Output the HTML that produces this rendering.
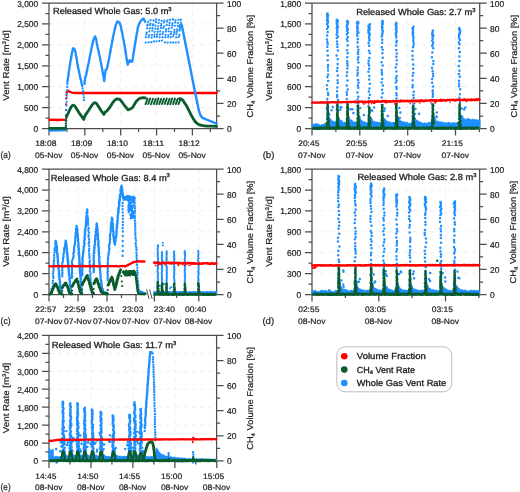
<!DOCTYPE html><html><head><meta charset="utf-8"><title>Vent rate figure</title><style>html,body{margin:0;padding:0;background:#fff}svg{display:block}</style></head><body><svg width="520" height="492" viewBox="0 0 520 492" font-family='"Liberation Sans", sans-serif' stroke-linejoin="round" text-rendering="geometricPrecision">
<rect width="520" height="492" fill="#fff"/>
<path d="M49 107.6H216.6M49 86.7H216.6M49 65.8H216.6M49 44.8H216.6M49 23.9H216.6M84.8 3V128.5M120.7 3V128.5M156.6 3V128.5M192.4 3V128.5" stroke="#e6e6e6" stroke-width="0.7" stroke-dasharray="4.1 4.3" fill="none"/>
<path d="M49 3H216.6V128.5H49ZM49 128.5h-7M49 118h-3.5M49 107.6h-7M49 97.1h-3.5M49 86.7h-7M49 76.2h-3.5M49 65.8h-7M49 55.3h-3.5M49 44.8h-7M49 34.4h-3.5M49 23.9h-7M49 13.5h-3.5M49 3h-7M216.6 128.5h7M216.6 116h3.5M216.6 103.4h7M216.6 90.8h3.5M216.6 78.3h7M216.6 65.8h3.5M216.6 53.2h7M216.6 40.7h3.5M216.6 28.1h7M216.6 15.5h3.5M216.6 3h7M49 128.5v7M84.8 128.5v7M120.7 128.5v7M156.6 128.5v7M192.4 128.5v7M66.9 128.5v3.5M102.8 128.5v3.5M138.6 128.5v3.5M174.5 128.5v3.5M210.3 128.5v3.5" stroke="#4d4d4d" stroke-width="1.25" fill="none"/>
<text x="38.2" y="131.9" font-size="8.5" text-anchor="end" textLength="4.7" lengthAdjust="spacingAndGlyphs" stroke="#1e1e1e" stroke-width="0.22" fill="#1e1e1e">0</text>
<text x="38.2" y="111" font-size="8.5" text-anchor="end" textLength="14.1" lengthAdjust="spacingAndGlyphs" stroke="#1e1e1e" stroke-width="0.22" fill="#1e1e1e">500</text>
<text x="38.2" y="90.1" font-size="8.5" text-anchor="end" textLength="21" lengthAdjust="spacingAndGlyphs" stroke="#1e1e1e" stroke-width="0.22" fill="#1e1e1e">1,000</text>
<text x="38.2" y="69.2" font-size="8.5" text-anchor="end" textLength="21" lengthAdjust="spacingAndGlyphs" stroke="#1e1e1e" stroke-width="0.22" fill="#1e1e1e">1,500</text>
<text x="38.2" y="48.3" font-size="8.5" text-anchor="end" textLength="21" lengthAdjust="spacingAndGlyphs" stroke="#1e1e1e" stroke-width="0.22" fill="#1e1e1e">2,000</text>
<text x="38.2" y="27.4" font-size="8.5" text-anchor="end" textLength="21" lengthAdjust="spacingAndGlyphs" stroke="#1e1e1e" stroke-width="0.22" fill="#1e1e1e">2,500</text>
<text x="38.2" y="6.5" font-size="8.5" text-anchor="end" textLength="21" lengthAdjust="spacingAndGlyphs" stroke="#1e1e1e" stroke-width="0.22" fill="#1e1e1e">3,000</text>
<text x="227" y="131.9" font-size="8.5" textLength="4.7" lengthAdjust="spacingAndGlyphs" stroke="#1e1e1e" stroke-width="0.22" fill="#1e1e1e">0</text>
<text x="227" y="106.9" font-size="8.5" textLength="9.4" lengthAdjust="spacingAndGlyphs" stroke="#1e1e1e" stroke-width="0.22" fill="#1e1e1e">20</text>
<text x="227" y="81.8" font-size="8.5" textLength="9.4" lengthAdjust="spacingAndGlyphs" stroke="#1e1e1e" stroke-width="0.22" fill="#1e1e1e">40</text>
<text x="227" y="56.7" font-size="8.5" textLength="9.4" lengthAdjust="spacingAndGlyphs" stroke="#1e1e1e" stroke-width="0.22" fill="#1e1e1e">60</text>
<text x="227" y="31.5" font-size="8.5" textLength="9.4" lengthAdjust="spacingAndGlyphs" stroke="#1e1e1e" stroke-width="0.22" fill="#1e1e1e">80</text>
<text x="227" y="6.5" font-size="8.5" textLength="14.1" lengthAdjust="spacingAndGlyphs" stroke="#1e1e1e" stroke-width="0.22" fill="#1e1e1e">100</text>
<text transform="translate(9 65.5) rotate(-90)" font-size="8.6" text-anchor="middle" textLength="70.5" lengthAdjust="spacingAndGlyphs" stroke="#1e1e1e" stroke-width="0.22" fill="#1e1e1e">Vent Rate [m<tspan dy="-3" font-size="5.4">3</tspan><tspan dy="3">/d]</tspan></text>
<text transform="translate(253.4 66.2) rotate(-90)" font-size="8.6" text-anchor="middle" textLength="102.7" lengthAdjust="spacingAndGlyphs" stroke="#1e1e1e" stroke-width="0.22" fill="#1e1e1e">CH<tspan dy="1.6" font-size="5.6">4</tspan><tspan dy="-1.6"> Volume Fraction [%]</tspan></text>
<text x="53" y="14.1" font-size="8.9" textLength="118.6" lengthAdjust="spacingAndGlyphs" stroke="#1e1e1e" stroke-width="0.3" fill="#1e1e1e">Released Whole Gas: 5.0 m<tspan dy="-3.2" font-size="5.6">3</tspan></text>
<text x="0.6" y="157.8" font-size="9.3" textLength="10.1" lengthAdjust="spacingAndGlyphs" stroke="#1e1e1e" stroke-width="0.22" fill="#1e1e1e">(a)</text>
<text x="35.2" y="146.2" font-size="8" textLength="21.2" lengthAdjust="spacingAndGlyphs" stroke="#1e1e1e" stroke-width="0.22" fill="#1e1e1e">18:08</text>
<text x="35" y="157.9" font-size="8" textLength="27.4" lengthAdjust="spacingAndGlyphs" stroke="#1e1e1e" stroke-width="0.22" fill="#1e1e1e">05-Nov</text>
<text x="71" y="146.2" font-size="8" textLength="21.2" lengthAdjust="spacingAndGlyphs" stroke="#1e1e1e" stroke-width="0.22" fill="#1e1e1e">18:09</text>
<text x="70.8" y="157.9" font-size="8" textLength="27.4" lengthAdjust="spacingAndGlyphs" stroke="#1e1e1e" stroke-width="0.22" fill="#1e1e1e">05-Nov</text>
<text x="106.9" y="146.2" font-size="8" textLength="21.2" lengthAdjust="spacingAndGlyphs" stroke="#1e1e1e" stroke-width="0.22" fill="#1e1e1e">18:10</text>
<text x="106.7" y="157.9" font-size="8" textLength="27.4" lengthAdjust="spacingAndGlyphs" stroke="#1e1e1e" stroke-width="0.22" fill="#1e1e1e">05-Nov</text>
<text x="142.8" y="146.2" font-size="8" textLength="21.2" lengthAdjust="spacingAndGlyphs" stroke="#1e1e1e" stroke-width="0.22" fill="#1e1e1e">18:11</text>
<text x="142.6" y="157.9" font-size="8" textLength="27.4" lengthAdjust="spacingAndGlyphs" stroke="#1e1e1e" stroke-width="0.22" fill="#1e1e1e">05-Nov</text>
<text x="178.6" y="146.2" font-size="8" textLength="21.2" lengthAdjust="spacingAndGlyphs" stroke="#1e1e1e" stroke-width="0.22" fill="#1e1e1e">18:12</text>
<text x="178.4" y="157.9" font-size="8" textLength="27.4" lengthAdjust="spacingAndGlyphs" stroke="#1e1e1e" stroke-width="0.22" fill="#1e1e1e">05-Nov</text>
<path d="M49.5 119.8 L49.9 119.7 L50.3 120 L50.7 119.6 L51.1 119.9 L51.5 119.8 L51.9 119.6 L52.3 119.9 L52.7 119.6 L53.1 119.9 L53.5 119.6 L53.9 119.6 L54.3 119.8 L54.7 120.1 L55.1 119.6 L55.5 119.7 L55.9 120 L56.3 120.2 L56.7 120 L57.1 119.8 L57.5 120.2 L57.9 119.6 L58.3 120.2 L58.7 119.8 L59.1 119.7 L59.5 119.6 L59.9 119.8 L60.3 120.1 L60.7 119.7 L61.1 120 L61.5 120 L61.9 119.8 L62.3 119.9 L62.7 119.6 L63.1 119.6 L63.5 119.7 L63.9 120 L64.3 119.8 L64.7 119.8 L65.1 120" stroke="#ff0000" stroke-width="2.2" stroke-linecap="round" stroke-linejoin="round" fill="none"/>
<path d="M65.9 116h0M66 110.2h0M66.1 104.4h0M66.2 98.5h0M66.4 95.1h0" stroke="#ff0000" stroke-width="2.3" stroke-linecap="round" fill="none"/>
<path d="M66.6 92.5 L66.9 91.9 L67 91.3 L67.3 90.7 L67.8 90.8 L68.3 90.9 L68.7 91.2 L69.1 91.4 L69.5 91.7 L70 92 L70.5 92.1 L71 92.3 L71.5 92.5 L72 92.7 L72.5 92.8 L73 92.8 L73.5 92.9 L74 92.9 L74.5 92.9 L75 92.9 L75.5 92.9 L76 93 L76.5 93 L77 93 L77.5 93 L78 93 L78.5 93 L79 93 L79.5 93 L80.1 93 L80.5 93 L81 93 L81.5 93 L82 93 L82.5 93 L83.1 93 L83.5 93 L84 93 L84.6 93 L85.1 93 L85.5 93 L86 93 L86.5 93 L87 93 L87.5 93 L88 93 L88.5 93 L89 93 L89.5 93 L90 93 L90.5 93 L91.1 93 L91.5 93 L92 93 L92.5 93 L93.1 93 L93.5 93 L94 93 L94.5 93 L95 93 L95.6 93 L96 93 L96.5 93 L97 93 L97.5 93 L98.1 93 L98.6 93 L99.1 93 L99.5 93 L100 93 L100.5 93 L101 93 L101.6 93 L102.1 93 L102.6 93 L103 93 L103.5 93 L104.1 93 L104.6 93 L105.1 93 L105.5 93 L106.1 93 L106.6 93 L107 93 L107.6 93 L108.1 93 L108.6 93 L109.1 93 L109.5 93 L110.1 93 L110.5 93 L111.1 93 L111.6 93 L112 93 L112.6 93 L113.1 93 L113.6 93 L114.1 93 L114.6 93 L115.1 93 L115.6 93 L116 93 L116.6 93 L117.1 93 L117.6 93 L118.1 93 L118.6 93 L119.1 93 L119.5 93 L120.1 93 L120.6 93 L121.1 93 L121.6 93 L122.1 93 L122.6 93 L123.1 93 L123.6 93 L124.1 93 L124.6 93 L125.1 93 L125.6 93 L126.1 93 L126.6 93 L127.2 93 L127.6 93 L128.1 93 L128.6 93 L129.1 93 L129.6 93 L130.1 93 L130.6 93 L131.1 93 L131.7 93 L132.1 93 L132.6 93 L133.2 93 L133.6 93 L134.1 93 L134.6 93 L135.1 93 L135.6 93 L136.1 93 L136.6 93 L137.1 93 L137.7 93 L138.1 93 L138.6 93 L139.1 93 L139.6 93 L140.2 93 L140.6 93 L141.1 93 L141.6 93 L142.2 93 L142.6 93 L143.2 93 L143.6 93 L144.1 93 L144.6 93 L145.2 93 L145.6 93 L146.2 93 L146.6 93 L147.1 93 L147.6 93 L148.2 93 L148.7 93 L149.1 93 L149.6 93 L150.2 93 L150.6 93 L151.2 93 L151.7 93 L152.2 93 L152.7 93 L153.2 93 L153.6 93 L154.2 93 L154.7 93 L155.1 93 L155.6 93 L156.1 93 L156.6 93 L157.2 93 L157.7 93 L158.2 93 L158.6 93 L159.2 93 L159.7 93 L160.2 93 L160.7 93 L161.1 93 L161.7 93 L162.2 93 L162.6 93 L163.1 93 L163.6 93 L164.2 93 L164.7 93 L165.2 93 L165.7 93 L166.2 93 L166.7 93 L167.2 93 L167.6 93 L168.2 93 L168.7 93 L169.2 93 L169.7 93 L170.2 93 L170.7 93 L171.2 93 L171.7 93 L172.2 93 L172.7 93 L173.2 93 L173.7 93 L174.2 93 L174.7 93 L175.2 93 L175.7 93 L176.2 93 L176.7 93 L177.2 93 L177.7 93 L178.2 93 L178.7 93 L179.2 93 L179.7 93 L180.2 93 L180.7 93 L181.2 93 L181.7 93 L182.2 93 L182.7 93 L183.2 93 L183.7 93 L184.3 93 L184.8 93 L185.2 93 L185.8 93 L186.2 93 L186.7 93 L187.2 93 L187.7 93 L188.3 93 L188.8 93 L189.3 93 L189.7 93 L190.2 93 L190.7 93 L191.2 93 L191.7 93 L192.2 93 L192.7 93 L193.3 93 L193.8 93 L194.3 93 L194.7 93 L195.3 93 L195.7 93 L196.2 93 L196.7 93 L197.2 93 L197.7 93 L198.3 93 L198.7 93 L199.3 93 L199.8 93 L200.3 93 L200.8 93 L201.3 93 L201.8 93 L202.2 93 L202.8 93 L203.3 93 L203.8 93 L204.3 93 L204.8 93 L205.3 93 L205.7 93 L206.2 93 L206.8 93 L207.3 93 L207.8 93 L208.3 93 L208.8 93 L209.3 93 L209.8 93 L210.3 93 L210.8 93 L211.3 93 L211.7 93 L212.3 93 L212.8 93 L213.3 93 L213.8 93 L214.3 93 L214.8 93 L215.3 93 L215.8 93 L216.3 93 L216.8 93" stroke="#ff0000" stroke-width="2.3" stroke-linecap="round" stroke-linejoin="round" fill="none"/>
<path d="M49.5 130.3h0M50 129.7h0M50.4 130.1h0M50.9 130.7h0M51.3 130.6h0M51.8 130.6h0M52.2 130.8h0M52.6 130h0M53.1 129.8h0M53.5 129.9h0M54 130.3h0M54.5 130.5h0M54.9 130.7h0M55.4 130.5h0M55.8 130.4h0M56.2 130.5h0M56.7 130.2h0M57.1 130.3h0M57.6 129.7h0M58 130.6h0M58.5 130h0M59 130.7h0M59.4 130.4h0M59.9 130h0M60.3 129.8h0M60.8 130h0M61.2 130.4h0M61.6 130.5h0M62.1 129.8h0M62.5 129.8h0M63 130.3h0M63.5 130.3h0M63.9 130.1h0M64.3 129.9h0M64.8 130.4h0M65.2 129.7h0" stroke="#1e8fff" stroke-width="2.3" stroke-linecap="round" fill="none"/>
<path d="M65.6 128h0M65.9 121h0M66.1 115h0M66.3 110h0M66.5 105.5h0M66.6 101.8h0M66.8 97.5h0M66.9 94h0M67 90.5h0M67.2 87h0M67.3 84h0" stroke="#1e8fff" stroke-width="2.3" stroke-linecap="round" fill="none"/>
<path d="M67.4 82h0M67.6 81.5h0M67.6 81h0M67.6 80.4h0M67.8 80h0M67.7 79.4h0M67.8 79h0M67.9 78.4h0M68 78.1h0M68 77.4h0M68.1 76.9h0M68.3 76.4h0M68.4 76h0M68.4 75.4h0M68.5 74.9h0M68.6 74.4h0M68.5 74h0M68.6 73.6h0M68.7 72.9h0M68.7 72.4h0M68.9 72h0M68.9 71.4h0M68.9 71h0M69 70.3h0M69.1 69.9h0M69.3 69.5h0M69.4 69h0M69.5 68.4h0M69.4 68h0M69.6 67.3h0M69.6 66.9h0M69.7 66.4h0M69.7 65.8h0M69.8 65.4h0M70 64.8h0M70.1 64.3h0M70.1 64h0M70.2 63.4h0M70.1 62.9h0M70.3 62.5h0M70.3 61.9h0M70.6 61.3h0M70.6 61h0M70.7 60.3h0M70.6 59.8h0M70.9 59.4h0M71 59.1h0M70.9 58.4h0M71.2 58h0M71.1 57.5h0M71.2 56.9h0M71.2 56.5h0M71.5 56h0M71.6 55.4h0M71.5 55h0M71.7 54.6h0M71.7 53.9h0M71.8 53.5h0M72 52.9h0M72.1 52.5h0M72.3 52h0M72.3 51.3h0M72.4 50.8h0M72.6 50.2h0M72.6 49.8h0M72.7 49.1h0M73 48.7h0M73.4 48.3h0M74.3 48.9h0M74.3 49.2h0M74.5 49.8h0M74.9 50.3h0M74.9 50.8h0M75.2 51.4h0M75.5 52h0M75.5 52.3h0M75.7 52.9h0M75.7 53.4h0M75.8 53.8h0M75.8 54.3h0M75.8 55h0M76 55.4h0M76.1 56h0M76.2 56.3h0M76.3 56.9h0M76.5 57.3h0M76.4 58h0M76.6 58.5h0M76.5 58.9h0M76.6 59.3h0M76.9 59.9h0M77 60.4h0M77 60.9h0M77 61.5h0M77.2 61.8h0M77.2 62.4h0M77.2 62.9h0M77.3 63.3h0M77.4 63.9h0M77.6 64.3h0M77.5 64.9h0M77.8 65.3h0M77.8 65.8h0M78 66.4h0M77.9 66.8h0M78.1 67.4h0M78.3 67.8h0M78.2 68.5h0M78.4 68.9h0M78.5 69.5h0M78.6 69.9h0M78.7 70.4h0M79 71h0M79 71.4h0M79.2 71.9h0M79.1 72.5h0M79.3 73h0M79.4 73.5h0M79.5 73.9h0M79.5 74.5h0M79.8 75.1h0M79.8 75.5h0M79.9 76h0M80 76.4h0M80.2 77.1h0M80.2 77.5h0M80.5 78.1h0M80.5 78.4h0M80.7 79.1h0M80.7 79.4h0M81 80h0M81.1 80.5h0M81.2 80.9h0M81.3 81.4h0M81.3 82.1h0M81.5 82.4h0M81.5 83h0M81.6 83.5h0M81.7 83.9h0M81.9 84.6h0M81.9 85h0M82.1 85.4h0M82.2 86h0" stroke="#1e8fff" stroke-width="2.4" stroke-linecap="round" fill="none"/>
<path d="M82.6 88.5h0M83.1 91.2h0M83.5 94.5h0M83.8 97.4h0M84 100.2h0" stroke="#1e8fff" stroke-width="2.3" stroke-linecap="round" fill="none"/>
<path d="M84.6 83.9h0M84.6 83.5h0M84.6 82.9h0M84.6 82.5h0M84.6 82h0M84.7 81.4h0M84.6 80.9h0M84.8 80.3h0M85 79.9h0M85 79.2h0M85.1 78.6h0M85.1 78.1h0M85.2 77.6h0M85.5 77h0M85.7 76.5h0M85.8 76.1h0M85.9 75.4h0M86.1 75h0M86.3 74.4h0M86.4 74.1h0M86.5 73.6h0M86.4 73.1h0M86.6 72.6h0M86.8 71.9h0M86.9 71.6h0M86.8 70.9h0M87.1 70.4h0M87.2 69.9h0M87.3 69.4h0M87.3 69.1h0M87.4 68.4h0M87.6 67.9h0M87.5 67.4h0M87.7 67h0M87.9 66.5h0M87.9 66h0M88 65.4h0M88.2 64.9h0M88.4 64.4h0M88.4 64h0M88.4 63.5h0M88.6 62.9h0M88.8 62.3h0M88.9 61.9h0M88.9 61.5h0M89 60.8h0M89.2 60.3h0M89.3 59.9h0M89.3 59.6h0M89.4 59h0M89.5 58.3h0M89.5 57.9h0M89.7 57.5h0M89.8 57.1h0M89.8 56.4h0M90 55.9h0M90 55.5h0M90.1 55h0M90.2 54.6h0M90.4 54h0M90.5 53.5h0M90.5 53.2h0M90.6 52.5h0M90.7 52.1h0M91 51.7h0M91 51h0M91 50.6h0M91.2 50.1h0M91.3 49.6h0M91.5 49.2h0M91.4 48.7h0M91.5 48.2h0M91.7 47.6h0M91.7 47.2h0M91.8 46.7h0M92.1 46.1h0M92 45.7h0M92.2 45.2h0M92.4 44.6h0M92.4 44.1h0M92.5 43.8h0M92.8 43.2h0M92.7 42.7h0M93 42.1h0M93.2 41.6h0M93.2 41h0M93.3 40.5h0M93.5 40.2h0M93.7 39.7h0M93.8 39.1h0M93.9 38.6h0M94.2 38.1h0M94.4 37.6h0M94.8 37h0M95.1 36.4h0M95.2 36.9h0M95.6 37.6h0M95.8 38h0M96.1 38.5h0M96 39.1h0M96.2 39.6h0M96.3 40.2h0M96.4 40.6h0M96.5 41.2h0M96.5 41.6h0M96.7 42.1h0M96.7 42.7h0M96.7 43.2h0M96.8 43.5h0M96.9 44.3h0M97.1 44.6h0M97.1 45.1h0M97.4 45.7h0M97.5 46.3h0M97.4 46.7h0M97.6 47.3h0M97.8 47.8h0M97.8 48.3h0M98.1 48.8h0M98 49.1h0M98.1 49.6h0M98.4 50.3h0M98.4 50.8h0M98.6 51.1h0M98.5 51.6h0M98.8 52.1h0M98.8 52.7h0M98.8 53.1h0M99 53.8h0M99.1 54.2h0M99.4 54.7h0M99.5 55.2h0M99.4 55.7h0M99.6 56.3h0M99.7 56.7h0M99.8 57.1h0M100 57.6h0M100.1 58.1h0M100.1 58.6h0M100.3 59.3h0M100.3 59.7h0M100.5 60.3h0M100.5 60.7h0M100.6 61.3h0M100.7 61.8h0M100.8 62.1h0M101 62.7h0M101 63.2h0M101 63.8h0M101.3 64.2h0M101.4 64.6h0M101.4 65.1h0M101.6 65.6h0M101.7 66.1h0M101.6 66.6h0M101.9 67.2h0M101.8 67.8h0M101.9 68.1h0M102.1 68.7h0M102.2 69.2h0M102.2 69.6h0M102.3 70.2h0M102.5 70.7h0M102.4 71.1h0M102.7 71.7h0M102.6 72.1h0M102.9 72.6h0M102.8 73.1h0M103 73.7h0M103 74h0M103.1 74.6h0M103.3 75h0M103.3 75.5h0M103.6 76.2h0M103.4 76.7h0M103.5 77.1h0M103.8 77.7h0M103.9 78.1h0M103.8 78.6h0M103.9 79.1h0M104 79.7h0M104.1 80.5h0M104.2 81h0M104.3 80.5h0M104.2 80h0M104.4 79.6h0M104.6 79h0M104.6 78.6h0M104.6 77.9h0M104.7 77.6h0M104.8 77h0M104.9 76.5h0M104.9 75.9h0M104.9 75.5h0M104.9 74.9h0M105.1 74.5h0M105.2 73.8h0M105.2 73.4h0M105.3 72.8h0M105.4 72.5h0M105.3 71.9h0M105.5 71.3h0M105.5 70.9h0M105.5 70.3h0M105.8 69.9h0M106.4 69.5h0M106.5 69h0M106.9 68.7h0M107 68.1h0M107.3 67.6h0M107.3 67.1h0M107.4 66.6h0M107.6 66.1h0M107.6 65.6h0M107.8 64.9h0M107.8 64.5h0M107.9 64h0M108.1 63.6h0M108.1 63h0M108.2 62.6h0M108.5 62.1h0M108.4 61.7h0M108.5 61h0M108.6 60.7h0M108.8 60.1h0M108.8 59.6h0M108.9 59.2h0M109 58.7h0M109.2 58.2h0M109.2 57.6h0M109.3 57.1h0M109.5 56.6h0M109.6 56.1h0M109.6 55.6h0M109.7 55.1h0M109.7 54.8h0M109.8 54.1h0M109.9 53.7h0M110.1 53.2h0M110.2 52.7h0M110.4 52.3h0M110.2 51.8h0M110.5 51.3h0M110.4 50.8h0M110.7 50.1h0M110.6 49.8h0M110.8 49.2h0M110.8 48.6h0M110.9 48.3h0M111 47.7h0M111.3 47.3h0M111.2 46.8h0M111.4 46.3h0M111.5 45.8h0M111.6 45.3h0M111.6 44.8h0M111.7 44.3h0M111.8 43.9h0M111.9 43.2h0M111.9 42.7h0M112.1 42.2h0M112.2 41.7h0M112.3 41.3h0M112.4 40.9h0M112.3 40.4h0M112.5 39.8h0M112.7 39.4h0M112.7 38.8h0M112.9 38.2h0M112.9 37.8h0M112.9 37.3h0M113.1 36.9h0M113.2 36.4h0M113.3 35.8h0M113.5 35.2h0M113.6 34.9h0M113.6 34.4h0M113.7 33.8h0M113.9 33.4h0M113.9 32.9h0M114.1 32.4h0M114.3 31.8h0M114.4 31.4h0M114.4 30.8h0M114.5 30.5h0M114.7 30h0M114.7 29.4h0M114.8 29h0M115 28.5h0M114.9 28h0M115.3 27.5h0M115.2 26.9h0M115.3 26.4h0M115.6 26h0M115.6 25.6h0M115.9 25h0M116.1 24.5h0M116.3 24h0M116.5 23.4h0M116.7 22.9h0M116.9 22.3h0M117 21.8h0M117.4 21.5h0M118 21.6h0M118.7 22h0M119 22.2h0M119.4 22.7h0M119.8 23.1h0M120 23.7h0M120 24.1h0M120.1 24.5h0M120.5 25.1h0M120.7 25.5h0M120.6 26h0M120.9 26.6h0M121.1 27h0M121.1 27.4h0M121.2 27.9h0M121.2 28.4h0M121.3 29h0M121.4 29.6h0M121.5 30.1h0M121.6 30.4h0M121.9 30.9h0M122 31.4h0M121.9 32.1h0M122.2 32.6h0M122.3 32.9h0M122.3 33.6h0M122.4 34.1h0M122.4 34.6h0M122.6 34.9h0M122.6 35.5h0M122.8 35.9h0M122.8 36.5h0M122.9 37h0M123 37.3h0M123.1 38h0M123.2 38.5h0M123.2 39h0M123.4 39.4h0M123.5 39.9h0M123.6 40.5h0M123.8 41h0M123.8 41.3h0M123.8 42h0M124 42.4h0M124 42.9h0M124.3 43.4h0M124.3 43.8h0M124.3 44.4h0M124.4 44.9h0M124.5 45.4h0M124.7 45.8h0M124.6 46.3h0M124.8 46.8h0M125 47.4h0M124.9 47.9h0M125.1 48.4h0M125.1 48.8h0M125.3 49.4h0M125.3 49.9h0M125.3 50.2h0M125.5 50.9h0M125.4 51.4h0M125.7 51.8h0M125.7 52.4h0M125.8 52.8h0M125.8 53.4h0M126 53.8h0M125.9 54.4h0M126.1 54.8h0M126.2 55.4h0M126.3 55.9h0M126.3 56.4h0M126.3 56.8h0M126.4 57.4h0M126.5 57.9h0M126.6 58.4h0M126.6 58.8h0M126.9 59.3h0M126.8 59.9h0M127 60.3h0M127.1 60.8h0M127.1 61.3h0M127.1 62h0M127.4 62.4h0M127.4 62.8h0M127.5 63.4h0M127.6 64h0M127.7 64.5h0M127.9 63.8h0M128.2 63.4h0M128.4 62.9h0M128.7 62.6h0M128.9 62.2h0M129.3 61.5h0M129.4 61.1h0M129.5 60.8h0M129.7 60.2h0M130.2 60.8h0M130.6 61.1h0M131 61.5h0M131.8 61.7h0M132.2 61.4h0M132.3 61h0M132.6 60.6h0M132.6 59.9h0M132.7 59.6h0M132.7 59.1h0M132.7 58.4h0M132.9 58.1h0M133 57.5h0M133 57.1h0M133 56.5h0M133.1 55.9h0M133.2 55.4h0M133.2 54.9h0M133.4 54.4h0M133.5 53.9h0M133.4 53.6h0M133.5 53.1h0M133.8 52.6h0M133.7 52h0M133.7 51.6h0M134 51h0M134 50.5h0M134.1 50h0M134.2 49.4h0M134.2 48.9h0M134.4 48.5h0M134.3 48.1h0M134.4 47.5h0M134.5 46.9h0M134.7 46.5h0M134.6 46h0M134.8 45.6h0M134.8 45.1h0M134.9 44.6h0M135.1 43.9h0M135.1 43.4h0M135.2 42.9h0M135.3 42.6h0M135.5 42.1h0M135.4 41.4h0M135.7 40.9h0M135.7 40.4h0M135.9 39.8h0M135.9 39.4h0M135.8 38.8h0M136.1 38.5h0M136 37.9h0M136.3 37.4h0M136.3 36.9h0M136.3 36.5h0M136.5 35.9h0M136.4 35.3h0M136.6 34.9h0M136.6 34.4h0M136.8 34h0M136.9 33.4h0M136.9 32.8h0M137.1 32.4h0M137.2 31.8h0M137.3 31.4h0M137.4 31h0M137.4 30.3h0M137.5 29.9h0M137.6 29.3h0M137.5 29h0M137.7 28.3h0M137.8 27.9h0M137.9 27.4h0M138.2 26.9h0M138.2 26.5h0M138.6 26h0M138.6 25.5h0M138.8 25h0M138.9 24.6h0M139.2 24h0M139.3 23.5h0M139.6 23h0M140 22.6h0M140.1 22.1h0M140.4 21.8h0M140.6 21.2h0M141 20.8h0M141.2 20.5h0M141.7 20.1h0M142 19.6h0M142.4 19.4h0M142.8 18.9h0M143.5 18.7h0M143.7 19.1h0M144.1 19.7h0M144.4 20.4h0M144.6 20.8h0M145 21.2h0M145.2 21.7h0" stroke="#1e8fff" stroke-width="2.4" stroke-linecap="round" fill="none"/>
<path d="M145.7 42.6h0M145.9 37.1h0M146.4 34.4h0M146.6 32.6h0M147.1 28.3h0M147.2 25.4h0M147.6 24.7h0M148.1 21.9h0M148.5 42.4h0M148.5 37.3h0M149.2 35.3h0M149.3 31.4h0M149.8 28.4h0M150.1 24.9h0M150.4 23.6h0M150.6 20.2h0M151.3 42.2h0M151.6 37.6h0M151.9 35.1h0M152.3 30.6h0M152.5 28.2h0M152.9 25.3h0M153.2 24.5h0M153.6 20.5h0M153.9 41.5h0M154.4 36.8h0M154.5 34.6h0M154.7 31.8h0M155.4 28.7h0M155.5 25.7h0M155.9 22h0M156.1 19.4h0M156.5 41.4h0M156.9 36.7h0M157.1 34.4h0M157.8 31.8h0M158 29h0M158.2 26.3h0M158.6 22.9h0M159.1 20.1h0M159.3 41h0M159.6 37.3h0M160 34.5h0M160.2 31.3h0M160.9 28.1h0M161.1 25.8h0M161.3 23.9h0M161.7 20.8h0M162 40.6h0M162.6 37.2h0M162.6 34.1h0M163.1 32.1h0M163.3 28.1h0M164 26.3h0M164 22.4h0M164.4 20.6h0M164.9 42.4h0M165.3 37.3h0M165.6 34.8h0M166 31.5h0M166.3 29.2h0M166.7 25h0M167.1 21.7h0M167.4 20.4h0M167.6 42.6h0M168 37.1h0M168.4 35.1h0M168.7 31.3h0M169 28.6h0M169.4 25.3h0M169.6 22.9h0M170 19.8h0M170.5 42.4h0M170.7 37.2h0M170.9 33.9h0M171.2 31.8h0M171.8 27.8h0M172.2 25.4h0M172.5 23.5h0M172.9 19.5h0M173.1 42.5h0M173.2 36.3h0M173.8 34.3h0M174.3 32.2h0M174.5 29.8h0M174.8 25.8h0M175.2 22.6h0M175.4 20.4h0M175.8 42.6h0M176.3 37.4h0M176.4 34h0M176.8 31.7h0M177.3 29.5h0M177.8 25.8h0M177.9 23.1h0M178.5 19.9h0M178.6 42.3h0M178.8 36.9h0M179.5 35h0M179.6 30.7h0M180.1 29.1h0M180.4 26.9h0M180.8 22.6h0M180.9 19.7h0" stroke="#1e8fff" stroke-width="2.3" stroke-linecap="round" fill="none"/>
<path d="M179.6 27 L180.4 25 L181.2 24.3 L181.9 25.8 L188.7 60 L194.6 90.1 L198.8 110.2 L200.3 115 L202.1 117.7 L206 119.4 L211 121.4 L216.6 123.6" stroke="#1e8fff" stroke-width="2.4" stroke-linecap="round" stroke-linejoin="round" fill="none"/>
<path d="M49.5 128.3 L65.8 128.3" stroke="#0a5c2c" stroke-width="2.8" stroke-linecap="round" stroke-linejoin="round" fill="none"/>
<path d="M65.9 126h0M66 123.5h0M66.2 120.5h0M66.4 118.2h0" stroke="#0a5c2c" stroke-width="2.3" stroke-linecap="round" fill="none"/>
<path d="M66.6 116.5 L68.5 112.5 L71 107.2 L72.4 105.5 L73.4 105.2 L74.6 105.8 L77 109.5 L80 114.2 L83.8 119.4 L84.6 116.6 L86 114.3 L89 109.8 L92 105 L93.8 103.1 L95 102.7 L96.3 103.2 L98 105.8 L101 110.5 L103.9 114.4 L104.8 112.6 L105.6 111.8 L107 110.8 L109.7 107.5 L113 102.2 L115.5 99.6 L117.3 98.8 L119.8 99.3 L122 102 L125 106.2 L128.1 109.9 L129.2 109.3 L130.6 108.9 L132.5 107.6 L136 101.8 L138 99.6 L140.2 98.1 L143.5 97.6 L145.3 97.9" stroke="#0a5c2c" stroke-width="2.8" stroke-linecap="round" stroke-linejoin="round" fill="none"/>
<path d="M145.5 104.2L147.5 98.6M148.2 104L150.2 98.4M151 104.3L153 98.7M153.8 104.1L155.8 98.9M156.5 104.3L158.5 98.3M159.2 104.1L161.2 98.8M162 104.1L164 98.7M164.8 103.9L166.8 98.5M167.5 104.4L169.5 98.7M170.2 104.3L172.2 98.4M173 104.2L175 98.6M175.8 104.1L177.8 98.7M178.5 104.2L180.5 98.9" stroke="#0a5c2c" stroke-width="1.9" stroke-linecap="round" fill="none"/>
<path d="M179.6 98.6 L181.2 98.8 L183 100.6 L186.2 105.2 L191.2 115.2 L195.4 121.9 L197.5 123.8 L199.6 124.9 L203 125.7 L206.3 126 L211 126.2 L216.6 126.4" stroke="#0a5c2c" stroke-width="2.8" stroke-linecap="round" stroke-linejoin="round" fill="none"/>
<path d="M312 107.6H479.7M312 86.7H479.7M312 65.8H479.7M312 44.8H479.7M312 23.9H479.7M359.8 3V128.5M407.7 3V128.5M455.5 3V128.5" stroke="#e6e6e6" stroke-width="0.7" stroke-dasharray="4.1 4.3" fill="none"/>
<path d="M312 3H479.7V128.5H312ZM312 128.5h-7M312 118h-3.5M312 107.6h-7M312 97.1h-3.5M312 86.7h-7M312 76.2h-3.5M312 65.8h-7M312 55.3h-3.5M312 44.8h-7M312 34.4h-3.5M312 23.9h-7M312 13.5h-3.5M312 3h-7M479.7 128.5h7M479.7 116h3.5M479.7 103.4h7M479.7 90.8h3.5M479.7 78.3h7M479.7 65.8h3.5M479.7 53.2h7M479.7 40.7h3.5M479.7 28.1h7M479.7 15.5h3.5M479.7 3h7M312 128.5v7M359.8 128.5v7M407.7 128.5v7M455.5 128.5v7M335.9 128.5v3.5M383.7 128.5v3.5M431.6 128.5v3.5M479.4 128.5v3.5" stroke="#4d4d4d" stroke-width="1.25" fill="none"/>
<text x="301.2" y="131.9" font-size="8.5" text-anchor="end" textLength="4.7" lengthAdjust="spacingAndGlyphs" stroke="#1e1e1e" stroke-width="0.22" fill="#1e1e1e">0</text>
<text x="301.2" y="111" font-size="8.5" text-anchor="end" textLength="14.1" lengthAdjust="spacingAndGlyphs" stroke="#1e1e1e" stroke-width="0.22" fill="#1e1e1e">300</text>
<text x="301.2" y="90.1" font-size="8.5" text-anchor="end" textLength="14.1" lengthAdjust="spacingAndGlyphs" stroke="#1e1e1e" stroke-width="0.22" fill="#1e1e1e">600</text>
<text x="301.2" y="69.2" font-size="8.5" text-anchor="end" textLength="14.1" lengthAdjust="spacingAndGlyphs" stroke="#1e1e1e" stroke-width="0.22" fill="#1e1e1e">900</text>
<text x="301.2" y="48.3" font-size="8.5" text-anchor="end" textLength="21" lengthAdjust="spacingAndGlyphs" stroke="#1e1e1e" stroke-width="0.22" fill="#1e1e1e">1,200</text>
<text x="301.2" y="27.4" font-size="8.5" text-anchor="end" textLength="21" lengthAdjust="spacingAndGlyphs" stroke="#1e1e1e" stroke-width="0.22" fill="#1e1e1e">1,500</text>
<text x="301.2" y="6.5" font-size="8.5" text-anchor="end" textLength="21" lengthAdjust="spacingAndGlyphs" stroke="#1e1e1e" stroke-width="0.22" fill="#1e1e1e">1,800</text>
<text x="490.1" y="131.9" font-size="8.5" textLength="4.7" lengthAdjust="spacingAndGlyphs" stroke="#1e1e1e" stroke-width="0.22" fill="#1e1e1e">0</text>
<text x="490.1" y="106.9" font-size="8.5" textLength="9.4" lengthAdjust="spacingAndGlyphs" stroke="#1e1e1e" stroke-width="0.22" fill="#1e1e1e">20</text>
<text x="490.1" y="81.8" font-size="8.5" textLength="9.4" lengthAdjust="spacingAndGlyphs" stroke="#1e1e1e" stroke-width="0.22" fill="#1e1e1e">40</text>
<text x="490.1" y="56.7" font-size="8.5" textLength="9.4" lengthAdjust="spacingAndGlyphs" stroke="#1e1e1e" stroke-width="0.22" fill="#1e1e1e">60</text>
<text x="490.1" y="31.5" font-size="8.5" textLength="9.4" lengthAdjust="spacingAndGlyphs" stroke="#1e1e1e" stroke-width="0.22" fill="#1e1e1e">80</text>
<text x="490.1" y="6.5" font-size="8.5" textLength="14.1" lengthAdjust="spacingAndGlyphs" stroke="#1e1e1e" stroke-width="0.22" fill="#1e1e1e">100</text>
<text transform="translate(272 65.5) rotate(-90)" font-size="8.6" text-anchor="middle" textLength="70.5" lengthAdjust="spacingAndGlyphs" stroke="#1e1e1e" stroke-width="0.22" fill="#1e1e1e">Vent Rate [m<tspan dy="-3" font-size="5.4">3</tspan><tspan dy="3">/d]</tspan></text>
<text transform="translate(516.5 66.2) rotate(-90)" font-size="8.6" text-anchor="middle" textLength="102.7" lengthAdjust="spacingAndGlyphs" stroke="#1e1e1e" stroke-width="0.22" fill="#1e1e1e">CH<tspan dy="1.6" font-size="5.6">4</tspan><tspan dy="-1.6"> Volume Fraction [%]</tspan></text>
<text x="356.2" y="14.8" font-size="8.9" textLength="119.4" lengthAdjust="spacingAndGlyphs" stroke="#1e1e1e" stroke-width="0.3" fill="#1e1e1e">Released Whole Gas: 2.7 m<tspan dy="-3.2" font-size="5.6">3</tspan></text>
<text x="262.7" y="157.8" font-size="9.3" textLength="11.7" lengthAdjust="spacingAndGlyphs" stroke="#1e1e1e" stroke-width="0.22" fill="#1e1e1e">(b)</text>
<text x="298.2" y="146.2" font-size="8" textLength="21.2" lengthAdjust="spacingAndGlyphs" stroke="#1e1e1e" stroke-width="0.22" fill="#1e1e1e">20:45</text>
<text x="298" y="157.9" font-size="8" textLength="27.4" lengthAdjust="spacingAndGlyphs" stroke="#1e1e1e" stroke-width="0.22" fill="#1e1e1e">07-Nov</text>
<text x="346" y="146.2" font-size="8" textLength="21.2" lengthAdjust="spacingAndGlyphs" stroke="#1e1e1e" stroke-width="0.22" fill="#1e1e1e">20:55</text>
<text x="345.8" y="157.9" font-size="8" textLength="27.4" lengthAdjust="spacingAndGlyphs" stroke="#1e1e1e" stroke-width="0.22" fill="#1e1e1e">07-Nov</text>
<text x="393.9" y="146.2" font-size="8" textLength="21.2" lengthAdjust="spacingAndGlyphs" stroke="#1e1e1e" stroke-width="0.22" fill="#1e1e1e">21:05</text>
<text x="393.7" y="157.9" font-size="8" textLength="27.4" lengthAdjust="spacingAndGlyphs" stroke="#1e1e1e" stroke-width="0.22" fill="#1e1e1e">07-Nov</text>
<text x="441.7" y="146.2" font-size="8" textLength="21.2" lengthAdjust="spacingAndGlyphs" stroke="#1e1e1e" stroke-width="0.22" fill="#1e1e1e">21:15</text>
<text x="441.5" y="157.9" font-size="8" textLength="27.4" lengthAdjust="spacingAndGlyphs" stroke="#1e1e1e" stroke-width="0.22" fill="#1e1e1e">07-Nov</text>
<path d="M312.3 128L312.3 125.1L312.8 125.2L313.2 125.4L313.6 125.2L314.1 124.1L314.5 125L315 124.9L315.4 124.7L315.9 124.2L316.3 123.7L316.8 124.2L317.2 124L317.7 125.3L318.1 125.5L318.6 124.6L319 125.4L319.5 125L319.9 125.6L320.4 125.8L320.8 125.7L321.3 125.8L321.7 124.6L322.2 124.9L322.6 125.1L323.1 124.7L323.5 124.7L324 125.1L324.4 123.6L324.9 124.1L325.3 123.5L325.8 124.4L326.2 124.2L326.7 124.9L327.1 124.2L327.6 122.6L328 122.8L328.5 117.5L328.9 116.6L329.4 117.8L329.8 119.9L330.3 119.7L330.7 119.4L331.2 120.9L331.6 120.3L332.1 122.2L332.5 122.1L333 121.6L333.4 122.9L333.9 122.8L334.3 121.9L334.8 122.7L335.2 122.3L335.7 123.4L336.1 123.6L336.6 123.3L337 123.7L337.5 122.3L337.9 116.8L338.4 117L338.8 119.2L339.3 118.8L339.7 119.9L340.2 120.4L340.6 121.7L341.1 121.9L341.5 120.6L342 122L342.4 122.5L342.9 122.8L343.3 122.8L343.8 123L344.2 123.5L344.7 122.4L345.1 123.1L345.6 123.6L346 122.6L346.5 123.8L346.9 123.5L347.4 122.5L347.8 123.9L348.3 116.9L348.7 116.7L349.2 117.7L349.6 120.2L350.1 120.3L350.5 119.9L351 121.1L351.4 120.2L351.9 122.2L352.3 120.9L352.8 122.1L353.2 122.8L353.7 122.5L354.1 123.3L354.6 122.3L355 123.3L355.5 122.1L355.9 122.8L356.4 123.3L356.8 123.6L357.3 122.9L357.7 123.7L358.2 122.5L358.6 117.9L359.1 117.6L359.5 118.4L360 119.8L360.4 119.1L360.9 120.6L361.3 120.4L361.8 121L362.2 121.9L362.7 122L363.1 122.9L363.6 122.9L364 121.7L364.5 122.9L364.9 122.4L365.4 123.5L365.8 122.8L366.3 123.2L366.7 123L367.2 123.5L367.6 123.9L368.1 123.5L368.5 123.7L369 123.9L369.4 122.9L369.9 117.3L370.3 117.9L370.8 117.2L371.2 118.4L371.7 118.8L372.1 119.4L372.6 121.7L373 121.7L373.5 122.5L373.9 121.4L374.4 121.7L374.8 122.5L375.3 122.6L375.7 122.2L376.2 122.3L376.6 123.3L377.1 122.2L377.5 123.2L378 122.8L378.4 123.7L378.9 123.8L379.3 122.4L379.8 122.8L380.2 122.8L380.7 124.1L381.1 124.1L381.6 123.9L382 123.9L382.5 123.7L382.9 116.9L383.4 119L383.8 118.9L384.3 118.7L384.7 120.6L385.2 119.5L385.6 120.6L386.1 120.7L386.5 122L387 121.9L387.4 121.6L387.9 122.5L388.3 123.4L388.8 121.9L389.2 122.1L389.7 123.2L390.1 123.7L390.6 122.3L391 122.8L391.5 123.9L391.9 123.6L392.4 123.9L392.8 122.7L393.3 123.8L393.7 122.5L394.2 122.8L394.6 124L395.1 123L395.5 123.5L396 122.9L396.4 122.8L396.9 116.9L397.3 118.5L397.8 116.8L398.2 119.1L398.7 118.4L399.1 119.7L399.6 120L400 120.3L400.5 121.1L400.9 121.8L401.4 122.9L401.8 121.7L402.3 122.5L402.7 122.5L403.2 121.8L403.6 123.5L404.1 122.3L404.5 123.8L405 122.6L405.4 122.5L405.9 123.5L406.3 123.1L406.8 122.3L407.2 123L407.7 123.2L408.1 123.7L408.6 124.1L409 123.6L409.5 123.5L409.9 123.9L410.4 123.7L410.8 124L411.3 123L411.7 123.1L412.2 123.8L412.6 123.8L413.1 123.4L413.5 123.5L414 115.4L414.4 118.3L414.9 119.3L415.3 118.3L415.8 120.9L416.2 120.3L416.7 121.3L417.1 120.6L417.6 121.5L418 121.3L418.5 122.8L418.9 121.9L419.4 122.3L419.8 122.7L420.3 122.2L420.7 122.2L421.2 123.6L421.6 123.4L422.1 123.3L422.5 123.6L423 123.9L423.4 123.6L423.9 123.8L424.3 122.9L424.8 123.4L425.2 124L425.7 123.6L426.1 123.4L426.6 123.6L427 123.9L427.5 124.1L427.9 124.2L428.4 122.5L428.8 122.9L429.3 124.1L429.7 123L430.2 122.5L430.6 123.3L431.1 124.1L431.5 123.4L432 123.5L432.4 123.9L432.9 123.3L433.3 118L433.8 116L434.2 117.8L434.7 118.6L435.1 118.5L435.6 119.8L436 121.3L436.5 121.7L436.9 122.2L437.4 122.7L437.8 121.4L438.3 121.5L438.7 122.8L439.2 123.1L439.6 122.4L440.1 122.1L440.5 122L441 123.6L441.4 122.5L441.9 122.5L442.3 122.7L442.8 123.5L443.2 123.8L443.7 122.6L444.1 123.6L444.6 123.5L445 123.2L445.5 123.5L445.9 122.7L446.4 123.8L446.8 124.2L447.3 123.2L447.7 123.1L448.2 122.8L448.6 123L449.1 122.7L449.5 122.6L450 123.4L450.4 123.4L450.9 124L451.3 123.7L451.8 123.2L452.2 124.1L452.7 123.1L453.1 124L453.6 123.5L454 122.6L454.5 124.1L454.9 124.2L455.4 123.5L455.8 123.9L456.3 123L456.7 124.3L457.2 122.8L457.6 122.8L458.1 122.9L458.5 123.5L459 123.8L459.4 123.1L459.9 123.4L460.3 114.2L460.8 115.5L461.2 115.9L461.7 115.8L462.1 116L462.6 116.3L463 119L463.5 119L463.9 118.8L464.4 118.8L464.8 119.6L465.3 120.2L465.7 120.6L466.2 120.1L466.6 119.9L467.1 118.7L467.5 118.9L468 119.1L468.4 118.9L468.9 119L469.3 119.9L469.8 119.5L470.2 121.4L470.7 119.9L471.1 120.1L471.6 120.9L472 120.2L472.5 119.3L472.9 120.5L473.4 120.1L473.8 120.9L474.3 120.8L474.7 119.5L475.2 121.6L475.6 121.2L476.1 120L476.5 120.6L477 121.5L477.4 120.1L477.9 120.8L478.3 120.3L478.8 120.7L479.2 120.4L479.7 120.3L479.7 128Z" fill="#1e8fff" stroke="#1e8fff" stroke-width="1.4" stroke-linejoin="round"/>
<path d="M327.5 13.4h0M327.2 13.9h0M327.7 15h0M328.1 15.5h0M327 16.1h0M327.3 17h0M327.7 17.8h0M327.7 18.4h0M327.6 18.9h0M327 19.7h0M327 20.5h0M328.1 21.3h0M327.9 22.4h0M327.1 23.9h0M327.9 25.9h0M328.1 27h0M327.1 28.8h0M327.7 31.9h0M327.1 35.4h0M327 39.4h0M327.4 42.1h0M327.7 44.1h0M327.3 46.7h0M327.5 50.8h0M327.8 55.6h0M327.7 60.2h0M328.1 65.1h0M327.9 67.5h0M328 70.5h0M328.1 74.6h0M327.4 76.9h0M328.2 81.1h0M327 85.3h0M327 89.2h0M328 92.8h0M328.2 95.1h0M327.3 99.1h0M327.5 101.7h0M327.7 106.2h0M326.9 108.5h0M328 110.8h0M327.7 113.3h0M327.9 116.1h0M327.1 119.3h0M331.6 110.2h0M332.8 107.1h0M329.3 114.4h0M336.8 19.7h0M337.8 20.5h0M336.6 21.5h0M337.7 22.1h0M337.1 23h0M336.8 23.8h0M337.2 24.8h0M337.5 25.9h0M337.1 26.4h0M337.9 27.1h0M336.7 28.2h0M337.1 29h0M337.4 30.3h0M337.1 31.7h0M337.4 32.7h0M336.6 34.4h0M338 36.6h0M336.8 38.1h0M337 41.4h0M337.3 44.2h0M337.4 46.9h0M337.9 50.5h0M336.6 55.6h0M337.7 59.3h0M337.7 63.9h0M337.5 67.9h0M337 70.9h0M337.8 75.4h0M337.6 80.2h0M337.7 83.1h0M337.3 87.4h0M337.1 91.3h0M337.2 95h0M337.1 97.1h0M338 100h0M337.1 103.5h0M336.9 106.2h0M336.8 109.2h0M337.8 111.1h0M337.2 114.5h0M337 118.2h0M336.7 120.7h0M340.3 109.8h0M341.4 107.3h0M340.4 107.4h0M347.5 20.9h0M347 21.4h0M348.1 22.3h0M347.8 23h0M347.9 23.7h0M347.4 24.2h0M347.1 25.3h0M346.7 25.9h0M347.1 26.5h0M347 27.4h0M347 28.2h0M347.9 29.3h0M347 30.7h0M348 32.4h0M346.8 34.3h0M347.9 36.9h0M346.9 39.1h0M347.5 41.1h0M347.6 45.5h0M347 50.3h0M347.7 53.3h0M347.3 57.2h0M347.2 61.3h0M347.3 63.4h0M347.6 65.5h0M347.4 68.5h0M347.1 72.3h0M346.7 75.7h0M347.5 80.5h0M346.8 85.5h0M347.7 89.4h0M346.8 92.3h0M346.9 94.8h0M346.8 99.1h0M347.3 103.6h0M347.5 107.2h0M347.6 110.9h0M347.2 114.7h0M347.1 119h0M352.4 109.2h0M350.4 109.2h0M353.4 113.1h0M357.5 21.7h0M358.4 22.5h0M357.1 23.1h0M358 23.8h0M357.6 24.8h0M357.4 26h0M357.2 27h0M357.3 27.4h0M357.8 27.9h0M357.4 28.8h0M357.6 30.2h0M357.3 31h0M358.4 32.6h0M357.1 33.8h0M357.4 36.1h0M357.8 39.3h0M357.6 42.5h0M357.7 46.8h0M358.4 49.7h0M358.1 52h0M358 54.1h0M358.3 57.3h0M357.9 59.4h0M358.4 62.6h0M358 67.5h0M357.5 70.2h0M357.7 72.9h0M357.4 75.6h0M358 79.9h0M358.5 82.8h0M357.9 85.4h0M358.3 87.8h0M357.5 92.4h0M358.3 96.7h0M357.6 99.6h0M358.3 103h0M358.1 105.4h0M357.7 109.3h0M358.3 113h0M358.3 115.6h0M358.2 118.6h0M360.2 108.1h0M363.9 114.9h0M359.5 117.2h0M369.8 24.3h0M369.7 24.7h0M369.4 25.3h0M368.6 25.8h0M368.5 26.7h0M369.7 27.4h0M369.6 28.4h0M368.4 29.5h0M369.5 30.1h0M368.5 31.1h0M368.7 32h0M368.5 33.1h0M369.8 33.8h0M369.6 35h0M369.1 36.1h0M369 37.4h0M369.4 38.9h0M369.4 40.5h0M368.6 43.1h0M369.1 45.8h0M368.9 50.7h0M369.8 53.3h0M369.4 58h0M368.6 60.7h0M368.5 63.5h0M369.1 65.6h0M369.2 68.8h0M368.4 71.8h0M369.3 75.9h0M369.2 79.6h0M369.8 83.7h0M369.4 88.4h0M368.8 91.5h0M369.8 94.8h0M368.9 97.9h0M368.6 101.1h0M368.4 106.2h0M369.7 110.1h0M369.3 112.8h0M368.7 115.9h0M368.6 118.4h0M374.2 107.6h0M370.9 110.2h0M372.2 110.7h0M382.3 20.9h0M382.9 21.6h0M382.5 22h0M382.2 23.1h0M382.9 23.9h0M382.4 24.5h0M382 25.5h0M382.1 26.5h0M382.4 27.3h0M382 28.3h0M382.3 29.4h0M382.4 30.3h0M382.8 31.4h0M382.5 32.9h0M382.2 34.8h0M381.7 36.4h0M382.2 39.8h0M382.2 42.8h0M381.8 47.3h0M382.7 49.8h0M382.4 53.2h0M382.8 57.7h0M381.6 62.3h0M382.7 65.5h0M381.7 70h0M381.9 72.4h0M382 74.6h0M382.2 79.1h0M381.6 82.4h0M382.9 85.6h0M382.1 89.7h0M382.6 93.2h0M381.7 97.5h0M382 101.5h0M381.8 105.1h0M382 108.2h0M381.5 111.3h0M382.3 113.9h0M381.7 116h0M381.9 120.2h0M384.9 108.5h0M384.2 110.9h0M387.7 116.1h0M396.2 22.8h0M396.5 23.8h0M395.7 24.5h0M396.1 25.3h0M396 26.2h0M396.5 27h0M396.1 28h0M396.4 28.7h0M395.9 29.8h0M396.6 31.2h0M396.5 32.3h0M395.7 33.5h0M396.1 35.5h0M396.3 37.5h0M396.7 40.7h0M396.4 42.4h0M396.2 45.5h0M396.2 50h0M396.8 53.4h0M396.3 56.8h0M396.8 60.3h0M396.6 64.3h0M395.7 67.5h0M396.4 71.6h0M396.7 75.9h0M395.9 78.2h0M396.7 80.4h0M395.7 82.6h0M396.4 86.9h0M396.6 89h0M396.3 93.2h0M396.6 95.3h0M396.4 98.5h0M396.7 103.6h0M395.8 108.3h0M396.3 111.3h0M397 113.2h0M396 116h0M396 118.9h0M400.4 112.4h0M399.8 117.9h0M399.3 108.1h0M413.5 26.8h0M412.8 27.9h0M412.5 28.4h0M412.9 29.3h0M413.1 30h0M412.9 30.9h0M412.7 31.9h0M413.2 33h0M412.8 33.6h0M413 34.6h0M412.9 35.8h0M413.5 36.9h0M413.4 38.2h0M413.2 40.6h0M413.7 42.7h0M413.6 45.3h0M413 47.2h0M412.5 51.1h0M412.5 55.7h0M412.7 59.5h0M413.2 64.4h0M413.1 68.8h0M413.3 72.9h0M412.7 75.7h0M412.6 80.3h0M412.7 85.1h0M412.5 87.3h0M413.7 91.7h0M413.3 95h0M413.7 97.7h0M412.6 101.8h0M413.4 103.9h0M413.6 105.9h0M412.7 108.8h0M412.8 112.6h0M412.6 116.2h0M412.9 121h0M415.4 108.9h0M419.1 113.8h0M414.8 113.9h0M432.9 30.5h0M432.8 31.1h0M432.7 31.6h0M432.6 32.6h0M432.2 33.5h0M432.2 34.5h0M433.4 35.6h0M432.7 36.8h0M432.5 37.5h0M432.7 38.9h0M432.1 40.7h0M433.2 42.4h0M432.8 44.6h0M432.2 46.1h0M433.3 48.3h0M432.3 52.4h0M432 57.2h0M433.4 61h0M433.3 64h0M432.1 68h0M432.6 71h0M433 73.7h0M433.1 76.2h0M432.1 79.1h0M432.1 82.8h0M433.1 86.4h0M432.6 90.2h0M432.7 92.2h0M432.9 94.5h0M432.8 96.8h0M432.5 99.9h0M432.2 103.9h0M433.3 106.3h0M433.2 109.3h0M432.7 114h0M432.1 116.4h0M432.2 121.1h0M436.7 117.1h0M436.4 116.5h0M436.7 112.4h0M459.3 28.1h0M459.4 28.7h0M459 29.3h0M460 29.9h0M460 30.7h0M460.1 31.1h0M459.9 31.9h0M459.8 32.8h0M459.9 33.4h0M459.2 33.9h0M459.4 34.4h0M459.2 35.3h0M458.9 36.8h0M459.1 38.3h0M459.9 40.1h0M458.9 42.4h0M459.6 44.3h0M458.9 48.2h0M459.8 52.1h0M459.3 56.6h0M459.4 61.1h0M458.8 65.9h0M459.4 70.8h0M458.9 74h0M459.8 76.7h0M459 80.7h0M459 83.8h0M459.1 86.3h0M460.2 89.3h0M459.9 94.3h0M459.5 97.8h0M460.1 102.2h0M459.7 106.4h0M459.7 109h0M459.9 113.6h0M459.8 115.8h0M459 118.8h0M464.1 109.6h0M461.7 108.6h0M465.3 107.6h0" stroke="#1e8fff" stroke-width="2.5" stroke-linecap="round" fill="none"/>
<path d="M312.3 128.3L312.9 128.4L313.5 128.4L314.1 128.2L314.7 128.2L315.3 128.4L315.9 128.3L316.5 128.4L317.1 128.1L317.7 128.4L318.3 128.2L318.9 128.4L319.5 128L320.1 128.4L320.7 128.3L321.3 128.1L321.9 128.4L322.5 128.1L323.1 128L323.7 128.2L324.3 128.1L324.9 128.2L325.5 128.4L326.1 128.3L326.7 128.3L327.3 128.1L327.9 128.3L328.5 128.3L329.1 128.3L329.7 128.4L330.3 128.4L330.9 128.2L331.5 128L332.1 128.3L332.7 128.4L333.3 128.1L333.9 128.2L334.5 128.4L335.1 128.3L335.7 128L336.3 128.2L336.9 128L337.5 128L338.1 128.4L338.7 128.2L339.3 128.3L339.9 128.2L340.5 128.1L341.1 128.1L341.7 128.1L342.3 128.4L342.9 128.3L343.5 128.1L344.1 128L344.7 128.1L345.3 128.3L345.9 128.2L346.5 128.3L347.1 128.4L347.7 128L348.3 128.3L348.9 128L349.5 128.4L350.1 128L350.7 128.1L351.3 128.4L351.9 128.1L352.5 128.1L353.1 128.4L353.7 128.3L354.3 128.4L354.9 128.1L355.5 128.2L356.1 128.4L356.7 128.2L357.3 128.4L357.9 128L358.5 128.4L359.1 128L359.7 128.2L360.3 128L360.9 128L361.5 128.4L362.1 128.2L362.7 128.4L363.3 128.1L363.9 128.1L364.5 128L365.1 128.2L365.7 128.4L366.3 128.2L366.9 128.1L367.5 128.4L368.1 128.4L368.7 128.3L369.3 128L369.9 128.3L370.5 128.2L371.1 128.4L371.7 128.1L372.3 128.3L372.9 128.3L373.5 128.1L374.1 128.2L374.7 128.3L375.3 128.4L375.9 128.2L376.5 128.1L377.1 128.4L377.7 128L378.3 128.4L378.9 128.3L379.5 128.2L380.1 128.2L380.7 128.3L381.3 128.4L381.9 128.3L382.5 128.3L383.1 128L383.7 128.1L384.3 128L384.9 128.4L385.5 128.4L386.1 128L386.7 128.2L387.3 128.2L387.9 128L388.5 128.1L389.1 128.3L389.7 128.3L390.3 128.1L390.9 128.3L391.5 128.1L392.1 128.2L392.7 128.2L393.3 128.4L393.9 128.3L394.5 128.4L395.1 128.3L395.7 128.1L396.3 128.4L396.9 128.3L397.5 128.3L398.1 128.1L398.7 128L399.3 128.2L399.9 128.4L400.5 128.3L401.1 128.1L401.7 128L402.3 128.2L402.9 128.4L403.5 128L404.1 128.3L404.7 128L405.3 128.1L405.9 128L406.5 128.1L407.1 128.1L407.7 128.4L408.3 128.4L408.9 128L409.5 128.1L410.1 128.4L410.7 128L411.3 128.1L411.9 128.2L412.5 128L413.1 128.1L413.7 128.1L414.3 128.1L414.9 128.4L415.5 128.1L416.1 128.1L416.7 128.4L417.3 128.2L417.9 128.4L418.5 128.3L419.1 128.3L419.7 128.1L420.3 128L420.9 128.3L421.5 128.2L422.1 128.2L422.7 128.3L423.3 128.3L423.9 128.1L424.5 128.1L425.1 128.4L425.7 128.2L426.3 128.1L426.9 128.3L427.5 128.1L428.1 128.3L428.7 128L429.3 128.4L429.9 128.2L430.5 128.1L431.1 128.4L431.7 128.1L432.3 128.1L432.9 128L433.5 128.2L434.1 128.3L434.7 128.3L435.3 128.2L435.9 128.4L436.5 128L437.1 128.1L437.7 128.3L438.3 128.4L438.9 128.3L439.5 128.3L440.1 128.3L440.7 128.1L441.3 128.4L441.9 128.3L442.5 128.1L443.1 128.1L443.7 128.4L444.3 128.1L444.9 128L445.5 128.4L446.1 128.2L446.7 128.2L447.3 128.3L447.9 128.4L448.5 128L449.1 128.1L449.7 128L450.3 128.2L450.9 128.2L451.5 128.4L452.1 128.3L452.7 128.2L453.3 128.2L453.9 128.2L454.5 128.1L455.1 128.4L455.7 128.3L456.3 128.4L456.9 128L457.5 128.3L458.1 128.3L458.7 128.2L459.3 128.4L459.9 128.4L460.5 128.3L461.1 128.4L461.7 128.3L462.3 128.4L462.9 128L463.5 128.3L464.1 128.3L464.7 128.3L465.3 128.1L465.9 128L466.5 128.3L467.1 128.4L467.7 128.1L468.3 128.1L468.9 128.1L469.5 128L470.1 128.3L470.7 128.4L471.3 128.4L471.9 128.1L472.5 128.3L473.1 128L473.7 128.4L474.3 128.1L474.9 128L475.5 128.3L476.1 128L476.7 128.1L477.3 128L477.9 128.2L478.5 128.2L479.1 128.4" stroke="#0a5c2c" stroke-width="3" fill="none" stroke-linejoin="round"/>
<path d="M327.3 103.8h0M328 104.1h0M327.4 104.4h0M327.4 104.7h0M327.8 105h0M327.6 105.3h0M327.6 105.7h0M327.8 106h0M327.5 106.3h0M328 106.6h0M327.5 106.9h0M328.1 107.2h0M328 107.5h0M327.8 107.8h0M327.3 108.1h0M328 108.4h0M327.3 108.8h0M327.8 109.1h0M327.7 109.4h0M327.3 109.7h0M327.9 110h0M328 110.3h0M327.8 110.6h0M327.7 110.9h0M327.8 111.2h0M327.9 111.5h0M327.5 111.9h0M328.2 112.2h0M328.2 112.5h0M328.2 112.8h0M328.2 113.1h0M327.6 113.4h0M328.3 113.7h0M327.3 114h0M327.7 114.3h0M327.3 114.6h0M327.7 115h0M328.1 115.3h0M328 115.6h0M327.8 115.9h0M327.6 116.2h0M327.4 116.5h0M327.7 116.8h0M327.5 117.1h0M327.4 117.4h0M328.3 117.7h0M327.8 118.1h0M327.8 118.4h0M327.3 118.7h0M328.3 119h0M327.3 119.3h0M327.4 119.6h0M327.9 119.9h0M328.3 120.2h0M328.6 120.5h0M328.4 120.8h0M328.6 121.2h0M328.9 121.5h0M328.2 121.8h0M328.5 122.1h0M326.9 122.4h0M327.2 122.7h0M326.8 123h0M328.9 123.3h0M328.3 123.6h0M328.3 123.9h0M327.3 124.3h0M327.5 124.6h0M327 124.9h0M328.4 125.2h0M329.1 125.5h0M327.4 125.8h0M326.6 126.1h0M326.9 126.4h0M327.4 126.7h0M329.4 127h0" stroke="#0a5c2c" stroke-width="2.1" stroke-linecap="round" fill="none"/>
<path d="M337.6 104.3h0M337.4 104.6h0M337.1 104.9h0M337 105.2h0M337.1 105.5h0M337.7 105.8h0M337.4 106.2h0M337.9 106.5h0M337.7 106.8h0M337.7 107.1h0M337.4 107.4h0M337.8 107.7h0M337.1 108h0M337 108.3h0M337.5 108.6h0M337.5 108.9h0M337.2 109.3h0M337.2 109.6h0M337 109.9h0M337.9 110.2h0M337.6 110.5h0M338 110.8h0M337.9 111.1h0M337.4 111.4h0M337.7 111.7h0M337.4 112h0M337.8 112.4h0M337.9 112.7h0M337.1 113h0M336.9 113.3h0M337.2 113.6h0M337.6 113.9h0M337.3 114.2h0M336.9 114.5h0M337.8 114.8h0M337.9 115.1h0M337.4 115.5h0M336.9 115.8h0M337.9 116.1h0M337.6 116.4h0M336.9 116.7h0M337.3 117h0M337.7 117.3h0M338.2 117.6h0M337.5 117.9h0M337.8 118.2h0M337.1 118.6h0M337.1 118.9h0M338.1 119.2h0M337.4 119.5h0M336.9 119.8h0M337.8 120.1h0M336.9 120.4h0M337 120.7h0M337.4 121h0M337.8 121.3h0M337.8 121.7h0M338.1 122h0M337.4 122.3h0M336.6 122.6h0M338 122.9h0M336.5 123.2h0M337.5 123.5h0M337.4 123.8h0M337.9 124.1h0M338.3 124.4h0M336.9 124.8h0M338.1 125.1h0M338 125.4h0M337.6 125.7h0M336.6 126h0M339 126.3h0M337.8 126.6h0M336.2 126.9h0" stroke="#0a5c2c" stroke-width="2.1" stroke-linecap="round" fill="none"/>
<path d="M347.3 104.3h0M348 104.6h0M347.3 104.9h0M347.4 105.2h0M347.7 105.5h0M347.8 105.8h0M347.6 106.2h0M347.8 106.5h0M347.1 106.8h0M347.1 107.1h0M347.9 107.4h0M347.8 107.7h0M347.1 108h0M347.1 108.3h0M347.3 108.6h0M348 108.9h0M347.3 109.3h0M347.7 109.6h0M347.9 109.9h0M347.7 110.2h0M347.9 110.5h0M347.3 110.8h0M347.2 111.1h0M347 111.4h0M347.8 111.7h0M347.1 112h0M348 112.4h0M347.9 112.7h0M347.2 113h0M348 113.3h0M347.2 113.6h0M347.6 113.9h0M347.1 114.2h0M348 114.5h0M348 114.8h0M348.2 115.1h0M347 115.5h0M348.2 115.8h0M347.6 116.1h0M348.1 116.4h0M347.6 116.7h0M347.9 117h0M347.7 117.3h0M348.2 117.6h0M347 117.9h0M346.9 118.2h0M347.7 118.6h0M347.3 118.9h0M347.4 119.2h0M346.8 119.5h0M348 119.8h0M346.8 120.1h0M348.2 120.4h0M348.4 120.7h0M347.5 121h0M346.9 121.3h0M347.9 121.7h0M347 122h0M347.5 122.3h0M346.8 122.6h0M348.6 122.9h0M347.9 123.2h0M347.3 123.5h0M346.7 123.8h0M348.2 124.1h0M348.8 124.4h0M348.5 124.8h0M346.6 125.1h0M347.3 125.4h0M347.2 125.7h0M348.3 126h0M346.6 126.3h0M347.9 126.6h0M349.5 126.9h0" stroke="#0a5c2c" stroke-width="2.1" stroke-linecap="round" fill="none"/>
<path d="M358.1 105.5h0M357.4 105.8h0M357.6 106.1h0M357.5 106.4h0M358.1 106.7h0M358 107h0M357.9 107.4h0M357.9 107.7h0M357.8 108h0M358 108.3h0M358 108.6h0M358.4 108.9h0M358.1 109.2h0M358.3 109.5h0M358.3 109.8h0M358.3 110.1h0M358.1 110.5h0M357.5 110.8h0M358.1 111.1h0M358.4 111.4h0M357.9 111.7h0M358.4 112h0M357.7 112.3h0M358.5 112.6h0M357.9 112.9h0M358.2 113.2h0M357.7 113.6h0M357.8 113.9h0M357.8 114.2h0M357.8 114.5h0M357.5 114.8h0M358 115.1h0M358.5 115.4h0M358.3 115.7h0M358.5 116h0M358.4 116.3h0M358.4 116.7h0M358.8 117h0M358.3 117.3h0M357.7 117.6h0M357.7 117.9h0M357.9 118.2h0M357.3 118.5h0M357.6 118.8h0M358.6 119.1h0M358.9 119.4h0M357.7 119.8h0M358.6 120.1h0M358.5 120.4h0M358.9 120.7h0M358.5 121h0M358.2 121.3h0M357.3 121.6h0M358.9 121.9h0M357.7 122.2h0M358.4 122.5h0M357.8 122.9h0M358.2 123.2h0M359 123.5h0M357.2 123.8h0M358.1 124.1h0M358.6 124.4h0M358.1 124.7h0M359.5 125h0M357.8 125.3h0M359.5 125.6h0M358.5 126h0M359.7 126.3h0M356.9 126.6h0M357.2 126.9h0" stroke="#0a5c2c" stroke-width="2.1" stroke-linecap="round" fill="none"/>
<path d="M369 107.2h0M369.6 107.5h0M368.8 107.8h0M369 108.1h0M369.4 108.4h0M369.7 108.7h0M369 109.1h0M369.2 109.4h0M369.4 109.7h0M369.4 110h0M369.4 110.3h0M369.5 110.6h0M369 110.9h0M369 111.2h0M368.8 111.5h0M369.5 111.8h0M369 112.2h0M369 112.5h0M369.7 112.8h0M369.4 113.1h0M369.3 113.4h0M369.5 113.7h0M369.3 114h0M369.5 114.3h0M369.1 114.6h0M368.8 114.9h0M368.8 115.3h0M368.7 115.6h0M369.1 115.9h0M368.9 116.2h0M368.8 116.5h0M369.3 116.8h0M369.8 117.1h0M369.6 117.4h0M369 117.7h0M369.8 118h0M368.9 118.4h0M368.7 118.7h0M369 119h0M369.2 119.3h0M369.6 119.6h0M369.3 119.9h0M369.6 120.2h0M368.6 120.5h0M370 120.8h0M369.1 121.1h0M369.9 121.5h0M368.4 121.8h0M369.9 122.1h0M368.8 122.4h0M370 122.7h0M370.2 123h0M369.7 123.3h0M368.9 123.6h0M368.3 123.9h0M368.6 124.2h0M370.3 124.6h0M368.5 124.9h0M369.7 125.2h0M369.7 125.5h0M369.8 125.8h0M368.5 126.1h0M368.4 126.4h0M368.1 126.7h0" stroke="#0a5c2c" stroke-width="2.1" stroke-linecap="round" fill="none"/>
<path d="M382.7 104.8h0M382.2 105.1h0M382.4 105.4h0M382.4 105.7h0M382.1 106h0M381.9 106.3h0M381.9 106.7h0M382.7 107h0M382 107.3h0M382.8 107.6h0M382.2 107.9h0M382.6 108.2h0M382 108.5h0M382.6 108.8h0M382.1 109.1h0M382.2 109.4h0M382.4 109.8h0M382 110.1h0M382.1 110.4h0M382.7 110.7h0M382.2 111h0M382.3 111.3h0M382.6 111.6h0M382.1 111.9h0M382.1 112.2h0M382.1 112.5h0M382.2 112.9h0M382.2 113.2h0M382.5 113.5h0M382.4 113.8h0M382.7 114.1h0M381.8 114.4h0M382.5 114.7h0M382.9 115h0M382.1 115.3h0M381.8 115.6h0M382.3 116h0M381.9 116.3h0M382.3 116.6h0M382.8 116.9h0M381.9 117.2h0M381.9 117.5h0M382.4 117.8h0M381.9 118.1h0M382 118.4h0M382.4 118.7h0M381.8 119.1h0M381.7 119.4h0M382.2 119.7h0M382.4 120h0M383.1 120.3h0M382.6 120.6h0M381.7 120.9h0M381.9 121.2h0M382.9 121.5h0M382.7 121.8h0M383.1 122.2h0M383.6 122.5h0M383.1 122.8h0M381.6 123.1h0M383.4 123.4h0M382.6 123.7h0M381.8 124h0M381.6 124.3h0M383.3 124.6h0M381.7 124.9h0M381.4 125.3h0M381.8 125.6h0M383.6 125.9h0M382.5 126.2h0M383.1 126.5h0M381.1 126.8h0" stroke="#0a5c2c" stroke-width="2.1" stroke-linecap="round" fill="none"/>
<path d="M396.4 103.8h0M396.2 104.1h0M396.2 104.4h0M396.6 104.7h0M396.3 105h0M396 105.3h0M396.8 105.7h0M396.4 106h0M396.2 106.3h0M395.9 106.6h0M396.5 106.9h0M396.5 107.2h0M396 107.5h0M396.4 107.8h0M396.6 108.1h0M396.5 108.4h0M396.2 108.8h0M396.5 109.1h0M396.5 109.4h0M396.6 109.7h0M396.1 110h0M396.8 110.3h0M396.8 110.6h0M396.8 110.9h0M396.8 111.2h0M396.3 111.5h0M396.8 111.9h0M396.1 112.2h0M396.2 112.5h0M396.6 112.8h0M396.9 113.1h0M396 113.4h0M396.2 113.7h0M395.9 114h0M396.4 114.3h0M396 114.6h0M396.1 115h0M396.9 115.3h0M396.6 115.6h0M397.2 115.9h0M396.4 116.2h0M396.8 116.5h0M395.9 116.8h0M397.3 117.1h0M396.1 117.4h0M396.5 117.7h0M396.5 118.1h0M397.4 118.4h0M396.5 118.7h0M397.5 119h0M396.7 119.3h0M396 119.6h0M397.1 119.9h0M396 120.2h0M397.4 120.5h0M396.5 120.8h0M396 121.2h0M397.7 121.5h0M396.2 121.8h0M396.4 122.1h0M396.2 122.4h0M397.1 122.7h0M395.5 123h0M396.3 123.3h0M395.8 123.6h0M397.6 123.9h0M395.4 124.3h0M397 124.6h0M395.9 124.9h0M396.5 125.2h0M396.7 125.5h0M397.4 125.8h0M395.6 126.1h0M395.8 126.4h0M395.5 126.7h0M398.3 127h0" stroke="#0a5c2c" stroke-width="2.1" stroke-linecap="round" fill="none"/>
<path d="M412.9 106h0M412.8 106.3h0M413.2 106.6h0M413.3 106.9h0M413.5 107.2h0M412.8 107.5h0M413 107.9h0M412.9 108.2h0M413.3 108.5h0M413.2 108.8h0M413.1 109.1h0M413.6 109.4h0M413.4 109.7h0M413.6 110h0M413.6 110.3h0M413 110.6h0M413.6 111h0M413.2 111.3h0M412.8 111.6h0M413.7 111.9h0M412.9 112.2h0M412.7 112.5h0M413.1 112.8h0M413.1 113.1h0M413.7 113.4h0M413.7 113.7h0M413.2 114.1h0M413.4 114.4h0M413.6 114.7h0M413.7 115h0M413.4 115.3h0M413.4 115.6h0M412.8 115.9h0M413 116.2h0M413.5 116.5h0M413.5 116.8h0M413.6 117.2h0M414 117.5h0M413.9 117.8h0M412.9 118.1h0M412.7 118.4h0M414.1 118.7h0M413.4 119h0M412.8 119.3h0M413.6 119.6h0M412.9 119.9h0M412.9 120.3h0M413.1 120.6h0M413.3 120.9h0M413.8 121.2h0M412.6 121.5h0M414 121.8h0M413.5 122.1h0M413.4 122.4h0M413.7 122.7h0M414.2 123h0M412.3 123.4h0M413.4 123.7h0M413.7 124h0M414 124.3h0M413.7 124.6h0M412.5 124.9h0M414.5 125.2h0M414.4 125.5h0M412.6 125.8h0M413.3 126.1h0M414.6 126.5h0M412.5 126.8h0" stroke="#0a5c2c" stroke-width="2.1" stroke-linecap="round" fill="none"/>
<path d="M432.7 104.3h0M433.3 104.6h0M433.1 104.9h0M432.5 105.2h0M433 105.5h0M432.7 105.8h0M432.9 106.2h0M433.1 106.5h0M432.5 106.8h0M432.6 107.1h0M432.6 107.4h0M432.6 107.7h0M432.4 108h0M432.5 108.3h0M432.8 108.6h0M432.8 108.9h0M432.5 109.3h0M433 109.6h0M433.2 109.9h0M433 110.2h0M432.7 110.5h0M433.1 110.8h0M432.8 111.1h0M432.5 111.4h0M432.8 111.7h0M432.3 112h0M433 112.4h0M432.5 112.7h0M432.7 113h0M433.5 113.3h0M433.1 113.6h0M433.4 113.9h0M433 114.2h0M433.1 114.5h0M433.1 114.8h0M433.6 115.1h0M432.5 115.5h0M433.3 115.8h0M432.6 116.1h0M432.6 116.4h0M433.3 116.7h0M433.1 117h0M433.3 117.3h0M433.6 117.6h0M433 117.9h0M432.5 118.2h0M432.2 118.6h0M433.1 118.9h0M433.2 119.2h0M432.6 119.5h0M432.2 119.8h0M432 120.1h0M432.4 120.4h0M433.4 120.7h0M432 121h0M432.4 121.3h0M432.5 121.7h0M433.5 122h0M433.9 122.3h0M431.9 122.6h0M432.1 122.9h0M434.2 123.2h0M433.9 123.5h0M432.1 123.8h0M432.6 124.1h0M433.1 124.4h0M432.5 124.8h0M432.8 125.1h0M432.9 125.4h0M432.3 125.7h0M431.8 126h0M431.7 126.3h0M432 126.6h0M431.7 126.9h0" stroke="#0a5c2c" stroke-width="2.1" stroke-linecap="round" fill="none"/>
<path d="M459.7 103.8h0M459.8 104.1h0M459.4 104.4h0M459.9 104.7h0M459.8 105h0M459.5 105.3h0M459.6 105.7h0M459.3 106h0M460 106.3h0M459.7 106.6h0M459.3 106.9h0M459.3 107.2h0M459.8 107.5h0M459.5 107.8h0M459.8 108.1h0M459.4 108.4h0M459.9 108.8h0M460 109.1h0M459.3 109.4h0M459.8 109.7h0M459.4 110h0M459.9 110.3h0M459.9 110.6h0M460 110.9h0M459.4 111.2h0M459.2 111.5h0M459.8 111.9h0M459.8 112.2h0M459.3 112.5h0M459.3 112.8h0M459.7 113.1h0M459.2 113.4h0M459.8 113.7h0M459.4 114h0M459.4 114.3h0M459.6 114.6h0M459.7 115h0M460.1 115.3h0M459.1 115.6h0M460.1 115.9h0M459.3 116.2h0M459.4 116.5h0M459.9 116.8h0M460.1 117.1h0M459.8 117.4h0M460.5 117.7h0M459.3 118.1h0M459.5 118.4h0M459.9 118.7h0M459.3 119h0M459.2 119.3h0M459.3 119.6h0M460.1 119.9h0M460.5 120.2h0M460.1 120.5h0M460.8 120.8h0M460.2 121.2h0M459.4 121.5h0M459.4 121.8h0M460.4 122.1h0M458.8 122.4h0M460.1 122.7h0M458.9 123h0M458.7 123.3h0M459.8 123.6h0M458.9 123.9h0M460.7 124.3h0M461 124.6h0M459.6 124.9h0M459 125.2h0M458.8 125.5h0M459.9 125.8h0M459.8 126.1h0M459.4 126.4h0M460.4 126.7h0M460 127h0" stroke="#0a5c2c" stroke-width="2.1" stroke-linecap="round" fill="none"/>
<path d="M312.2 102.8 L312.7 102.6 L313.2 102.5 L313.7 102.6 L314.2 102.7 L314.7 102.6 L315.2 102.7 L315.7 102.5 L316.2 102.6 L316.7 102.6 L317.2 102.7 L317.7 102.7 L318.2 102.5 L318.7 102.6 L319.2 102.7 L319.7 102.7 L320.2 102.6 L320.7 102.4 L321.2 102.5 L321.7 102.6 L322.2 102.4 L322.7 102.4 L323.2 102.6 L323.7 102.6 L324.2 102.4 L324.7 102.5 L325.2 102.5 L325.7 102.4 L326.2 102.3 L326.7 102.5 L327.2 102.5 L327.7 102.4 L328.2 102.3 L328.7 102.4 L329.2 102.3 L329.7 102.5 L330.2 102.2 L330.7 102.3 L331.2 102.4 L331.7 102.2 L332.2 102.2 L332.7 102.2 L333.2 102.2 L333.7 102.3 L334.2 102.4 L334.7 102.2 L335.2 102.2 L335.7 102.3 L336.2 102.2 L336.7 102.2 L337.2 102.1 L337.7 102.1 L338.2 102.4 L338.7 102.1 L339.2 102.1 L339.7 102.3 L340.2 102.3 L340.7 102.3 L341.2 102.2 L341.7 102.3 L342.2 102.2 L342.7 102.1 L343.2 102.1 L343.7 102.2 L344.2 102.2 L344.7 102 L345.2 102 L345.7 102.2 L346.2 101.9 L346.7 102.2 L347.2 102 L347.7 102 L348.2 102 L348.7 102 L349.2 102.2 L349.7 101.9 L350.2 102.1 L350.7 101.9 L351.2 101.9 L351.7 102 L352.2 101.9 L352.7 101.9 L353.2 101.9 L353.7 102 L354.2 102 L354.7 101.9 L355.2 101.4 L355.7 102.2 L356.2 102 L356.7 102.3 L357.2 102.4 L357.7 101.7 L358.2 102.2 L358.7 102.2 L359.2 101.6 L359.7 101.7 L360.2 101.7 L360.7 101.6 L361.2 101.7 L361.7 101.4 L362.2 101.5 L362.7 102.2 L363.2 101.7 L363.7 101.9 L364.2 102.2 L364.7 102 L365.2 101.4 L365.7 102.2 L366.2 102 L366.7 102.2 L367.2 101.9 L367.7 102 L368.2 102 L368.7 101.4 L369.2 101.8 L369.7 101.5 L370.2 102 L370.7 101.2 L371.2 101.6 L371.7 101.4 L372.2 101.9 L372.7 101.4 L373.2 101.9 L373.7 101.9 L374.2 102 L374.7 101.1 L375.2 102 L375.7 101.8 L376.2 101.7 L376.7 101.7 L377.2 101 L377.7 101.9 L378.2 101.5 L378.7 101.4 L379.2 101.3 L379.7 101.8 L380.2 101.7 L380.7 101.8 L381.2 101.1 L381.7 101.2 L382.2 101.1 L382.7 101 L383.2 101.2 L383.7 100.9 L384.2 101.7 L384.7 101.1 L385.2 100.9 L385.7 100.9 L386.2 101.6 L386.7 101 L387.2 101.3 L387.7 101.2 L388.2 101.6 L388.7 101.8 L389.2 101.1 L389.7 101.4 L390.2 101.7 L390.7 101.2 L391.2 101.7 L391.7 101.5 L392.2 101 L392.7 101.6 L393.2 101.3 L393.7 100.8 L394.2 101.3 L394.7 101.5 L395.2 101.2 L395.7 101.1 L396.2 101.1 L396.7 101.6 L397.2 101.3 L397.7 100.8 L398.2 101 L398.7 100.9 L399.2 101.6 L399.7 101.3 L400.2 100.7 L400.7 101.5 L401.2 100.5 L401.7 101.1 L402.2 101 L402.7 101.3 L403.2 100.9 L403.7 100.6 L404.2 101 L404.7 101.3 L405.2 101.3 L405.7 100.8 L406.2 100.7 L406.7 101.2 L407.2 101.3 L407.7 100.6 L408.2 101.3 L408.7 101.5 L409.2 100.8 L409.7 100.8 L410.2 101.1 L410.7 101.3 L411.2 100.5 L411.7 100.6 L412.2 100.7 L412.7 101.1 L413.2 100.5 L413.7 100.9 L414.2 100.8 L414.7 101 L415.2 100.4 L415.7 101.3 L416.2 101.3 L416.7 100.8 L417.2 101.1 L417.7 100.4 L418.2 101.2 L418.7 100.8 L419.2 101 L419.7 101.1 L420.2 100.5 L420.7 101.2 L421.2 100.4 L421.7 100.1 L422.2 100.7 L422.7 101.1 L423.2 101.1 L423.7 101.1 L424.2 100.6 L424.7 101.1 L425.2 100.7 L425.7 100.2 L426.2 100.7 L426.7 100.9 L427.2 100.5 L427.7 100.7 L428.2 100.3 L428.7 100.3 L429.2 100.4 L429.7 100.5 L430.2 100.5 L430.7 100.1 L431.2 100 L431.7 100.3 L432.2 100.7 L432.7 100.7 L433.2 100.2 L433.7 100.2 L434.2 100.5 L434.7 100.1 L435.2 100.5 L435.7 100.9 L436.2 100.1 L436.7 100.5 L437.2 100.6 L437.7 100.7 L438.2 100.6 L438.7 100.6 L439.2 100.1 L439.7 100.7 L440.2 100.8 L440.7 99.8 L441.2 100.8 L441.7 100.2 L442.2 99.8 L442.7 99.8 L443.2 100.6 L443.7 100.5 L444.2 99.9 L444.7 100.2 L445.2 100.4 L445.7 100.8 L446.2 100 L446.7 100.5 L447.2 99.9 L447.7 99.9 L448.2 99.8 L448.7 100.1 L449.2 100.3 L449.7 99.9 L450.2 99.8 L450.7 99.8 L451.2 99.7 L451.7 99.8 L452.2 99.9 L452.7 100.1 L453.2 99.7 L453.7 100.1 L454.2 100 L454.7 100.6 L455.2 100 L455.7 100.5 L456.2 100 L456.7 99.7 L457.2 100.1 L457.7 99.6 L458.2 99.6 L458.7 99.5 L459.2 100.2 L459.7 100.5 L460.2 99.9 L460.7 99.8 L461.2 99.9 L461.7 99.8 L462.2 100.1 L462.7 99.8 L463.2 99.5 L463.7 100.3 L464.2 100 L464.7 99.3 L465.2 100.3 L465.7 100.1 L466.2 99.7 L466.7 100 L467.2 100.3 L467.7 99.7 L468.2 99.7 L468.7 99.6 L469.2 99.9 L469.7 100 L470.2 100 L470.7 100.3 L471.2 99.4 L471.7 99.6 L472.2 100.1 L472.7 100 L473.2 99.8 L473.7 99.9 L474.2 99.5 L474.7 100.2 L475.2 99.7 L475.7 99.6 L476.2 99.3 L476.7 99.2 L477.2 100.1 L477.7 100 L478.2 99.1 L478.7 99.4 L479.2 99.6 L479.7 99.6" stroke="#ff0000" stroke-width="2.3" stroke-linecap="round" stroke-linejoin="round" fill="none"/>
<path d="M363.2 103.1h0M363.7 104.2h0M365.2 103h0M368.7 103.9h0M371.7 103.8h0M373.7 103.2h0M374.7 103.3h0M385.7 102.8h0M386.7 102.8h0M394.7 103.9h0M396.2 103.4h0M410.2 103.6h0M414.7 103.3h0M419.7 103h0M430.7 102.6h0M434.7 101.9h0M435.2 102.9h0M436.2 101.9h0M450.2 102.3h0M466.7 101.5h0M476.2 100.5h0" stroke="#ff0000" stroke-width="1.6" stroke-linecap="round" fill="none"/>
<path d="M312 273.6H479.6M312 252.7H479.6M312 231.8H479.6M312 210.9H479.6M312 190H479.6M378.8 169.1V294.5M445.5 169.1V294.5" stroke="#e6e6e6" stroke-width="0.7" stroke-dasharray="4.1 4.3" fill="none"/>
<path d="M312 169.1H479.6V294.5H312ZM312 294.5h-7M312 284.1h-3.5M312 273.6h-7M312 263.2h-3.5M312 252.7h-7M312 242.2h-3.5M312 231.8h-7M312 221.3h-3.5M312 210.9h-7M312 200.4h-3.5M312 190h-7M312 179.6h-3.5M312 169.1h-7M479.6 294.5h7M479.6 282h3.5M479.6 269.4h7M479.6 256.9h3.5M479.6 244.3h7M479.6 231.8h3.5M479.6 219.3h7M479.6 206.7h3.5M479.6 194.2h7M479.6 181.6h3.5M479.6 169.1h7M312 294.5v7M378.8 294.5v7M445.5 294.5v7M345.4 294.5v3.5M412.1 294.5v3.5M478.9 294.5v3.5" stroke="#4d4d4d" stroke-width="1.25" fill="none"/>
<text x="301.2" y="297.9" font-size="8.5" text-anchor="end" textLength="4.7" lengthAdjust="spacingAndGlyphs" stroke="#1e1e1e" stroke-width="0.22" fill="#1e1e1e">0</text>
<text x="301.2" y="277.1" font-size="8.5" text-anchor="end" textLength="14.1" lengthAdjust="spacingAndGlyphs" stroke="#1e1e1e" stroke-width="0.22" fill="#1e1e1e">300</text>
<text x="301.2" y="256.1" font-size="8.5" text-anchor="end" textLength="14.1" lengthAdjust="spacingAndGlyphs" stroke="#1e1e1e" stroke-width="0.22" fill="#1e1e1e">600</text>
<text x="301.2" y="235.2" font-size="8.5" text-anchor="end" textLength="14.1" lengthAdjust="spacingAndGlyphs" stroke="#1e1e1e" stroke-width="0.22" fill="#1e1e1e">900</text>
<text x="301.2" y="214.3" font-size="8.5" text-anchor="end" textLength="21" lengthAdjust="spacingAndGlyphs" stroke="#1e1e1e" stroke-width="0.22" fill="#1e1e1e">1,200</text>
<text x="301.2" y="193.4" font-size="8.5" text-anchor="end" textLength="21" lengthAdjust="spacingAndGlyphs" stroke="#1e1e1e" stroke-width="0.22" fill="#1e1e1e">1,500</text>
<text x="301.2" y="172.5" font-size="8.5" text-anchor="end" textLength="21" lengthAdjust="spacingAndGlyphs" stroke="#1e1e1e" stroke-width="0.22" fill="#1e1e1e">1,800</text>
<text x="490" y="297.9" font-size="8.5" textLength="4.7" lengthAdjust="spacingAndGlyphs" stroke="#1e1e1e" stroke-width="0.22" fill="#1e1e1e">0</text>
<text x="490" y="272.9" font-size="8.5" textLength="9.4" lengthAdjust="spacingAndGlyphs" stroke="#1e1e1e" stroke-width="0.22" fill="#1e1e1e">20</text>
<text x="490" y="247.8" font-size="8.5" textLength="9.4" lengthAdjust="spacingAndGlyphs" stroke="#1e1e1e" stroke-width="0.22" fill="#1e1e1e">40</text>
<text x="490" y="222.7" font-size="8.5" textLength="9.4" lengthAdjust="spacingAndGlyphs" stroke="#1e1e1e" stroke-width="0.22" fill="#1e1e1e">60</text>
<text x="490" y="197.6" font-size="8.5" textLength="9.4" lengthAdjust="spacingAndGlyphs" stroke="#1e1e1e" stroke-width="0.22" fill="#1e1e1e">80</text>
<text x="490" y="172.5" font-size="8.5" textLength="14.1" lengthAdjust="spacingAndGlyphs" stroke="#1e1e1e" stroke-width="0.22" fill="#1e1e1e">100</text>
<text transform="translate(272 231.6) rotate(-90)" font-size="8.6" text-anchor="middle" textLength="70.5" lengthAdjust="spacingAndGlyphs" stroke="#1e1e1e" stroke-width="0.22" fill="#1e1e1e">Vent Rate [m<tspan dy="-3" font-size="5.4">3</tspan><tspan dy="3">/d]</tspan></text>
<text transform="translate(516.4 232.2) rotate(-90)" font-size="8.6" text-anchor="middle" textLength="102.7" lengthAdjust="spacingAndGlyphs" stroke="#1e1e1e" stroke-width="0.22" fill="#1e1e1e">CH<tspan dy="1.6" font-size="5.6">4</tspan><tspan dy="-1.6"> Volume Fraction [%]</tspan></text>
<text x="357.4" y="180.4" font-size="8.9" textLength="119" lengthAdjust="spacingAndGlyphs" stroke="#1e1e1e" stroke-width="0.3" fill="#1e1e1e">Released Whole Gas: 2.8 m<tspan dy="-3.2" font-size="5.6">3</tspan></text>
<text x="262.4" y="323.8" font-size="9.3" textLength="11.7" lengthAdjust="spacingAndGlyphs" stroke="#1e1e1e" stroke-width="0.22" fill="#1e1e1e">(d)</text>
<text x="298.2" y="312.2" font-size="8" textLength="21.2" lengthAdjust="spacingAndGlyphs" stroke="#1e1e1e" stroke-width="0.22" fill="#1e1e1e">02:55</text>
<text x="298" y="323.9" font-size="8" textLength="27.4" lengthAdjust="spacingAndGlyphs" stroke="#1e1e1e" stroke-width="0.22" fill="#1e1e1e">08-Nov</text>
<text x="364.9" y="312.2" font-size="8" textLength="21.2" lengthAdjust="spacingAndGlyphs" stroke="#1e1e1e" stroke-width="0.22" fill="#1e1e1e">03:05</text>
<text x="364.8" y="323.9" font-size="8" textLength="27.4" lengthAdjust="spacingAndGlyphs" stroke="#1e1e1e" stroke-width="0.22" fill="#1e1e1e">08-Nov</text>
<text x="431.7" y="312.2" font-size="8" textLength="21.2" lengthAdjust="spacingAndGlyphs" stroke="#1e1e1e" stroke-width="0.22" fill="#1e1e1e">03:15</text>
<text x="431.5" y="323.9" font-size="8" textLength="27.4" lengthAdjust="spacingAndGlyphs" stroke="#1e1e1e" stroke-width="0.22" fill="#1e1e1e">08-Nov</text>
<path d="M312.3 294L312.3 291.3L312.8 291L313.2 291.1L313.6 290.8L314.1 291.7L314.5 291.5L315 291L315.4 290.4L315.9 291.5L316.3 291.4L316.8 292.4L317.2 292.1L317.7 291.7L318.1 292.1L318.6 291.8L319 292.6L319.5 292.2L319.9 292L320.4 290.9L320.8 291.7L321.3 290.4L321.7 291.2L322.2 290.4L322.6 291L323.1 291.5L323.5 290.9L324 291.9L324.4 291.7L324.9 292.6L325.3 291.8L325.8 291.6L326.2 292.5L326.7 291.6L327.1 291.9L327.6 291.8L328 291.3L328.5 290.7L328.9 290.3L329.4 290.2L329.8 290.4L330.3 291.1L330.7 291.3L331.2 292.2L331.6 291.7L332.1 292.1L332.5 292.4L333 291.7L333.4 292.3L333.9 292.3L334.3 292.1L334.8 291.8L335.2 291L335.7 290.6L336.1 291.4L336.6 290.9L337 290.9L337.5 291.1L337.9 291.6L338.4 290.9L338.8 291.7L339.3 284.7L339.7 284.8L340.2 286.3L340.6 285.8L341.1 287.7L341.5 287.1L342 288.8L342.4 289.5L342.9 289.1L343.3 289.6L343.8 289.9L344.2 289.4L344.7 290.5L345.1 289.9L345.6 289.8L346 290.5L346.5 290.5L346.9 290L347.4 290.5L347.8 291.2L348.3 291.4L348.7 291.4L349.2 291.1L349.6 291.4L350.1 290.7L350.5 291L351 291.2L351.4 290.9L351.9 290.3L352.3 291.3L352.8 291.4L353.2 291.2L353.7 291.2L354.1 290.4L354.6 290.7L355 291.1L355.5 291.5L355.9 285.1L356.4 285.9L356.8 284.9L357.3 286.3L357.7 288.1L358.2 287.7L358.6 289.3L359.1 288.8L359.5 289.5L360 290.2L360.4 289.3L360.9 289.6L361.3 290.1L361.8 290.8L362.2 290.1L362.7 290.6L363.1 290.3L363.6 291.2L364 290.1L364.5 291.5L364.9 291.2L365.4 291L365.8 291.3L366.3 291.5L366.7 290.6L367.2 290.2L367.6 291.2L368.1 291.3L368.5 290.7L369 291.3L369.4 291.1L369.9 290.7L370.3 291.1L370.8 291.5L371.2 291.6L371.7 283.1L372.1 283.1L372.6 284.4L373 287.4L373.5 287.1L373.9 287.8L374.4 288.9L374.8 288.4L375.3 289.1L375.7 288.8L376.2 290L376.6 289.1L377.1 289.5L377.5 290.2L378 290.9L378.4 290.4L378.9 291.1L379.3 290.3L379.8 290.4L380.2 290.6L380.7 290.1L381.1 291.5L381.6 290.5L382 290.4L382.5 291.4L382.9 291.2L383.4 291.5L383.8 290.8L384.3 290.6L384.7 284.4L385.2 284.5L385.6 286.4L386.1 286.3L386.5 288L387 287L387.4 288.6L387.9 289.8L388.3 290L388.8 289.1L389.2 289.1L389.7 289.7L390.1 290.7L390.6 289.7L391 290L391.5 291.1L391.9 290.7L392.4 290.4L392.8 291.4L393.3 291.4L393.7 291L394.2 290.3L394.6 290.1L395.1 291.1L395.5 290.3L396 290.5L396.4 290.4L396.9 290.8L397.3 281.9L397.8 284.2L398.2 284.4L398.7 286.3L399.1 287.9L399.6 287.8L400 288.3L400.5 289L400.9 289.3L401.4 289.4L401.8 289.5L402.3 290.3L402.7 290.4L403.2 290.2L403.6 290.3L404.1 290.6L404.5 290.3L405 291.1L405.4 290.6L405.9 291L406.3 290.4L406.8 290.5L407.2 290.4L407.7 290.8L408.1 291.2L408.6 290.3L409 290.9L409.5 291.1L409.9 291.2L410.4 283.6L410.8 283.9L411.3 284.7L411.7 286.4L412.2 286.6L412.6 288.4L413.1 288.4L413.5 289L414 289.4L414.4 289.6L414.9 289.2L415.3 289.5L415.8 290.5L416.2 290.6L416.7 289.9L417.1 290.2L417.6 290.2L418 290.4L418.5 290.4L418.9 291L419.4 291.4L419.8 291L420.3 291.5L420.7 290.2L421.2 290.8L421.6 290.7L422.1 290.3L422.5 290.5L423 291.3L423.4 291.2L423.9 291.5L424.3 290.5L424.8 290.6L425.2 291L425.7 291.2L426.1 284.4L426.6 284.9L427 285.3L427.5 285.7L427.9 286.6L428.4 287.2L428.8 288.5L429.3 289L429.7 289.5L430.2 288.6L430.6 290.2L431.1 290.5L431.5 290.4L432 289.6L432.4 289.8L432.9 290.7L433.3 290L433.8 290L434.2 290.8L434.7 291.2L435.1 290.4L435.6 291L436 291.4L436.5 290.3L436.9 291L437.4 291L437.8 290.8L438.3 291.3L438.7 291.6L439.2 291.1L439.6 291.1L440.1 291.7L440.5 291.2L441 290.6L441.4 284.2L441.9 284.4L442.3 285.5L442.8 287.4L443.2 288.4L443.7 287.6L444.1 288.2L444.6 289.2L445 289.7L445.5 288.8L445.9 289L446.4 290.4L446.8 289.9L447.3 290.1L447.7 290.6L448.2 291.2L448.6 290.8L449.1 290.4L449.5 290.5L450 290.7L450.4 291.3L450.9 291.2L451.3 291.1L451.8 291L452.2 291.1L452.7 290.3L453.1 291.5L453.6 290.2L454 291.3L454.5 290.4L454.9 291.3L455.4 283.8L455.8 285.5L456.3 287.3L456.7 286.2L457.2 286.9L457.6 288.6L458.1 288L458.5 289L459 288.4L459.4 290.3L459.9 290L460.3 290.4L460.8 289.9L461.2 289.8L461.7 289.9L462.1 290.4L462.6 290.7L463 290.2L463.5 291.3L463.9 291.1L464.4 290.4L464.8 290.9L465.3 290.1L465.7 291.5L466.2 290.9L466.6 291.3L467.1 291.6L467.5 291.5L468 291.5L468.4 291.1L468.9 291.1L469.3 291L469.8 291.3L470.2 290.7L470.7 291L471.1 290.3L471.6 291.5L472 291L472.5 291L472.9 291.2L473.4 290.5L473.8 291.4L474.3 290.5L474.7 291.2L475.2 291.2L475.6 290.8L476.1 290.9L476.5 291.3L477 291.6L477.4 290.4L477.9 291.2L478.3 291.5L478.8 290.8L479.2 291L479.2 294Z" fill="#1e8fff" stroke="#1e8fff" stroke-width="1.4" stroke-linejoin="round"/>
<path d="M338.5 176h0M339.2 176.7h0M338.6 177.4h0M338.5 178.5h0M338.2 179.2h0M338.9 180.1h0M338.6 180.9h0M339.1 181.5h0M339.2 182.3h0M339 183h0M338.3 183.5h0M339 184.8h0M338.7 186h0M338.3 187.3h0M338.9 188.4h0M338.4 190.4h0M338.2 192.6h0M338.2 195.2h0M338.4 198h0M338.2 201.3h0M338.9 204.7h0M338.4 207.1h0M338.8 211.1h0M339.1 215h0M338.3 218.7h0M339.2 222h0M339.1 225.8h0M338.6 228.8h0M339.2 233.8h0M338.1 237.8h0M338 241.6h0M339.4 246.5h0M338.4 250.7h0M338.2 255.3h0M338.7 259.8h0M339.2 261.8h0M339.2 265.1h0M338.7 269.2h0M338.3 273.9h0M338.5 278.6h0M338.5 280.6h0M338.1 282.8h0M338.2 286.7h0M341.3 280.6h0M343.5 271.8h0M343.3 270.6h0M355.1 184.1h0M354.9 185.1h0M355.6 186.2h0M354.8 187.2h0M355.8 187.7h0M355.4 188.5h0M354.7 189.6h0M355.1 190.5h0M355.1 191.6h0M355.8 192.3h0M355.5 193.2h0M354.8 194.9h0M355.1 196.7h0M354.8 198.1h0M355 201.1h0M355.2 203.7h0M355.6 205.4h0M355.7 209.5h0M354.8 212.5h0M355.5 215.6h0M355.1 219.6h0M354.7 223.1h0M355.2 228h0M355.6 231.5h0M355.5 234h0M355.6 237.1h0M354.9 239.3h0M355.2 243.2h0M355.3 246.3h0M355.1 248.9h0M355.6 250.9h0M355.7 253.6h0M355.3 257.3h0M354.7 261.2h0M354.9 265.5h0M355.6 270.2h0M355.6 274.2h0M355.4 277.5h0M354.8 282.5h0M355.1 284.7h0M354.7 288.2h0M359.8 279.1h0M357.3 281.9h0M358.8 281.8h0M371.1 183.6h0M371 184.4h0M371.6 185.2h0M371.7 185.7h0M370.5 186.3h0M371.2 187.3h0M370.7 188.1h0M370.8 189.1h0M370.7 190.1h0M371.3 190.9h0M371.1 191.8h0M371.3 192.5h0M370.6 193.9h0M371.4 195.5h0M371.6 196.6h0M370.5 199.1h0M370.5 200.9h0M370.5 203h0M370.8 206h0M371 208.8h0M371.5 211.9h0M370.6 216.1h0M370.4 218.7h0M370.6 221.7h0M371.5 225.8h0M370.7 230.9h0M371.5 232.9h0M371.7 236.1h0M370.8 239.3h0M371.7 241.5h0M371 245h0M371.5 248.3h0M371.1 252.8h0M371 255.3h0M371 260.1h0M371.2 264.1h0M371.2 267.4h0M371.2 270.1h0M370.5 274.8h0M371.6 277.9h0M370.4 282.9h0M371.3 286.8h0M374.3 282.7h0M373.8 274.5h0M375.2 281.6h0M384.1 188.6h0M384.1 189.5h0M383.8 190h0M384 190.6h0M383.4 191.3h0M383.6 192.2h0M383.6 193.3h0M384.3 194.1h0M384.2 194.6h0M384.5 195.1h0M384.2 195.6h0M383.5 196.5h0M383.9 197.5h0M383.4 198.7h0M383.6 200.3h0M383.7 202.8h0M383.5 204.9h0M383.7 208.7h0M384.4 212.4h0M384.3 215.5h0M383.4 218.3h0M383.8 220.4h0M383.5 225.1h0M384.3 228.4h0M383.4 231.2h0M383.8 234.7h0M384.5 239.6h0M384 242.3h0M383.2 245.5h0M384.5 248.8h0M384 251.7h0M383.3 255.9h0M383.4 260.7h0M384.2 263.6h0M383.7 265.6h0M383.9 267.9h0M383.4 269.9h0M383.3 272.5h0M383.5 274.7h0M383.4 278.3h0M383.8 282.8h0M383.5 285.5h0M385.7 274.1h0M385.8 271.3h0M386.9 276.1h0M397.2 194.6h0M396.1 195.1h0M396.8 196.1h0M396.4 197h0M396.3 197.8h0M396.4 198.6h0M396.4 199.4h0M396.9 200.1h0M397.1 200.6h0M396.3 201.4h0M396.7 202.1h0M397 203.2h0M396.6 204.4h0M396.4 206.6h0M397.2 209.4h0M397.3 213.1h0M397.1 215.6h0M396.3 219.4h0M396.9 224.5h0M396.8 229h0M397.2 231.2h0M396.4 233.6h0M396.3 237.5h0M397 240.9h0M396.9 243.1h0M396.7 245.4h0M397 249.3h0M396.3 251.4h0M396.5 256.3h0M396.5 259.6h0M397 263.7h0M396.6 267.7h0M396.7 271.4h0M397.3 273.9h0M397.1 278.9h0M396.7 284h0M399.1 274.1h0M400.8 271.4h0M401.2 272.2h0M409.5 197h0M409.8 198h0M409.6 198.7h0M410.3 199.7h0M410 200.7h0M409.3 201.3h0M409.4 202.1h0M409.2 202.8h0M410.1 203.4h0M410.3 204.2h0M410.3 205.1h0M409.5 206.2h0M409.1 207.5h0M409.6 209.2h0M410.3 210.4h0M409.1 212.4h0M409.4 216.3h0M409.1 218.9h0M410.1 221.2h0M409.8 224.9h0M409.5 227.6h0M409.6 232.6h0M410.3 237.7h0M410.3 240h0M410.1 242h0M410.1 246.5h0M410.2 250.1h0M409.9 252.5h0M409.7 255.3h0M410.1 257.8h0M410.2 261.5h0M409.9 265.4h0M410.2 270.3h0M409.6 274h0M409.6 278.8h0M409.6 281.1h0M410.4 285.2h0M413.7 271.4h0M414.1 278.3h0M413 273.9h0M425.1 197h0M425.6 197.5h0M425 198.5h0M425.9 199.5h0M424.9 200h0M425.2 200.8h0M426.1 201.9h0M425.8 202.7h0M424.9 203.6h0M424.9 205.1h0M425.3 205.9h0M425.4 206.7h0M426 208.2h0M425.9 209.9h0M425.5 212.7h0M425.1 214.8h0M425.3 217.9h0M425.4 221.9h0M425.5 224.8h0M425 229.9h0M424.7 232.9h0M424.8 235.1h0M425.9 238.4h0M426.1 242.5h0M425.5 247.1h0M424.7 250.8h0M425.1 253.9h0M424.8 257.8h0M425.2 261.5h0M425.3 264.9h0M425.7 267.2h0M425.5 271.6h0M425.5 273.9h0M426.1 278.6h0M424.8 282.9h0M425.6 287.6h0M430.2 272.9h0M430.1 281h0M429 279.2h0M440.4 202h0M440.9 203h0M440.8 203.7h0M440.8 204.8h0M440.8 205.9h0M440 207h0M440.8 207.8h0M441.4 208.9h0M440.7 210.2h0M440.7 211.8h0M441.3 213.8h0M440.4 215h0M440.1 218.2h0M440 222h0M441.1 226h0M440.5 228.7h0M441 231.3h0M440.8 234.9h0M440.8 237.9h0M441.1 242.8h0M440.3 247.7h0M440.5 251.3h0M441.1 254.3h0M440.8 256.8h0M441.3 261.1h0M440.4 263.1h0M441.3 266.6h0M441.2 269h0M440.8 272.2h0M440.1 277.1h0M440.2 280h0M440.4 282.4h0M440.8 286.5h0M445.1 277.4h0M442.8 273h0M445.2 281.5h0M455.1 201.5h0M454.1 202.5h0M455 203h0M453.9 204h0M454.9 205h0M455 205.9h0M454.3 207h0M455.1 208.2h0M454.8 209.1h0M455 210.6h0M454.2 212.2h0M454.6 213.7h0M455 215.2h0M454.1 218.6h0M454.7 222.3h0M454.9 224.6h0M454.2 229h0M454.2 231.2h0M454.5 235.6h0M454 240.1h0M454.3 242.3h0M454 247h0M454.9 249.2h0M454.7 251.4h0M454.1 253.6h0M455 257.6h0M454.4 260.8h0M454.3 262.8h0M454.9 265.5h0M454.9 269.7h0M454.8 273.3h0M454.3 275.6h0M454.2 278.5h0M454.1 282.7h0M454.2 285.7h0M458.3 277.8h0M457.4 271.6h0M459.4 278.2h0M325.5 291h0M329.2 290.4h0M343.3 284.6h0M343.6 287h0" stroke="#1e8fff" stroke-width="2.5" stroke-linecap="round" fill="none"/>
<path d="M312.3 294.3L312.9 294.4L313.5 294.1L314.1 294.1L314.7 294.1L315.3 294.3L315.9 294.4L316.5 294.1L317.1 294.2L317.7 294.5L318.3 294.2L318.9 294.2L319.5 294.4L320.1 294.4L320.7 294.2L321.3 294.1L321.9 294.3L322.5 294.4L323.1 294.5L323.7 294.3L324.3 294.2L324.9 294.3L325.5 294.1L326.1 294.2L326.7 294.2L327.3 294.5L327.9 294.5L328.5 294.5L329.1 294.2L329.7 294.5L330.3 294.1L330.9 294.5L331.5 294.3L332.1 294.4L332.7 294.2L333.3 294.5L333.9 294L334.5 294.4L335.1 294.4L335.7 294.2L336.3 294.4L336.9 294.1L337.5 294.4L338.1 294.2L338.7 294.2L339.3 294.1L339.9 294.4L340.5 294.4L341.1 294L341.7 294.5L342.3 294.1L342.9 294.2L343.5 294.2L344.1 294.3L344.7 294.4L345.3 294.5L345.9 294.3L346.5 294.2L347.1 294.1L347.7 294L348.3 294.3L348.9 294.3L349.5 294.2L350.1 294.5L350.7 294.2L351.3 294.2L351.9 294.2L352.5 294.1L353.1 294.5L353.7 294.3L354.3 294.3L354.9 294.2L355.5 294.1L356.1 294.2L356.7 294.2L357.3 294.2L357.9 294.5L358.5 294.3L359.1 294.1L359.7 294L360.3 294.1L360.9 294.2L361.5 294.4L362.1 294.4L362.7 294.1L363.3 294.4L363.9 294.2L364.5 294.3L365.1 294.3L365.7 294L366.3 294L366.9 294.3L367.5 294.3L368.1 294.2L368.7 294.5L369.3 294.4L369.9 294.2L370.5 294L371.1 294.3L371.7 294.3L372.3 294.1L372.9 294L373.5 294.2L374.1 294L374.7 294.4L375.3 294.3L375.9 294.1L376.5 294.2L377.1 294.1L377.7 294.1L378.3 294.1L378.9 294.4L379.5 294.2L380.1 294.4L380.7 294.2L381.3 294.4L381.9 294.3L382.5 294.3L383.1 294.2L383.7 294.3L384.3 294.1L384.9 294.5L385.5 294.3L386.1 294.3L386.7 294.3L387.3 294.1L387.9 294.2L388.5 294.1L389.1 294.4L389.7 294L390.3 294.2L390.9 294.4L391.5 294.4L392.1 294.4L392.7 294.2L393.3 294.1L393.9 294.4L394.5 294.1L395.1 294.4L395.7 294.2L396.3 294.4L396.9 294.3L397.5 294.4L398.1 294.5L398.7 294.2L399.3 294.5L399.9 294L400.5 294.4L401.1 294L401.7 294.3L402.3 294.2L402.9 294.4L403.5 294.2L404.1 294.1L404.7 294.4L405.3 294.3L405.9 294.4L406.5 294.2L407.1 294L407.7 294.4L408.3 294.1L408.9 294.2L409.5 294L410.1 294.1L410.7 294.3L411.3 294.4L411.9 294.3L412.5 294.2L413.1 294.4L413.7 294.3L414.3 294.1L414.9 294.3L415.5 294.3L416.1 294.4L416.7 294.1L417.3 294.2L417.9 294.2L418.5 294L419.1 294.2L419.7 294.4L420.3 294.3L420.9 294.1L421.5 294.4L422.1 294.1L422.7 294.4L423.3 294.1L423.9 294L424.5 294.1L425.1 294.3L425.7 294.1L426.3 294.4L426.9 294.5L427.5 294.1L428.1 294.4L428.7 294.3L429.3 294.3L429.9 294.1L430.5 294.5L431.1 294.5L431.7 294L432.3 294.2L432.9 294.2L433.5 294.1L434.1 294.2L434.7 294.4L435.3 294L435.9 294.4L436.5 294.2L437.1 294L437.7 294.4L438.3 294.1L438.9 294.1L439.5 294.1L440.1 294.2L440.7 294.1L441.3 294.1L441.9 294.1L442.5 294.3L443.1 294.2L443.7 294.2L444.3 294.3L444.9 294.4L445.5 294.4L446.1 294.2L446.7 294.5L447.3 294.4L447.9 294.3L448.5 294.2L449.1 294.2L449.7 294.1L450.3 294.4L450.9 294.3L451.5 294L452.1 294.5L452.7 294.4L453.3 294L453.9 294.4L454.5 294.1L455.1 294.3L455.7 294.4L456.3 294.2L456.9 294.2L457.5 294.3L458.1 294.1L458.7 294.3L459.3 294.2L459.9 294.5L460.5 294.1L461.1 294.4L461.7 294L462.3 294.1L462.9 294.1L463.5 294.1L464.1 294.3L464.7 294.1L465.3 294.4L465.9 294L466.5 294.3L467.1 294.4L467.7 294.1L468.3 294.1L468.9 294.4L469.5 294.2L470.1 294.5L470.7 294.2L471.3 294.2L471.9 294.5L472.5 294.2L473.1 294.5L473.7 294.4L474.3 294.1L474.9 294.3L475.5 294.5L476.1 294.1L476.7 294.4L477.3 294.4L477.9 294.4L478.5 294.3L479.1 294" stroke="#0a5c2c" stroke-width="3" fill="none" stroke-linejoin="round"/>
<path d="M339.2 267h0M338.4 267.3h0M339 267.6h0M339 267.9h0M338.7 268.2h0M339 268.5h0M338.7 268.9h0M339.1 269.2h0M338.4 269.5h0M339.3 269.8h0M338.7 270.1h0M339.1 270.4h0M338.8 270.7h0M339.2 271h0M338.7 271.3h0M338.9 271.6h0M338.4 272h0M338.8 272.3h0M338.5 272.6h0M339.2 272.9h0M339 273.2h0M338.8 273.5h0M339.3 273.8h0M339.4 274.1h0M339.2 274.4h0M338.4 274.7h0M339 275.1h0M339.2 275.4h0M338.9 275.7h0M338.3 276h0M339.3 276.3h0M338.8 276.6h0M339 276.9h0M339.3 277.2h0M338.6 277.5h0M338.3 277.8h0M339.3 278.2h0M338.6 278.5h0M338.4 278.8h0M338.4 279.1h0M339.4 279.4h0M339.3 279.7h0M338.5 280h0M338.4 280.3h0M339.4 280.6h0M339.2 280.9h0M339 281.3h0M338.4 281.6h0M338.8 281.9h0M339.7 282.2h0M338.2 282.5h0M338.8 282.8h0M338.3 283.1h0M339.9 283.4h0M338.3 283.7h0M339.8 284h0M339.4 284.4h0M339.5 284.7h0M338.2 285h0M339.4 285.3h0M338.9 285.6h0M339 285.9h0M338.3 286.2h0M339 286.5h0M339.5 286.8h0M338.2 287.1h0M339.6 287.5h0M338.8 287.8h0M338.4 288.1h0M338.4 288.4h0M338.8 288.7h0M339.4 289h0M339.1 289.3h0M340.1 289.6h0M339 289.9h0M339.1 290.2h0M340.1 290.6h0M338.2 290.9h0M337.7 291.2h0M338.5 291.5h0M338.4 291.8h0M337.8 292.1h0M338.7 292.4h0M337.5 292.7h0" stroke="#0a5c2c" stroke-width="2.1" stroke-linecap="round" fill="none"/>
<path d="M355.6 267.3h0M355.3 267.6h0M355.6 267.9h0M355.5 268.2h0M355.5 268.5h0M355.6 268.8h0M355.2 269.2h0M355.6 269.5h0M355.1 269.8h0M355.4 270.1h0M355.4 270.4h0M355.6 270.7h0M355.1 271h0M355.2 271.3h0M355.6 271.6h0M355.7 271.9h0M355.7 272.3h0M355 272.6h0M355.1 272.9h0M354.9 273.2h0M355.5 273.5h0M355.6 273.8h0M355.5 274.1h0M355.7 274.4h0M355.4 274.7h0M355.5 275h0M355.7 275.4h0M355.6 275.7h0M355.5 276h0M355.5 276.3h0M355.3 276.6h0M355.7 276.9h0M355.4 277.2h0M355 277.5h0M355.3 277.8h0M355.3 278.1h0M355.3 278.5h0M355.5 278.8h0M355.2 279.1h0M355.3 279.4h0M355.3 279.7h0M355.3 280h0M355.9 280.3h0M354.8 280.6h0M354.8 280.9h0M355.8 281.2h0M355.2 281.6h0M355.4 281.9h0M355.5 282.2h0M355.3 282.5h0M355 282.8h0M354.6 283.1h0M355.9 283.4h0M356.3 283.7h0M355.1 284h0M355.4 284.3h0M355.1 284.7h0M354.6 285h0M356.1 285.3h0M356.2 285.6h0M355 285.9h0M355 286.2h0M355.8 286.5h0M356.2 286.8h0M355.4 287.1h0M355.3 287.4h0M354.9 287.8h0M356.3 288.1h0M356.2 288.4h0M356.5 288.7h0M354.6 289h0M355.8 289.3h0M356.5 289.6h0M356.2 289.9h0M355.3 290.2h0M354.5 290.5h0M354.4 290.9h0M356.3 291.2h0M354.3 291.5h0M356.6 291.8h0M355.9 292.1h0M355.5 292.4h0M356.6 292.7h0M357.1 293h0" stroke="#0a5c2c" stroke-width="2.1" stroke-linecap="round" fill="none"/>
<path d="M371.3 267.5h0M370.8 267.8h0M371.3 268.1h0M371.1 268.4h0M371 268.7h0M371.6 269h0M371.4 269.4h0M370.8 269.7h0M371 270h0M371.1 270.3h0M371.3 270.6h0M371.1 270.9h0M371.2 271.2h0M371.6 271.5h0M371 271.8h0M371.5 272.1h0M371.1 272.5h0M371.7 272.8h0M371.6 273.1h0M371.1 273.4h0M371.3 273.7h0M370.9 274h0M371.2 274.3h0M371.4 274.6h0M371.4 274.9h0M371.1 275.2h0M370.8 275.6h0M370.9 275.9h0M371.3 276.2h0M370.9 276.5h0M371.1 276.8h0M371.5 277.1h0M371.7 277.4h0M371.3 277.7h0M371 278h0M371.4 278.3h0M371 278.7h0M371.7 279h0M370.9 279.3h0M371 279.6h0M371.2 279.9h0M371.9 280.2h0M370.9 280.5h0M370.9 280.8h0M370.8 281.1h0M370.9 281.4h0M371.1 281.8h0M371.2 282.1h0M371.6 282.4h0M371.2 282.7h0M371.3 283h0M371.2 283.3h0M371.7 283.6h0M372.1 283.9h0M371.2 284.2h0M372.2 284.5h0M370.9 284.9h0M372.4 285.2h0M371.3 285.5h0M371.8 285.8h0M371.1 286.1h0M370.9 286.4h0M370.6 286.7h0M372.3 287h0M371 287.3h0M371.9 287.6h0M371.2 288h0M371.5 288.3h0M370.7 288.6h0M370.6 288.9h0M371 289.2h0M372 289.5h0M371.4 289.8h0M370 290.1h0M371.8 290.4h0M371.3 290.7h0M370.3 291.1h0M370.7 291.4h0M370.6 291.7h0M372.5 292h0M371.5 292.3h0M370.9 292.6h0M370.6 292.9h0M370.8 293.2h0" stroke="#0a5c2c" stroke-width="2.1" stroke-linecap="round" fill="none"/>
<path d="M383.8 269.8h0M383.8 270.1h0M384.2 270.4h0M384.3 270.7h0M384.2 271h0M384.4 271.3h0M384.1 271.7h0M383.6 272h0M383.6 272.3h0M383.7 272.6h0M383.8 272.9h0M384.1 273.2h0M384.3 273.5h0M384.1 273.8h0M384 274.1h0M383.8 274.4h0M384.4 274.8h0M384.3 275.1h0M383.9 275.4h0M383.6 275.7h0M384.5 276h0M383.8 276.3h0M384.4 276.6h0M383.7 276.9h0M384.2 277.2h0M383.9 277.5h0M384.4 277.9h0M383.9 278.2h0M383.7 278.5h0M383.7 278.8h0M384.4 279.1h0M384.7 279.4h0M384.2 279.7h0M384.4 280h0M383.8 280.3h0M383.8 280.6h0M383.6 281h0M384.8 281.3h0M383.5 281.6h0M384.3 281.9h0M383.9 282.2h0M383.7 282.5h0M384 282.8h0M384.9 283.1h0M383.7 283.4h0M383.6 283.7h0M384.3 284.1h0M384.5 284.4h0M384.1 284.7h0M383.6 285h0M384.7 285.3h0M383.4 285.6h0M383.6 285.9h0M383.7 286.2h0M384.1 286.5h0M384.2 286.8h0M384.2 287.2h0M384.7 287.5h0M384.9 287.8h0M384.2 288.1h0M383.2 288.4h0M385.1 288.7h0M383.1 289h0M383.8 289.3h0M383.3 289.6h0M384.5 289.9h0M384.8 290.3h0M383.2 290.6h0M383.6 290.9h0M385.3 291.2h0M384.6 291.5h0M383 291.8h0M384.6 292.1h0M385.3 292.4h0M383.9 292.7h0M383.1 293h0" stroke="#0a5c2c" stroke-width="2.1" stroke-linecap="round" fill="none"/>
<path d="M396.9 270h0M396.6 270.3h0M396.5 270.6h0M396.5 270.9h0M396.7 271.2h0M396.4 271.5h0M396.7 271.9h0M396.9 272.2h0M396.9 272.5h0M396.7 272.8h0M397.1 273.1h0M396.4 273.4h0M396.7 273.7h0M397.3 274h0M397.1 274.3h0M397.3 274.6h0M397.1 275h0M396.9 275.3h0M397.1 275.6h0M397 275.9h0M396.5 276.2h0M396.6 276.5h0M396.5 276.8h0M397.3 277.1h0M396.7 277.4h0M396.8 277.7h0M396.9 278.1h0M396.4 278.4h0M397.1 278.7h0M397.3 279h0M397.2 279.3h0M397.4 279.6h0M396.7 279.9h0M396.5 280.2h0M397.2 280.5h0M397.2 280.8h0M396.7 281.2h0M396.7 281.5h0M396.5 281.8h0M397.4 282.1h0M396.8 282.4h0M397.4 282.7h0M396.7 283h0M396.7 283.3h0M396.9 283.6h0M397.4 283.9h0M397.4 284.3h0M396.7 284.6h0M397.2 284.9h0M396.8 285.2h0M397.5 285.5h0M397.5 285.8h0M397 286.1h0M396.7 286.4h0M396.5 286.7h0M397.9 287h0M397.5 287.4h0M396.6 287.7h0M396.1 288h0M396.3 288.3h0M397.9 288.6h0M395.9 288.9h0M397.6 289.2h0M397.1 289.5h0M397.1 289.8h0M397.2 290.1h0M396.7 290.5h0M397.2 290.8h0M395.9 291.1h0M398.4 291.4h0M395.9 291.7h0M395.9 292h0M397.4 292.3h0M397.6 292.6h0M397.8 292.9h0M397.8 293.2h0" stroke="#0a5c2c" stroke-width="2.1" stroke-linecap="round" fill="none"/>
<path d="M410.2 270.5h0M409.5 270.8h0M409.5 271.1h0M409.6 271.4h0M410.1 271.7h0M409.6 272h0M409.9 272.4h0M410.2 272.7h0M409.6 273h0M410 273.3h0M410.2 273.6h0M410.2 273.9h0M409.8 274.2h0M409.9 274.5h0M409.7 274.8h0M410.4 275.1h0M410.2 275.5h0M410.2 275.8h0M409.8 276.1h0M410.2 276.4h0M409.9 276.7h0M410.3 277h0M409.8 277.3h0M410.4 277.6h0M410.1 277.9h0M409.9 278.2h0M410 278.6h0M410.4 278.9h0M410 279.2h0M410.6 279.5h0M409.5 279.8h0M410.5 280.1h0M410.2 280.4h0M410 280.7h0M410.4 281h0M409.6 281.3h0M409.8 281.7h0M410.4 282h0M410.4 282.3h0M409.9 282.6h0M410.6 282.9h0M410.3 283.2h0M409.4 283.5h0M409.4 283.8h0M409.4 284.1h0M410.2 284.4h0M409.7 284.8h0M409.7 285.1h0M409.9 285.4h0M409.3 285.7h0M410.7 286h0M410.8 286.3h0M410.1 286.6h0M410 286.9h0M409.7 287.2h0M410.4 287.5h0M409.7 287.9h0M411.3 288.2h0M410.9 288.5h0M410.7 288.8h0M410.7 289.1h0M409 289.4h0M409.2 289.7h0M409.7 290h0M409.2 290.3h0M409.9 290.6h0M411.2 291h0M411.2 291.3h0M411.2 291.6h0M409.3 291.9h0M409.3 292.2h0M408.6 292.5h0M409.4 292.8h0M408.6 293.1h0" stroke="#0a5c2c" stroke-width="2.1" stroke-linecap="round" fill="none"/>
<path d="M425.5 270.8h0M425.3 271.1h0M425.6 271.4h0M425.6 271.7h0M425.6 272h0M425.3 272.3h0M425.7 272.7h0M425.7 273h0M425.7 273.3h0M425.5 273.6h0M425.5 273.9h0M425.3 274.2h0M425.1 274.5h0M425.5 274.8h0M425.6 275.1h0M425.2 275.4h0M425.8 275.8h0M426 276.1h0M425.8 276.4h0M425.9 276.7h0M425.5 277h0M425.2 277.3h0M425.3 277.6h0M425.9 277.9h0M426 278.2h0M425.1 278.5h0M425.1 278.9h0M425.4 279.2h0M425.4 279.5h0M425.7 279.8h0M425.2 280.1h0M426.1 280.4h0M425.4 280.7h0M426.2 281h0M425.4 281.3h0M425.4 281.6h0M425.2 282h0M426.3 282.3h0M425.7 282.6h0M426.2 282.9h0M425 283.2h0M425.7 283.5h0M425.9 283.8h0M426.5 284.1h0M426.2 284.4h0M425 284.7h0M425.4 285.1h0M426.6 285.4h0M425.7 285.7h0M426.6 286h0M425.2 286.3h0M424.7 286.6h0M426.4 286.9h0M425.2 287.2h0M425.7 287.5h0M425.4 287.8h0M425.8 288.2h0M426.8 288.5h0M426.5 288.8h0M426.7 289.1h0M425.1 289.4h0M426.6 289.7h0M424.5 290h0M425.5 290.3h0M426.7 290.6h0M425 290.9h0M425.3 291.3h0M426 291.6h0M425 291.9h0M426.5 292.2h0M426.1 292.5h0M424.4 292.8h0" stroke="#0a5c2c" stroke-width="2.1" stroke-linecap="round" fill="none"/>
<path d="M441.1 271.2h0M440.4 271.5h0M441 271.8h0M440.7 272.1h0M440.5 272.4h0M440.4 272.7h0M441.2 273.1h0M441.1 273.4h0M440.8 273.7h0M441.1 274h0M441.2 274.3h0M441.3 274.6h0M440.9 274.9h0M440.6 275.2h0M440.8 275.5h0M441.4 275.8h0M441 276.2h0M441 276.5h0M441.1 276.8h0M440.8 277.1h0M440.9 277.4h0M441.3 277.7h0M440.6 278h0M441.3 278.3h0M440.4 278.6h0M440.9 278.9h0M440.9 279.3h0M440.5 279.6h0M441.3 279.9h0M440.8 280.2h0M440.5 280.5h0M440.8 280.8h0M441 281.1h0M440.8 281.4h0M440.3 281.7h0M440.4 282h0M441.1 282.4h0M440.4 282.7h0M440.6 283h0M441.4 283.3h0M441.4 283.6h0M441.6 283.9h0M440.4 284.2h0M440.1 284.5h0M441.3 284.8h0M441.2 285.1h0M440.7 285.5h0M440.1 285.8h0M440.8 286.1h0M440.5 286.4h0M441.1 286.7h0M442 287h0M440.4 287.3h0M440.1 287.6h0M441.3 287.9h0M440.1 288.2h0M440.4 288.6h0M440.9 288.9h0M441.9 289.2h0M440.6 289.5h0M440.5 289.8h0M441 290.1h0M440.1 290.4h0M440.8 290.7h0M441.4 291h0M440.5 291.3h0M441.7 291.7h0M440.1 292h0M439.9 292.3h0M441.5 292.6h0M440.8 292.9h0M442.6 293.2h0" stroke="#0a5c2c" stroke-width="2.1" stroke-linecap="round" fill="none"/>
<path d="M454.3 271h0M454.8 271.3h0M454.7 271.6h0M454.5 271.9h0M454.3 272.2h0M454.7 272.5h0M454.8 272.9h0M454.6 273.2h0M454.6 273.5h0M454.8 273.8h0M454.7 274.1h0M454.6 274.4h0M454.4 274.7h0M454.6 275h0M454.7 275.3h0M455.1 275.6h0M455.1 276h0M454.7 276.3h0M454.5 276.6h0M454.4 276.9h0M454.8 277.2h0M454.9 277.5h0M454.4 277.8h0M454.9 278.1h0M455.1 278.4h0M454.6 278.7h0M455.1 279.1h0M454.6 279.4h0M454.8 279.7h0M455.2 280h0M454.4 280.3h0M454.5 280.6h0M455.2 280.9h0M454.1 281.2h0M454.5 281.5h0M454.7 281.8h0M455 282.2h0M454.9 282.5h0M455.2 282.8h0M455 283.1h0M454 283.4h0M454.1 283.7h0M454.1 284h0M454.7 284.3h0M454 284.6h0M454.8 284.9h0M454.9 285.3h0M454.2 285.6h0M455.3 285.9h0M454.6 286.2h0M455.5 286.5h0M454.5 286.8h0M454.9 287.1h0M454.9 287.4h0M454.3 287.7h0M455.5 288h0M453.8 288.4h0M454.2 288.7h0M454.4 289h0M455.8 289.3h0M454.7 289.6h0M453.6 289.9h0M454.3 290.2h0M455.2 290.5h0M455.5 290.8h0M453.7 291.1h0M455.4 291.5h0M454.5 291.8h0M454.8 292.1h0M454.6 292.4h0M454.6 292.7h0M456.6 293h0" stroke="#0a5c2c" stroke-width="2.1" stroke-linecap="round" fill="none"/>
<path d="M437.2 260.8h0" stroke="#0a5c2c" stroke-width="2.4" stroke-linecap="round" fill="none"/>
<path d="M312.2 265.6 L312.7 265.6 L313.2 265.5 L313.7 265.5 L314.2 265.3 L314.7 265.2 L315.2 265.5 L315.7 265.5 L316.2 265.4 L316.7 265.3 L317.2 265.3 L317.7 265.6 L318.2 265.4 L318.7 265.2 L319.2 265.3 L319.7 265.3 L320.2 265.2 L320.7 265.6 L321.2 265.6 L321.7 265.5 L322.2 265.2 L322.7 265.4 L323.2 265.2 L323.7 265.5 L324.2 265.5 L324.7 265.5 L325.2 265.5 L325.7 265.2 L326.2 265.2 L326.7 265.2 L327.2 265.5 L327.7 265.5 L328.2 265.4 L328.7 265.3 L329.2 265.5 L329.7 265.2 L330.2 265.3 L330.7 265.2 L331.2 265.6 L331.7 265.3 L332.2 265.5 L332.7 265.5 L333.2 265.4 L333.7 265.6 L334.2 265.5 L334.7 265.5 L335.2 265.6 L335.7 265.2 L336.2 265.5 L336.7 265.3 L337.2 265.3 L337.7 265.3 L338.2 265.6 L338.7 265.2 L339.2 265.3 L339.7 265.2 L340.2 265.6 L340.7 265.4 L341.2 265.4 L341.7 265.4 L342.2 265.5 L342.7 265.3 L343.2 265.3 L343.7 265.5 L344.2 265.4 L344.7 265.5 L345.2 265.3 L345.7 265.5 L346.2 265.5 L346.7 265.4 L347.2 265.3 L347.7 265.4 L348.2 265.2 L348.7 265.2 L349.2 265.3 L349.7 265.2 L350.2 265.2 L350.7 265.4 L351.2 265.4 L351.7 265.4 L352.2 265.2 L352.7 265.4 L353.2 265.5 L353.7 265.4 L354.2 265.2 L354.7 265.4 L355.2 265.3 L355.7 265.3 L356.2 265.2 L356.7 265.5 L357.2 265.4 L357.7 265.5 L358.2 265.2 L358.7 265.2 L359.2 265.3 L359.7 265.2 L360.2 265.3 L360.7 265.4 L361.2 265.3 L361.7 265.5 L362.2 265.4 L362.7 265.4 L363.2 265.4 L363.7 265.5 L364.2 265.3 L364.7 265.1 L365.2 265.5 L365.7 265.5 L366.2 265.2 L366.7 265.2 L367.2 265.2 L367.7 265.4 L368.2 265.2 L368.7 265.1 L369.2 265.3 L369.7 265.1 L370.2 265.2 L370.7 265.3 L371.2 265.2 L371.7 265.1 L372.2 265.2 L372.7 265.2 L373.2 265.3 L373.7 265.3 L374.2 265.3 L374.7 265.3 L375.2 265.1 L375.7 265.5 L376.2 265.4 L376.7 265.3 L377.2 265.1 L377.7 265.2 L378.2 265.5 L378.7 265.3 L379.2 265.2 L379.7 265.4 L380.2 265.5 L380.7 265.2 L381.2 265.3 L381.7 265.3 L382.2 265.2 L382.7 265.2 L383.2 265.4 L383.7 265.4 L384.2 265.4 L384.7 265.4 L385.2 265.3 L385.7 265.1 L386.2 265.1 L386.7 265.4 L387.2 265.5 L387.7 265.5 L388.2 265.1 L388.7 265.4 L389.2 265.2 L389.7 265.2 L390.2 265.2 L390.7 265.5 L391.2 265.4 L391.7 265.4 L392.2 265.3 L392.7 265.5 L393.2 265.2 L393.7 265.3 L394.2 265.4 L394.7 265.2 L395.2 265.3 L395.7 265.1 L396.2 265.4 L396.7 265.2 L397.2 265.2 L397.7 265.2 L398.2 265.4 L398.7 265.4 L399.2 265.3 L399.7 265.4 L400.2 265.4 L400.7 265.2 L401.2 265.3 L401.7 265.2 L402.2 265.2 L402.7 265.2 L403.2 265.1 L403.7 265.2 L404.2 265.4 L404.7 265.4 L405.2 265.1 L405.7 265.2 L406.2 265.3 L406.7 265.3 L407.2 265.1 L407.7 265.1 L408.2 265.3 L408.7 265.3 L409.2 265.1 L409.7 265.4 L410.2 265.2 L410.7 265.3 L411.2 265.3 L411.7 265.2 L412.2 265.5 L412.7 265.2 L413.2 265.2 L413.7 265.3 L414.2 265.4 L414.7 265.5 L415.2 265.4 L415.7 265.3 L416.2 265.4 L416.7 265.3 L417.2 265.5 L417.7 265.5 L418.2 265.4 L418.7 265.2 L419.2 265.3 L419.7 265.2 L420.2 265.2 L420.7 265.4 L421.2 265.2 L421.7 265.4 L422.2 265.3 L422.7 265.2 L423.2 265.3 L423.7 265.4 L424.2 265.5 L424.7 265.5 L425.2 265.4 L425.7 265.2 L426.2 265.3 L426.7 265.3 L427.2 265.4 L427.7 265.2 L428.2 265.2 L428.7 265.1 L429.2 265.2 L429.7 265.3 L430.2 265.2 L430.7 265.1 L431.2 265.3 L431.7 265.1 L432.2 265.1 L432.7 265.2 L433.2 265.2 L433.7 265.3 L434.2 265.3 L434.7 265.2 L435.2 265.1 L435.7 265.1 L436.2 265.3 L436.7 265.4 L437.2 265.2 L437.7 265.2 L438.2 265.2 L438.7 265.3 L439.2 265.2 L439.7 265.4 L440.2 265 L440.7 265.1 L441.2 265.1 L441.7 265.2 L442.2 265.2 L442.7 265.2 L443.2 265.4 L443.7 265.2 L444.2 265.3 L444.7 265.4 L445.2 265.3 L445.7 265.3 L446.2 265.4 L446.7 265.2 L447.2 265.1 L447.7 265.4 L448.2 265.3 L448.7 265.3 L449.2 265.1 L449.7 265.3 L450.2 265.2 L450.7 265.3 L451.2 265.1 L451.7 265.4 L452.2 265.2 L452.7 265.1 L453.2 265.4 L453.7 265.1 L454.2 265.1 L454.7 265.2 L455.2 265.4 L455.7 265.1 L456.2 265.1 L456.7 265.3 L457.2 265.1 L457.7 265.2 L458.2 265.3 L458.7 265.3 L459.2 265.3 L459.7 265.1 L460.2 265.4 L460.7 265.2 L461.2 265.3 L461.7 265.2 L462.2 265.4 L462.7 265.2 L463.2 265.1 L463.7 265.1 L464.2 265.2 L464.7 265 L465.2 265.1 L465.7 265.4 L466.2 265.2 L466.7 265.4 L467.2 265.1 L467.7 265.2 L468.2 265.2 L468.7 265.1 L469.2 265.1 L469.7 265.4 L470.2 265.3 L470.7 265.2 L471.2 265.3 L471.7 265.4 L472.2 265.4 L472.7 265.2 L473.2 265 L473.7 265.4 L474.2 265.1 L474.7 265.1 L475.2 265.1 L475.7 265.2 L476.2 265.2 L476.7 265.2 L477.2 265.2 L477.7 265.1 L478.2 265.3 L478.7 265.2 L479.2 265.1" stroke="#ff0000" stroke-width="2.5" stroke-linecap="round" stroke-linejoin="round" fill="none"/>
<path d="M313 268h0M313.4 268.1h0M313.8 268.1h0M314.2 268.2h0M314.6 267.1h0M315 267.5h0M315.4 267.5h0M315.8 267.3h0" stroke="#ff0000" stroke-width="1.8" stroke-linecap="round" fill="none"/>
<path d="M49 273.6H216.6M49 252.7H216.6M49 231.8H216.6M49 210.9H216.6M49 190H216.6M78 169.1V294.5M107 169.1V294.5M136 169.1V294.5M154.4 169.1V294.5M198.8 169.1V294.5" stroke="#e6e6e6" stroke-width="0.7" stroke-dasharray="4.1 4.3" fill="none"/>
<path d="M49 294.5H145.5M153.6 294.5H216.6M49 294.5V169.1H216.6V294.5M49 294.5h-7M49 284.1h-3.5M49 273.6h-7M49 263.2h-3.5M49 252.7h-7M49 242.2h-3.5M49 231.8h-7M49 221.3h-3.5M49 210.9h-7M49 200.4h-3.5M49 190h-7M49 179.6h-3.5M49 169.1h-7M216.6 294.5h7M216.6 282h3.5M216.6 269.4h7M216.6 256.9h3.5M216.6 244.3h7M216.6 231.8h3.5M216.6 219.3h7M216.6 206.7h3.5M216.6 194.2h7M216.6 181.6h3.5M216.6 169.1h7M49 294.5v7M78 294.5v7M107 294.5v7M136 294.5v7M154.4 294.5v7M198.8 294.5v7M63.5 294.5v3.5M92.5 294.5v3.5M121.5 294.5v3.5M176.6 294.5v3.5" stroke="#4d4d4d" stroke-width="1.25" fill="none"/>
<path d="M146.5 289.4l2.6 9.5M149.5 289.4l2.7 9.5" stroke="#4d4d4d" stroke-width="1" fill="none"/>
<text x="38.2" y="297.9" font-size="8.5" text-anchor="end" textLength="4.7" lengthAdjust="spacingAndGlyphs" stroke="#1e1e1e" stroke-width="0.22" fill="#1e1e1e">0</text>
<text x="38.2" y="277.1" font-size="8.5" text-anchor="end" textLength="14.1" lengthAdjust="spacingAndGlyphs" stroke="#1e1e1e" stroke-width="0.22" fill="#1e1e1e">800</text>
<text x="38.2" y="256.1" font-size="8.5" text-anchor="end" textLength="21" lengthAdjust="spacingAndGlyphs" stroke="#1e1e1e" stroke-width="0.22" fill="#1e1e1e">1,600</text>
<text x="38.2" y="235.2" font-size="8.5" text-anchor="end" textLength="21" lengthAdjust="spacingAndGlyphs" stroke="#1e1e1e" stroke-width="0.22" fill="#1e1e1e">2,400</text>
<text x="38.2" y="214.3" font-size="8.5" text-anchor="end" textLength="21" lengthAdjust="spacingAndGlyphs" stroke="#1e1e1e" stroke-width="0.22" fill="#1e1e1e">3,200</text>
<text x="38.2" y="193.4" font-size="8.5" text-anchor="end" textLength="21" lengthAdjust="spacingAndGlyphs" stroke="#1e1e1e" stroke-width="0.22" fill="#1e1e1e">4,000</text>
<text x="38.2" y="172.5" font-size="8.5" text-anchor="end" textLength="21" lengthAdjust="spacingAndGlyphs" stroke="#1e1e1e" stroke-width="0.22" fill="#1e1e1e">4,800</text>
<text x="227" y="297.9" font-size="8.5" textLength="4.7" lengthAdjust="spacingAndGlyphs" stroke="#1e1e1e" stroke-width="0.22" fill="#1e1e1e">0</text>
<text x="227" y="272.9" font-size="8.5" textLength="9.4" lengthAdjust="spacingAndGlyphs" stroke="#1e1e1e" stroke-width="0.22" fill="#1e1e1e">20</text>
<text x="227" y="247.8" font-size="8.5" textLength="9.4" lengthAdjust="spacingAndGlyphs" stroke="#1e1e1e" stroke-width="0.22" fill="#1e1e1e">40</text>
<text x="227" y="222.7" font-size="8.5" textLength="9.4" lengthAdjust="spacingAndGlyphs" stroke="#1e1e1e" stroke-width="0.22" fill="#1e1e1e">60</text>
<text x="227" y="197.6" font-size="8.5" textLength="9.4" lengthAdjust="spacingAndGlyphs" stroke="#1e1e1e" stroke-width="0.22" fill="#1e1e1e">80</text>
<text x="227" y="172.5" font-size="8.5" textLength="14.1" lengthAdjust="spacingAndGlyphs" stroke="#1e1e1e" stroke-width="0.22" fill="#1e1e1e">100</text>
<text transform="translate(9 231.6) rotate(-90)" font-size="8.6" text-anchor="middle" textLength="70.5" lengthAdjust="spacingAndGlyphs" stroke="#1e1e1e" stroke-width="0.22" fill="#1e1e1e">Vent Rate [m<tspan dy="-3" font-size="5.4">3</tspan><tspan dy="3">/d]</tspan></text>
<text transform="translate(253.4 232.2) rotate(-90)" font-size="8.6" text-anchor="middle" textLength="102.7" lengthAdjust="spacingAndGlyphs" stroke="#1e1e1e" stroke-width="0.22" fill="#1e1e1e">CH<tspan dy="1.6" font-size="5.6">4</tspan><tspan dy="-1.6"> Volume Fraction [%]</tspan></text>
<text x="50.7" y="180.6" font-size="8.9" textLength="119.2" lengthAdjust="spacingAndGlyphs" stroke="#1e1e1e" stroke-width="0.3" fill="#1e1e1e">Released Whole Gas: 8.4 m<tspan dy="-3.2" font-size="5.6">3</tspan></text>
<text x="0.6" y="323.8" font-size="9.3" textLength="10.1" lengthAdjust="spacingAndGlyphs" stroke="#1e1e1e" stroke-width="0.22" fill="#1e1e1e">(c)</text>
<text x="35.2" y="312.2" font-size="8" textLength="21.2" lengthAdjust="spacingAndGlyphs" stroke="#1e1e1e" stroke-width="0.22" fill="#1e1e1e">22:57</text>
<text x="35" y="323.9" font-size="8" textLength="27.4" lengthAdjust="spacingAndGlyphs" stroke="#1e1e1e" stroke-width="0.22" fill="#1e1e1e">07-Nov</text>
<text x="64.2" y="312.2" font-size="8" textLength="21.2" lengthAdjust="spacingAndGlyphs" stroke="#1e1e1e" stroke-width="0.22" fill="#1e1e1e">22:59</text>
<text x="64" y="323.9" font-size="8" textLength="27.4" lengthAdjust="spacingAndGlyphs" stroke="#1e1e1e" stroke-width="0.22" fill="#1e1e1e">07-Nov</text>
<text x="93.2" y="312.2" font-size="8" textLength="21.2" lengthAdjust="spacingAndGlyphs" stroke="#1e1e1e" stroke-width="0.22" fill="#1e1e1e">23:01</text>
<text x="93" y="323.9" font-size="8" textLength="27.4" lengthAdjust="spacingAndGlyphs" stroke="#1e1e1e" stroke-width="0.22" fill="#1e1e1e">07-Nov</text>
<text x="122.2" y="312.2" font-size="8" textLength="21.2" lengthAdjust="spacingAndGlyphs" stroke="#1e1e1e" stroke-width="0.22" fill="#1e1e1e">23:03</text>
<text x="122" y="323.9" font-size="8" textLength="27.4" lengthAdjust="spacingAndGlyphs" stroke="#1e1e1e" stroke-width="0.22" fill="#1e1e1e">07-Nov</text>
<text x="185" y="312.2" font-size="8" textLength="21.2" lengthAdjust="spacingAndGlyphs" stroke="#1e1e1e" stroke-width="0.22" fill="#1e1e1e">00:40</text>
<text x="184.8" y="323.9" font-size="8" textLength="27.4" lengthAdjust="spacingAndGlyphs" stroke="#1e1e1e" stroke-width="0.22" fill="#1e1e1e">08-Nov</text>
<text x="153.7" y="312.2" font-size="8" textLength="21.2" lengthAdjust="spacingAndGlyphs" stroke="#1e1e1e" stroke-width="0.22" fill="#1e1e1e">23:40</text>
<text x="153.5" y="323.9" font-size="8" textLength="27.4" lengthAdjust="spacingAndGlyphs" stroke="#1e1e1e" stroke-width="0.22" fill="#1e1e1e">07-Nov</text>
<path d="M51.1 292.2h0M51.5 289h0M52.8 286.2h0M52.7 283.1h0M52.9 280.7h0M53.4 277.8h0M53.2 276h0M53.1 273.5h0M53.3 271.3h0M53.6 269.1h0M53.6 266.8h0M53.7 264h0M53.8 261.7h0M54.1 259.9h0M54.2 257.5h0M54.1 255h0M54.6 252.4h0M54.7 250.3h0M54.7 248.2h0M55.2 245.4h0M55.2 243.1h0M55.7 241h0M55.6 241.1h0M56.1 241.9h0M56.2 242.1h0M56.3 243.2h0M56.2 244h0M56.4 244.1h0M56.3 244.8h0M56.6 245.7h0M56.8 245.9h0M56.4 247.1h0M56.6 247.3h0M57 247.8h0M57 248.9h0M56.9 249.3h0M56.6 250h0M57.1 250.7h0M57.1 250.9h0M56.9 251.8h0M56.9 252.1h0M57.1 253.1h0M57.3 253.5h0M57.6 254.2h0M57.2 254.8h0M57.7 255.3h0M57.5 256h0M57.8 256.7h0M57.4 257.3h0M57.5 257.8h0M57.8 258.1h0M57.8 258.9h0M57.9 259.8h0M57.8 260.3h0M57.8 260.7h0M58 261.5h0M57.9 262.2h0M58.1 262.6h0M58 263.5h0M58.4 264.2h0M58.1 264.3h0M58.4 264.8h0M58.5 265.8h0M58.3 266.3h0M58.5 266.8h0M58.4 267.7h0M58.7 268.2h0M58.4 268.6h0M58.5 269.1h0M58.8 270h0M59 270.6h0M59.1 271.2h0M58.9 271.7h0M58.9 272.7h0M59 272.7h0M59 273.5h0M59.2 274.3h0M59.1 275.1h0M59.4 275.2h0M59 276.2h0M59.4 276.8h0M59.4 277h0M59.4 278.1h0M59.6 278.2h0M59.3 279.4h0M59.6 279.5h0M59.8 280.6h0M59.9 281h0M60 281.3h0M59.8 282.4h0M59.8 282.6h0M60.2 283.5h0M59.7 283.7h0M60.1 284.9h0M60.3 285.5h0M60 285.9h0M60.2 286.4h0M60.3 287.1h0M60.3 287.8h0M60.7 288.6h0M60.9 288.7h0M61.1 289.6h0M61.2 290.1h0M60.8 290.9h0M60.9 291.7h0M61.2 292h0M62.3 276.2h0M62.3 274.1h0M62.4 272.6h0M62.3 270.6h0M62.3 269.1h0M62.2 267h0M62.4 265.6h0M62.1 263.6h0M62.7 261.9h0M63 259.9h0M63 258h0M63.6 256.5h0M63.4 254.8h0M63.9 253h0M64.2 251.3h0M64.1 249.8h0M64.3 247.9h0M65 246.3h0M65.1 244.6h0M65.4 242.7h0M65.7 241h0M65.7 240.7h0M65.7 241.3h0M66.2 242.5h0M66.1 242.7h0M66.3 243.4h0M66.4 244.2h0M66.4 244.9h0M66.3 245.6h0M66.5 246.2h0M66.8 246.5h0M66.6 247.1h0M66.4 248.1h0M66.8 248.5h0M66.8 249.3h0M66.6 249.6h0M67 250.3h0M67 250.8h0M66.9 251.6h0M67 252.4h0M67.4 253.1h0M67.1 253.4h0M67 253.9h0M67.1 254.6h0M67.6 255.4h0M67.3 255.7h0M67.7 256.2h0M67.7 257.3h0M67.3 258h0M67.7 258.2h0M67.7 259h0M67.8 259.8h0M68.1 260h0M67.6 260.9h0M68 261.5h0M67.7 261.7h0M68.3 262.5h0M68.1 263.5h0M68 263.9h0M68 264.4h0M68.4 264.8h0M68.5 265.9h0M68.6 266.4h0M68.7 266.9h0M68.5 267.6h0M68.7 268.1h0M68.7 268.4h0M68.5 269.1h0M68.9 270h0M68.6 270.7h0M68.5 270.7h0M68.7 271.3h0M69.2 272.1h0M68.9 273h0M69 273.5h0M69 274h0M69.4 274.5h0M69.2 275.2h0M69 275.6h0M69.3 276.6h0M69.3 276.7h0M69.6 277.4h0M69.7 277.9h0M69.6 278.6h0M69.4 279.4h0M69.8 280h0M69.6 280.5h0M69.8 281.1h0M70.1 281.6h0M69.7 282.4h0M69.9 283.1h0M69.8 283.7h0M70.1 284.5h0M70.1 284.8h0M70.2 285.4h0M70.3 286.1h0M70.4 286.7h0M70.4 287.2h0M70.7 287.9h0M70.8 288.4h0M70.6 288.8h0M70.7 289.4h0M70.8 290.3h0M70.9 291h0M71 291.2h0M71.2 292h0M71.8 277.8h0M72.1 276.6h0M71.9 275.3h0M72.1 273.6h0M72.1 272.3h0M72 270.5h0M72 269.5h0M72 267.9h0M71.8 266.5h0M72.3 264.8h0M72 263.5h0M72 261.8h0M72.3 260.1h0M73 258.3h0M73.5 256.7h0M73.6 255.2h0M73.3 253.3h0M74 252.2h0M74 250.6h0M74.1 249h0M74.1 247.5h0M74.4 245.8h0M74.9 244.6h0M75 243h0M75 241.6h0M75.3 240.1h0M75.3 238.9h0M75.3 237.1h0M75.5 236h0M75.9 234.3h0M75.7 233h0M76.2 231.5h0M76.2 229.9h0M76 228.9h0M76.4 227.1h0M76.6 225.9h0M76.6 226.2h0M76.6 226.5h0M76.7 227.1h0M76.6 228h0M77 228.2h0M76.9 228.8h0M77.4 229.8h0M77.2 230.2h0M77.4 230.6h0M77.1 231.5h0M77.3 232h0M77.2 232.3h0M77.4 233.3h0M77.7 234.1h0M77.8 234.4h0M77.4 235.3h0M77.7 235.8h0M77.5 236.4h0M77.8 236.7h0M77.8 237.2h0M77.9 237.9h0M78.1 238.5h0M78.1 239.3h0M78.1 240.1h0M77.9 240.6h0M78 241.3h0M78.3 241.8h0M78.2 242.1h0M78.5 243.2h0M78.5 243.4h0M78.5 244.2h0M78.5 244.9h0M78.3 245.3h0M78.6 246h0M78.5 246.8h0M78.2 246.8h0M78.5 247.5h0M78.8 248.1h0M78.8 248.8h0M78.4 249.7h0M78.8 250.1h0M78.8 250.8h0M79 251.4h0M78.8 252h0M78.8 252.7h0M78.6 253.3h0M79.2 253.9h0M79 254.3h0M78.8 254.8h0M79.1 255.8h0M79.3 256h0M79.3 257h0M79.1 257.6h0M79 257.9h0M79.2 258.8h0M79.2 259.1h0M79.5 259.8h0M79.3 260.3h0M79.4 261.2h0M79.4 261.8h0M79.5 262h0M79.8 262.7h0M79.6 263.7h0M79.4 263.8h0M79.5 264.5h0M79.9 265.3h0M79.4 265.8h0M79.8 266.3h0M79.7 267.3h0M79.8 267.6h0M79.9 268.1h0M79.9 269h0M79.7 269.6h0M79.9 270.3h0M80.1 271h0M80.1 271.2h0M79.9 272.1h0M80.3 272.3h0M80.1 273h0M80.2 274h0M80.3 274.5h0M80.5 274.8h0M80.4 275.5h0M80.4 276.2h0M80.5 276.6h0M80.7 277.2h0M80.4 278.2h0M80.8 278.5h0M80.9 278.9h0M80.9 279.6h0M80.4 280.6h0M80.6 281.2h0M80.5 281.4h0M80.8 282h0M80.9 282.8h0M81.2 283.5h0M81.3 284.3h0M80.9 284.9h0M81.4 285.3h0M81.3 285.7h0M81.2 286.4h0M81.2 287.2h0M81.3 287.9h0M81.5 288.5h0M81.3 289.2h0M81.6 289.6h0M81.5 290.3h0M81.6 290.9h0M81.8 291.2h0M81.8 292h0M82.3 275.2h0M82.1 274.3h0M82.4 273.5h0M82.3 272.6h0M82.4 271.9h0M82.2 271h0M82.3 270.2h0M82.3 269.2h0M82.3 268.8h0M82.4 267.9h0M82.6 266.8h0M82.5 265.8h0M82.7 265.4h0M82.2 264.5h0M82.5 263.8h0M82.3 263.1h0M82.5 261.8h0M82.7 261.5h0M82.4 260.6h0M82.7 259.8h0M82.2 259h0M82.3 258.2h0M82.7 257.2h0M82.9 256.6h0M83.1 255.9h0M82.9 254.9h0M83.1 253.9h0M83.1 253.2h0M83 252.3h0M83.5 251.8h0M83.5 250.9h0M83.5 250h0M83.7 248.9h0M83.7 248.7h0M83.6 247.6h0M83.6 246.7h0M84.2 245.7h0M84.2 245.4h0M84.4 244.3h0M84.5 243.5h0M84.2 243.1h0M84.4 242.1h0M84.2 240.9h0M84.3 240.2h0M84.7 239.4h0M84.9 238.9h0M84.5 238.1h0M84.6 237.2h0M84.5 236.6h0M85 235.6h0M85 234.7h0M84.8 233.9h0M85.2 233.2h0M84.9 232.2h0M85.2 231.3h0M85 230.8h0M85.1 230.2h0M85.2 229.3h0M85.6 228.3h0M85.6 227.9h0M85.7 226.7h0M86 225.9h0M86 225.1h0M85.8 224.3h0M86 223.8h0M86 222.6h0M86.3 222.1h0M86.1 221.4h0M85.9 220.4h0M86.4 219.7h0M86.4 218.5h0M86.4 217.8h0M86.5 217.1h0M86.5 216.3h0M86.7 215.7h0M86.6 214.5h0M86.6 213.6h0M87.1 213.3h0M86.7 212.2h0M87.3 211.6h0M87.4 210.9h0M87.2 209.8h0M87.1 209.5h0M87.4 212.9h0M87.6 215.9h0M88 218.4h0M87.9 220.4h0M88.1 222.8h0M88.1 225.1h0M88.7 227.9h0M88.3 230.2h0M88.9 232.4h0M88.6 234.9h0M88.5 236.7h0M89.1 239.2h0M89.2 241.8h0M88.7 243.8h0M89.2 246.1h0M89.2 248.8h0M89 251h0M89.1 253.6h0M89.4 255.8h0M89.5 257.7h0M89.8 260.4h0M89.6 262.5h0M89.8 264.8h0M89.9 266.7h0M90 268.8h0M89.8 271.2h0M90.5 273.5h0M90.2 275.6h0M90.5 277.8h0M90.6 280h0M91.1 282.7h0M91.3 285.2h0M91.8 287.3h0M91.9 289.9h0M93 292.5h0M93.6 272h0M93.6 271.3h0M93.9 269.9h0M93.8 269.3h0M93.5 268.1h0M94 266.9h0M94 266.2h0M93.6 264.8h0M93.9 263.9h0M93.7 263h0M93.9 262.2h0M94 261.2h0M93.6 259.9h0M93.5 258.8h0M93.7 257.8h0M93.8 256.8h0M93.9 255.9h0M93.6 255.1h0M93.8 253.7h0M94.2 253.2h0M94.3 251.9h0M94.1 251.1h0M94.1 250.3h0M94.5 249h0M94.2 247.9h0M94.6 247.3h0M94.5 246.1h0M94.5 245.3h0M95 244.2h0M95.1 242.8h0M94.9 241.7h0M95.2 240.7h0M95.1 239.8h0M95.6 239.1h0M95.3 238.2h0M95.3 236.7h0M95.6 236.1h0M95.5 235h0M95.8 234h0M95.8 232.6h0M95.7 232h0M96.1 231h0M96 229.7h0M96.1 229h0M96.5 227.6h0M96.6 226.5h0M96.5 225.6h0M96.8 224.8h0M96.7 223.7h0M96.8 223.5h0M96.5 224.7h0M97 225.2h0M97.2 226.6h0M97.1 227.3h0M97.4 228.5h0M97.5 229.1h0M97.7 230h0M97.3 230.8h0M97.5 231.5h0M97.6 232.3h0M97.6 233.4h0M98 234h0M98 234.6h0M97.8 235.8h0M98.1 236.4h0M97.7 237.5h0M98 238.2h0M97.9 238.6h0M98.1 239.6h0M98.4 240.6h0M98.3 241.3h0M98.4 241.9h0M98.6 243h0M98.4 243.5h0M98.1 244.6h0M98.6 245.4h0M98.3 246.1h0M98.7 247h0M98.8 247.5h0M98.8 248.3h0M98.7 249.4h0M98.5 250.1h0M98.9 251.2h0M98.6 251.8h0M99 252.4h0M99.1 253.7h0M98.9 254h0M98.8 254.8h0M99 255.9h0M99.4 256.7h0M99.4 257.4h0M99.3 257.9h0M99.2 258.8h0M99.1 260h0M99.2 260.5h0M99.5 261.5h0M99.2 262h0M99.7 263h0M99.4 263.9h0M99.6 265h0M99.5 265.3h0M99.6 266.3h0M100.1 267.3h0M99.7 267.9h0M99.9 269h0M100.2 269.6h0M100 270.3h0M100.2 271.1h0M100.3 271.7h0M100.2 273.1h0M100.3 273.6h0M100.5 274.6h0M100.6 275.1h0M100.6 275.8h0M100.7 276.5h0M100.5 277.4h0M100.7 278.5h0M100.6 279.4h0M100.8 280.3h0M101.4 280.9h0M101.4 281.9h0M101.3 282.6h0M101.1 283.4h0M101.6 284.2h0M101.4 284.5h0M101.7 285.7h0M101.9 286.2h0M101.9 287.5h0M101.9 288.2h0M102.7 289h0M102.7 289.7h0M103.1 290.4h0M103.2 291.4h0M104.2 292.1h0M105.2 292.5h0M106.2 292.9h0M107 293h0M107.8 280.1h0M107.6 278.3h0M107.7 276.9h0M107.8 275.2h0M107.7 273.9h0M107.6 272.5h0M107.9 271.3h0M107.6 269.8h0M107.9 268h0M107.7 266.3h0M107.9 265h0M107.8 263.8h0M107.8 262.1h0M107.9 260.3h0M108.1 258.7h0M108.1 257.8h0M108.4 255.8h0M108.6 254.2h0M108.8 252.8h0M108.7 251.6h0M109.3 249.7h0M109.3 248.5h0M109.2 247h0M109.1 245.4h0M109.5 243.9h0M109.9 242.4h0M110 241.2h0M110.1 239.5h0M110 238.2h0M109.9 236.3h0M110 234.9h0M110.4 233.6h0M110.8 231.8h0M110.7 230h0M111 228.7h0M110.8 227.4h0M110.9 225.4h0M111.3 224.4h0M111.2 222.4h0M111.8 220.9h0M112 219.2h0M111.9 217.9h0M111.7 217.8h0M112.2 218.3h0M112.1 219.4h0M112.4 219.9h0M111.9 220.3h0M112.1 220.7h0M112.2 221.7h0M112.4 221.9h0M112.3 222.5h0M112.8 223.5h0M112.6 224.3h0M112.9 224.4h0M112.5 225h0M112.8 225.9h0M112.8 226.6h0M112.8 226.9h0M113 227.9h0M112.6 228.2h0M112.7 228.9h0M113 229.6h0M113.2 230.3h0M113.1 230.7h0M113.4 231.4h0M113.1 231.6h0M113.5 232.1h0M113.5 233.3h0M113.4 233.9h0M113.4 234.3h0M113.5 234.6h0M113.2 235.5h0M113.5 235.8h0M113.6 236.5h0M113.5 237.5h0M113.8 238h0M114.1 238.4h0M113.9 239h0M114 239.9h0M114.4 240.2h0M114.4 240.7h0M114 241.6h0M114.6 242h0M114.8 242.9h0M114.5 243.5h0M114.9 243.8h0M115 244.6h0M114.8 243.9h0M115 243.4h0M114.9 242.5h0M115.2 242.3h0M115.3 241.5h0M115.5 240.6h0M115.2 240h0M115.5 239.7h0M115.4 239.1h0M115.4 238.2h0M116 238.1h0M115.6 237.3h0M115.9 236.6h0M116.2 236.1h0M116.3 235.5h0M116.4 234.6h0M116.4 234.1h0M116.5 233.8h0M116.6 233.2h0M116.3 232.4h0M116.6 231.5h0M116.5 231.2h0M116.6 230.5h0M116.6 230.1h0M116.6 229.5h0M116.9 228.7h0M116.8 228.2h0M117 227.5h0M116.7 226.9h0M117 226.2h0M117.3 225.8h0M117.2 225.1h0M116.8 224.5h0M117.2 223.8h0M117.5 223.5h0M117.2 222.5h0M117.2 222.1h0M117.5 221.4h0M117.4 220.9h0M117.5 220.5h0M117.6 220h0M117.7 219h0M117.8 218.6h0M117.9 218.3h0M117.7 217.6h0M117.7 216.9h0M117.6 216.4h0M117.9 215.6h0M118 214.9h0M117.9 214.5h0M118.2 213.5h0M118.1 213.4h0M118.1 212.4h0M118.4 211.9h0M118.7 211.6h0M118.2 210.5h0M118.3 210.1h0M118.5 209.6h0M118.9 208.6h0M118.4 208h0M118.7 207.4h0M118.8 207h0M119 206.7h0M119.3 205.8h0M119.1 205h0M119.2 204.8h0M119.4 203.8h0M119 203.6h0M119.4 202.9h0M119.1 202.2h0M119.1 201.7h0M119.7 200.8h0M119.3 200.4h0M119.9 199.7h0M119.6 199h0M119.9 198.7h0M119.7 197.7h0M120.2 197.2h0M119.9 196.5h0M120.1 196.3h0M120.1 195.6h0M120.1 194.7h0M120.4 194.5h0M120.5 193.7h0M120.6 193.2h0M120.8 192.4h0M120.6 191.5h0M120.7 191.1h0M120.5 190.8h0M120.8 190.2h0M120.7 189.3h0M121.2 188.8h0M121.3 188.1h0M121 187.7h0M121.5 186.9h0M121.4 186.5h0M121.5 185.7h0M121.5 185.7h0M121.6 186.5h0M121.8 186.8h0M122 187.5h0M122 188.1h0M122.2 189h0M122.3 189.3h0M122.1 190h0M122.3 190.4h0M122.4 191.6h0M122.1 192.2h0M122.5 192.9h0M122.7 193.4h0M122.8 193.9h0M122.5 194.8h0M123 195.3h0M122.7 195.8h0M122.9 196.5h0M122.7 203h0M122.6 206h0M122.7 209.2h0M122.7 212.4h0M122.9 215.6h0M122.8 218.8h0M122.9 222h0M122.9 225h0M122.6 228.2h0M122.8 231.5h0M122.7 236h0M122.7 241h0M122.7 246h0M122.8 251h0M122.6 255.8h0M123 197.4h0M123.2 198.1h0M123.3 197.6h0M123.5 198.4h0M123.7 197.4h0M123.8 199.7h0M124 196.7h0M124.2 197.2h0M124.4 197.8h0M124.5 198.5h0M124.7 197.4h0M124.9 199.3h0M125.1 197.8h0M125.2 198.2h0M125.4 198h0M125.6 198.2h0M125.8 197.5h0M125.9 199.3h0M126.1 196.9h0M126.3 198.2h0M126.5 196.9h0M126.6 198.1h0M126.8 196.9h0M127 199.3h0M127.2 196.3h0M127.3 199.7h0M127.5 197.6h0M127.7 198.6h0M127.9 197.4h0M128 197.9h0M128.2 197.6h0M128.4 200.7h0M128.6 196.9h0M128.7 199.7h0M128.9 196.6h0M129.1 199.1h0M129.3 197.7h0M129.4 200.1h0M129.6 197h0M129.8 200.1h0M130 196.5h0M130.1 198.5h0M130.3 197.3h0M130.5 199.9h0M130.7 197h0M130.8 199.9h0M131 197.3h0M131.2 199.2h0M131.4 198h0M131.5 199.4h0M131.7 198h0M131.9 200.4h0M132.1 197.4h0M132.2 198.6h0M132.4 198.2h0M132.6 199.9h0M132.8 197.7h0M132.9 200.2h0M133.1 197.7h0M133.3 200.8h0M133.5 196.7h0M133.6 200.9h0M133.8 197.8h0M134 199.5h0M134.2 198.3h0M134.3 200.7h0M134.5 197.8h0M134.7 198.5h0M132 207h0M131.7 215.2h0M129.1 210.5h0M130.2 203.9h0M128.5 196.1h0M129.9 209.3h0M133.9 202.4h0M130 206.3h0M132.1 205.9h0M132.3 201.9h0M128.6 205.3h0M132.6 201.6h0M128.6 207h0M128.7 212.1h0M132.4 202.1h0M130.8 200.1h0M128.8 200.9h0M133.6 216.7h0M132.8 211.4h0M131.8 209h0M132.2 208.7h0M130.7 215.3h0M130.1 206.9h0M132.4 217.8h0M130.4 207.4h0M130.7 203.1h0M130.4 214.4h0M129.4 203.3h0M130 210.3h0M132.9 201.3h0M131.2 202.7h0M132.2 212.2h0M129.6 203.5h0M130.1 205.4h0M133.7 216h0M133 206.7h0M131 202.9h0M131.1 217.5h0M128.8 201.7h0M129.5 210.5h0M130.1 208.5h0M128.6 207.5h0M131.4 214.6h0M132.6 213.5h0M129.9 203.9h0M131.9 200h0M133.9 213.1h0M131.3 206h0M128.8 204.8h0M132.9 201.3h0M128.9 207.4h0M131.1 214.4h0M130.8 218.2h0M133.5 205.3h0M131.5 210.4h0M131 214.9h0M132.5 215h0M129.8 208.8h0M131.6 210.4h0M128.4 209.8h0M134.7 202.8h0M135 205.6h0M135 208.3h0M134.9 210.9h0M134.7 213.1h0M134.8 215.9h0M134.9 218.1h0M134.9 220.7h0M135.2 223.4h0M135.2 225.7h0M135.3 228.3h0M135.2 230.6h0M135.3 233.2h0M135.4 235.6h0M135.5 238.2h0M136.1 240.4h0M135.7 243.2h0M135.8 245.4h0M136.3 247.7h0M136.5 250h0M136.5 252.8h0M136.7 255.2h0M136.6 257.5h0M137 260h0M136.8 262.3h0M136.9 264.9h0M137.4 267.6h0M137.2 270.5h0M137.6 272.7h0M137.4 275.2h0M137.6 278.1h0M137.8 280.7h0M137.9 282.7h0M138.4 285.2h0M138.3 288h0M138.7 289.9h0M138.9 290.6h0M139.5 291.2h0M140 291.8h0M140.9 291.8h0M141.4 292.4h0M142.1 292.3h0M142.7 292.9h0M143 292.6h0M143.5 293h0M144.2 293.4h0M145 293.3h0" stroke="#1e8fff" stroke-width="2.4" stroke-linecap="round" fill="none"/>
<path d="M153.9 294L153.9 292.1L154.3 291.6L154.8 291.8L155.2 292.1L155.7 292.2L156.1 292.1L156.6 291.9L157 291.7L157.5 291.7L157.9 292.1L158.4 292.4L158.8 291.9L159.3 291.9L159.7 291.9L160.2 291.8L160.6 291.8L161.1 291.9L161.5 291.8L162 292.3L162.4 291.7L162.9 291.9L163.3 292.3L163.8 292.2L164.2 291.9L164.7 292.1L165.1 291.7L165.6 292.2L166 292L166.5 292L166.9 291.7L167.4 292.1L167.8 291.7L168.3 291.8L168.7 291.9L169.2 291.7L169.6 291.7L170.1 291.8L170.5 292L171 292.3L171.4 292.2L171.9 291.9L172.3 292.3L172.8 291.9L173.2 292.1L173.7 292.1L174.1 291.8L174.6 291.7L175 291.8L175.5 292L175.9 292L176.4 291.6L176.8 291.7L177.3 291.9L177.7 292.3L178.2 291.7L178.6 292.3L179.1 292.3L179.5 291.9L180 292.2L180.4 291.8L180.9 291.9L181.3 292.3L181.8 291.7L182.2 291.6L182.7 291.9L183.1 291.6L183.6 291.8L184 292L184.5 291.8L184.9 291.7L185.4 291.9L185.8 292.3L186.3 292.1L186.7 291.8L187.2 292.1L187.6 292.3L188.1 292L188.5 292.3L189 292L189.4 292.3L189.9 291.8L190.3 292.2L190.8 291.7L191.2 292.3L191.7 291.9L192.1 291.9L192.6 292.2L193 291.9L193.5 292L193.9 291.9L194.4 292.2L194.8 292L195.3 291.7L195.7 291.9L196.2 292.2L196.6 292.1L197.1 291.7L197.5 292.3L198 292L198.4 292L198.9 292.1L199.3 292.4L199.8 292.3L200.2 291.7L200.7 292L201.1 292.2L201.6 292L202 292.3L202.5 292.3L202.9 291.8L203.4 291.8L203.8 292.2L204.3 292.1L204.7 292.3L205.2 292.1L205.6 292L206.1 291.8L206.5 292L207 291.7L207.4 291.6L207.9 291.9L208.3 292.3L208.8 292.3L209.2 291.9L209.7 292.3L210.1 291.7L210.6 292.3L211 292.3L211.5 291.6L211.9 292.1L212.4 292L212.8 291.9L213.3 292.3L213.7 292.1L214.2 292.1L214.6 291.8L215.1 291.8L215.5 291.9L216 292.2L216.4 292L216.4 294Z" fill="#1e8fff" stroke="#1e8fff" stroke-width="1.4" stroke-linejoin="round"/>
<path d="M158.1 245.2h0M157.7 245.9h0M158.1 247h0M157.9 247.6h0M157.8 248.5h0M157.5 249.7h0M157.7 250.7h0M158 251.8h0M157.6 252.7h0M157.9 253.9h0M158 254.9h0M157.6 256.1h0M158 257.2h0M158.1 258h0M158.1 258.8h0M158.1 259.8h0M158 261h0M157.8 261.9h0M158 262.9h0M158.1 263.8h0M157.8 264.5h0M157.6 265.2h0M157.5 266h0M157.9 267h0M158 267.9h0M157.9 268.9h0M157.7 269.6h0M157.6 270.2h0M157.5 271.4h0M157.7 272.4h0M158.1 273.5h0M158.1 274.6h0M157.7 275.9h0M158 277.2h0M157.7 278h0M158 279h0M158.1 279.6h0M157.9 280.7h0M157.7 281.6h0M158 282.5h0M157.9 283.4h0M157.5 284.6h0M158.1 285.2h0M158 286h0M157.6 286.8h0M157.8 287.4h0M157.5 288.5h0M157.7 289.1h0M162.2 252h0M161.9 252.8h0M162.1 253.7h0M161.9 254.5h0M161.8 255.4h0M162.2 256.3h0M161.7 257.3h0M162 258.1h0M161.9 258.9h0M161.9 259.9h0M162.3 260.6h0M162.3 261.2h0M162 261.9h0M161.9 262.9h0M162.3 263.9h0M161.7 264.8h0M162.3 265.5h0M162.2 266.5h0M161.9 267.4h0M162 268.5h0M161.8 269.7h0M162.1 270.6h0M162 271.8h0M161.7 272.9h0M161.9 274h0M161.9 275.1h0M161.8 275.8h0M162.1 276.9h0M161.9 278.1h0M162.2 278.8h0M162.2 279.6h0M162 280.5h0M161.8 281.1h0M162 282.3h0M162.2 283.5h0M162.3 284.5h0M161.9 285.1h0M161.7 286h0M161.8 287.2h0M161.8 288.2h0M162 289.1h0M161.8 289.9h0M166.7 251.4h0M166.9 252.1h0M166.4 252.7h0M166.5 253.5h0M166.9 254.5h0M166.7 255.1h0M166.4 256.2h0M166.6 257h0M166.8 258.2h0M166.3 259.2h0M166.8 260h0M166.5 260.9h0M166.3 262h0M166.7 263h0M166.5 263.7h0M166.4 264.9h0M166.5 265.9h0M166.5 266.9h0M166.9 267.7h0M166.9 268.8h0M166.6 269.6h0M166.9 270.5h0M166.7 271.3h0M166.6 272.1h0M166.9 272.9h0M166.9 273.7h0M166.5 274.7h0M166.9 275.7h0M166.8 276.8h0M166.7 277.8h0M166.8 278.5h0M166.7 279.5h0M166.8 280.3h0M166.5 281.3h0M166.8 282.6h0M166.8 283.7h0M166.5 284.8h0M166.9 286h0M166.6 287.1h0M166.3 288.1h0M166.8 289.3h0M174.2 251.4h0M173.9 252.6h0M174 253.4h0M174.1 254.5h0M174.5 255.5h0M173.9 256.4h0M174.4 257h0M174.2 257.9h0M173.9 258.5h0M174.5 259.1h0M174.1 259.8h0M174.3 260.7h0M174.3 261.5h0M174.5 262.5h0M174.1 263.2h0M174.1 263.8h0M173.9 264.6h0M174 265.8h0M174.4 266.9h0M173.9 268h0M174.4 269h0M174.3 270.1h0M174.4 271h0M174.1 272h0M174.2 272.9h0M174.3 273.6h0M174.3 274.8h0M174.1 275.4h0M173.9 276.6h0M174.3 277.5h0M174.1 278.5h0M174.3 279.1h0M174.3 279.8h0M174.4 280.8h0M174.5 281.5h0M174.5 282.6h0M174.4 283.3h0M174.3 284.2h0M174.1 285.3h0M174.2 286.5h0M174.4 287.5h0M174.5 288.2h0M174.5 289h0M173.9 289.7h0M184.7 251h0M184.7 251.9h0M185.1 253h0M184.6 254.1h0M185 254.7h0M185.1 255.4h0M185.2 256.4h0M185 257.5h0M184.9 258.7h0M184.6 259.5h0M185 260.6h0M184.9 261.7h0M185.2 262.6h0M184.6 263.4h0M185.1 264.7h0M185.2 265.9h0M184.7 266.8h0M184.9 267.8h0M185.1 268.7h0M185.2 269.4h0M184.7 270.2h0M184.7 271.4h0M184.7 272.5h0M184.9 273.4h0M185.1 274.1h0M185.2 275.4h0M184.6 276.1h0M185.1 277h0M185.2 278h0M185 279.3h0M184.8 280.1h0M184.8 280.7h0M184.8 281.8h0M184.9 282.6h0M185 283.8h0M184.9 284.5h0M185.1 285.2h0M184.9 286.1h0M184.8 287.3h0M185.2 288.2h0M184.9 289.1h0M198.3 250.8h0M198.3 251.8h0M198.4 253h0M198.5 254.1h0M198.3 255.2h0M198.3 255.9h0M198.1 256.8h0M198.4 257.9h0M198.5 258.8h0M198.1 259.5h0M198.1 260.6h0M198.4 261.8h0M198.7 263.1h0M198.3 263.9h0M198.6 264.8h0M198.6 265.8h0M198.6 267.1h0M198.6 268h0M198.5 269h0M198.7 269.9h0M198.4 271.2h0M198.1 272.1h0M198.7 273.1h0M198.6 273.9h0M198.5 274.7h0M198.5 275.5h0M198.1 276.6h0M198.4 277.8h0M198.3 278.6h0M198.6 279.6h0M198.1 280.3h0M198.5 281.1h0M198.6 281.9h0M198.3 283.1h0M198.2 284.1h0M198.5 285.1h0M198.5 285.9h0M198.7 286.6h0M198.7 287.5h0M198.2 288.6h0M198.5 289.7h0M162.8 242.7h0M162.9 245.5h0M171.3 287h0M170 288.3h0M159.8 286h0M164.2 284h0" stroke="#1e8fff" stroke-width="2.1" stroke-linecap="round" fill="none"/>
<path d="M49.7 294.2 L50.4 293.6 L51.3 293.7 L51.2 293.3 L51.7 292.4 L51.5 291.8 L51.9 291.3 L52 291.1 L52 290.6 L52.5 290.1 L52.6 289.5 L52.8 288.7 L53.4 288.4 L53.3 288.2 L53.6 287.4 L53.6 286.8 L54.3 286.6 L54.5 286.1 L54.3 285 L54.6 285 L55.1 284.4 L55.5 283.9 L55.8 283.7 L55.7 284.3 L56 284.8 L56.6 285.1 L56.7 285.4 L56.8 286.2 L57.2 286.6 L57.4 286.9 L57.5 287.6 L57.8 287.7 L58.2 288.2 L58 288.7 L58.3 289.6 L58.2 290.1 L58.8 290.5 L58.7 290.8 L58.7 291.1 L59.3 291.6 L59.5 292.4 L59.7 292.5 L59.6 293.4 L60 293.2 L60.3 293.5 L61.1 293.5 L61.4 293.9 L62 294" stroke="#0a5c2c" stroke-width="2.8" stroke-linecap="round" stroke-linejoin="round" fill="none"/>
<path d="M62.2 287.7 L62.9 287 L62.8 286.5 L63.2 285.8 L63.8 285.5 L63.9 284.8 L64.5 284.8 L64.6 284.2 L64.9 283.7 L65.4 283.2 L65.8 282.9 L65.7 283.1 L66.1 283.6 L66.4 284.3 L66.7 284.9 L66.9 285.3 L66.8 285.8 L67.5 286.1 L67.7 286.5 L67.6 286.8 L67.8 287.6 L68.2 288.2 L68.2 288.8 L68.2 288.7 L68.4 289.5 L68.8 289.8 L68.5 290.6 L68.8 291.2 L69.2 291.3 L69.3 292.2 L69.3 292.8 L69.3 292.8 L70.2 293.4 L70.8 293.8 L71.1 293.5 L71.8 294" stroke="#0a5c2c" stroke-width="2.8" stroke-linecap="round" stroke-linejoin="round" fill="none"/>
<path d="M72.1 286.4 L72.3 285.9 L72.9 285.4 L73 285 L73.1 284.7 L73.3 283.9 L73.5 283.6 L74.1 282.9 L74.1 282.6 L74.5 282.2 L75 281.4 L74.9 281.5 L75.7 280.6 L75.6 280.4 L76.2 279.9 L76.6 279.4 L76.8 278.9 L76.8 280 L77.1 280.4 L77 280.9 L77.5 281 L77.6 281.9 L77.4 282 L78 282.6 L78.2 283 L78.1 283.3 L78.2 284.2 L78.3 284.7 L78.7 285 L78.6 285.2 L78.6 286.1 L79.2 286.7 L78.9 287.2 L79.2 287.3 L79.6 288.1 L79.6 288.3 L79.4 288.7 L79.6 289.2 L79.9 289.7 L79.8 290.6 L80 290.5 L79.9 291.4 L80.1 291.8 L80.2 292.3 L80.9 292.7 L81.1 293.3 L81.9 293.6 L82 293.8" stroke="#0a5c2c" stroke-width="2.8" stroke-linecap="round" stroke-linejoin="round" fill="none"/>
<path d="M82.5 284.8 L82.4 284.1 L82.6 283.8 L82.7 283 L83.1 282.7 L83.6 282.2 L83.3 281.7 L84 281.1 L84.1 281 L84.5 280.3 L84.6 280.3 L85.1 279.6 L84.9 279.2 L85.4 278.7 L85.7 278.1 L86 277.6 L86 277 L86.4 276.6 L86.5 276.2 L86.9 275.8 L87.5 275.4 L87.4 275.8 L87.6 276.6 L87.7 276.9 L87.8 277.2 L87.8 277.7 L88.1 278.2 L88.3 279 L88.3 279.6 L88.6 280.1 L88.8 280.7 L89.1 280.8 L89.2 281.4 L89.4 281.9 L89.3 282.2 L89.8 282.7 L89.5 283.7 L89.6 283.9 L89.9 284.5 L90.3 285.2 L90.1 285.2 L90.2 285.6 L90.4 286.5 L90.9 286.7 L90.7 287.6 L91 287.8 L90.8 288.1 L91.1 288.9 L91.1 289.4 L91.7 289.5 L91.5 290.3 L91.8 291 L92 291.3 L92 291.9 L92.2 292.6 L92.7 292.8 L93.2 293.2 L93.6 293.6" stroke="#0a5c2c" stroke-width="2.8" stroke-linecap="round" stroke-linejoin="round" fill="none"/>
<path d="M93.8 283.8 L94.1 283.5 L94.1 282.8 L94.8 282.5 L94.8 281.8 L94.8 281.4 L95.2 281 L95.4 280.5 L95.8 279.8 L96.2 279.7 L96.2 279 L96.4 278.7 L97 279.1 L97.1 279.7 L96.9 279.9 L97.4 280.9 L97.6 281.1 L97.5 281.4 L97.9 282.2 L97.9 282.3 L98 283.2 L98.5 283.5 L98.7 283.9 L98.4 284.3 L99.1 285.1 L98.8 285.3 L99.2 285.9 L99.1 286.7 L99.6 286.8 L99.5 287.5 L100.2 288 L100.3 288.6 L100.4 288.6 L100.4 289.4 L100.6 289.7 L100.6 290.6 L101.1 290.7 L101.2 291.5 L101.2 291.9 L101.7 292.3 L102.4 292.6 L102.6 292.6 L103 292.7 L103.8 293.3 L104.3 293.5 L104.6 293.5 L105.4 293.4 L106 293.7 L106.1 293.5 L106.9 293.5 L107.4 293.8" stroke="#0a5c2c" stroke-width="2.8" stroke-linecap="round" stroke-linejoin="round" fill="none"/>
<path d="M107.9 285.2 L108 285.2 L108.7 284.6 L108.7 284.1 L109 283.4 L109.1 282.7 L109.2 282.4 L109.5 282.1 L109.6 281.3 L110.2 281.2 L110.5 280.7 L110.3 280 L110.9 279.7 L110.8 279 L111.2 278.2 L111.3 278.1 L111.8 277.5 L111.9 277 L111.9 277.3 L112.3 278.2 L112.2 278.7 L112.6 279.1 L112.7 279.8 L112.3 280.3 L112.7 280.7 L113 280.8 L113 281.3 L113.2 281.9 L113.1 282.4 L113.5 283.1 L113.3 283.7 L113.3 284.2 L113.7 284.7 L113.8 285.3 L114 285.5 L114 286.1 L114 286.4 L114.4 287.3 L114.6 287.7 L114.5 288 L114.7 288.7 L115 289.2 L114.7 289.5 L114.7 289.3 L115 288.5 L114.9 288.1 L115.6 287.4 L115.6 287.2 L115.7 286.6 L115.6 286.1 L115.9 285.8 L116 284.9 L116.4 284.6 L116.2 284.1 L116.2 283.3 L116.7 283 L116.8 282.3 L116.7 281.8 L117.1 281.6 L116.9 280.9 L117 280.3 L117.4 279.9 L117.1 279.4 L117.5 279.3 L117.6 278.4 L118 278.1 L117.9 277.4 L117.8 276.8 L118.2 276.6 L118.1 276 L118.3 275.6 L118.6 275.2 L119 274.5 L119 273.9 L119 273.7 L119.6 272.9 L119.8 272.9 L119.7 272.2 L120 271.6 L120 271.4 L120.2 270.7 L120.5 270 L120.6 269.8" stroke="#0a5c2c" stroke-width="2.8" stroke-linecap="round" stroke-linejoin="round" fill="none"/>
<path d="M62.2 291h0M72 290.5h0M82.1 289.5h0M93.7 289h0M107.8 290h0M121.3 276h0M121.8 281.5h0M122.2 286h0" stroke="#0a5c2c" stroke-width="2.2" stroke-linecap="round" fill="none"/>
<path d="M123 272.3 L123.3 271.7 L123.6 271.3 L123.9 272.5 L124.2 273.2 L124.5 272.5 L124.8 272.4 L125.1 273 L125.4 272.2 L125.7 274.1 L126 271.4 L126.3 270.7 L126.6 272.7 L126.9 273.1 L127.2 272 L127.5 272.1 L127.8 271.9 L128.1 271.6 L128.4 273.5 L128.7 273.7 L129 271.7 L129.3 272.7 L129.6 272.3 L129.9 271.2 L130.2 273.3 L130.5 272.6 L130.8 274.2 L131.1 273.9 L131.4 273.9 L131.7 271.6 L132 271.1 L132.3 273.5 L132.6 271.1 L132.9 273.1 L133.2 271.3 L133.5 273.2 L133.8 270.9 L134.1 271 L134.4 273.7 L134.7 272.5 L135 272.3" stroke="#0a5c2c" stroke-width="2.3" stroke-linecap="round" stroke-linejoin="round" fill="none"/>
<path d="M134.7 274.5h0M126.1 274.2h0M127.9 273.1h0M127.1 272h0M127 272.2h0M125.7 274.9h0M127.9 273.5h0M132.8 274.1h0M125.3 275.3h0M134.2 274.8h0M127.3 274.7h0M130.9 271.1h0M127.8 274.1h0M129.8 275.3h0M132.6 274.8h0M134.8 272.5h0M133.9 271h0M132.7 271.4h0M129.2 273h0M124.3 273.9h0M132.6 272h0M126.3 274.5h0M129.6 271.1h0M127 275.2h0M126.7 272.3h0M128.7 275h0M132.8 272.7h0M131.2 271.1h0M124.2 272.7h0M130.8 271.6h0" stroke="#0a5c2c" stroke-width="2.4" stroke-linecap="round" fill="none"/>
<path d="M135.3 273 L136 277 L137.7 291 L138.6 293.8 L145.4 294" stroke="#0a5c2c" stroke-width="2.4" stroke-linecap="round" stroke-linejoin="round" fill="none"/>
<path d="M153.9 294.1L154.5 294.5L155.1 294.2L155.7 294.1L156.3 294.1L156.9 294.1L157.5 294.2L158.1 294.4L158.7 294.4L159.3 294.2L159.9 294.4L160.5 294.3L161.1 294.4L161.7 294.2L162.3 294.4L162.9 294.1L163.5 294.6L164.1 294.2L164.7 294.4L165.3 294.2L165.9 294.3L166.5 294.2L167.1 294.4L167.7 294.5L168.3 294.5L168.9 294.6L169.5 294.3L170.1 294.4L170.7 294.3L171.3 294.2L171.9 294.4L172.5 294.6L173.1 294.1L173.7 294.5L174.3 294.3L174.9 294.4L175.5 294.2L176.1 294.5L176.7 294.3L177.3 294.3L177.9 294.3L178.5 294.1L179.1 294.1L179.7 294.6L180.3 294.1L180.9 294.3L181.5 294.4L182.1 294.1L182.7 294.6L183.3 294.2L183.9 294.6L184.5 294.3L185.1 294.4L185.7 294.4L186.3 294.1L186.9 294.4L187.5 294.5L188.1 294.5L188.7 294.5L189.3 294.4L189.9 294.2L190.5 294.3L191.1 294.4L191.7 294.1L192.3 294.5L192.9 294.2L193.5 294.4L194.1 294.2L194.7 294.2L195.3 294.6L195.9 294.4L196.5 294.5L197.1 294.4L197.7 294.4L198.3 294.5L198.9 294.1L199.5 294.3L200.1 294.2L200.7 294.4L201.3 294.3L201.9 294.6L202.5 294.2L203.1 294.2L203.7 294.6L204.3 294.5L204.9 294.3L205.5 294.3L206.1 294.5L206.7 294.2L207.3 294.5L207.9 294.2L208.5 294.5L209.1 294.1L209.7 294.6L210.3 294.5L210.9 294.1L211.5 294.2L212.1 294.6L212.7 294.5L213.3 294.2L213.9 294.5L214.5 294.4L215.1 294.2L215.7 294.4L216.3 294.3" stroke="#0a5c2c" stroke-width="2.8" fill="none" stroke-linejoin="round"/>
<path d="M157.5 282h0M158.2 282.3h0M158 282.6h0M157.6 282.9h0M157.8 283.2h0M158 283.5h0M157.7 283.9h0M157.6 284.2h0M157.9 284.5h0M158.3 284.8h0M157.5 285.1h0M157.6 285.4h0M157.8 285.7h0M158.4 286h0M158.3 286.3h0M157.4 286.6h0M158 287h0M157.5 287.3h0M157.6 287.6h0M157.5 287.9h0M157.9 288.2h0M158.6 288.5h0M158.4 288.8h0M157.8 289.1h0M158.4 289.4h0M158.3 289.7h0M157.4 290.1h0M158.7 290.4h0M157.6 290.7h0M158.9 291h0M157.4 291.3h0M158.8 291.6h0M158 291.9h0M158.1 292.2h0M157.4 292.5h0M158.1 292.8h0" stroke="#0a5c2c" stroke-width="2.1" stroke-linecap="round" fill="none"/>
<path d="M162.2 283h0M162.1 283.3h0M162.4 283.6h0M162.1 283.9h0M162.3 284.2h0M161.7 284.5h0M162.2 284.9h0M162.2 285.2h0M162.4 285.5h0M161.9 285.8h0M162 286.1h0M162.4 286.4h0M161.8 286.7h0M162 287h0M162.4 287.3h0M162.3 287.6h0M162.1 288h0M161.5 288.3h0M162.4 288.6h0M162.1 288.9h0M161.8 289.2h0M162 289.5h0M161.7 289.8h0M162.7 290.1h0M162.5 290.4h0M163 290.7h0M162.4 291.1h0M161.6 291.4h0M162 291.7h0M163.2 292h0M161.3 292.3h0M161.9 292.6h0M161.5 292.9h0M161.5 293.2h0" stroke="#0a5c2c" stroke-width="2.1" stroke-linecap="round" fill="none"/>
<path d="M166.4 283.5h0M166.7 283.8h0M166.3 284.1h0M167 284.4h0M166.6 284.7h0M166.3 285h0M166.3 285.4h0M166.7 285.7h0M166.5 286h0M166.7 286.3h0M166.3 286.6h0M166.5 286.9h0M166.7 287.2h0M166.2 287.5h0M166.7 287.8h0M167.1 288.1h0M166.8 288.5h0M166.3 288.8h0M166.8 289.1h0M166.2 289.4h0M166.3 289.7h0M166.1 290h0M166.7 290.3h0M166.3 290.6h0M166.4 290.9h0M166.2 291.2h0M167.3 291.6h0M166.2 291.9h0M167 292.2h0M167.5 292.5h0M166.7 292.8h0M167.1 293.1h0" stroke="#0a5c2c" stroke-width="2.1" stroke-linecap="round" fill="none"/>
<path d="M174.1 283.5h0M174.5 283.8h0M174.4 284.1h0M173.8 284.4h0M174.4 284.7h0M173.9 285h0M174.2 285.4h0M173.9 285.7h0M174.2 286h0M174.4 286.3h0M174.5 286.6h0M174.1 286.9h0M173.9 287.2h0M174.3 287.5h0M174.7 287.8h0M174.4 288.1h0M174.4 288.5h0M174.7 288.8h0M174.4 289.1h0M175 289.4h0M174.8 289.7h0M174.7 290h0M174.7 290.3h0M173.8 290.6h0M174 290.9h0M174.8 291.2h0M174.5 291.6h0M175.2 291.9h0M174.8 292.2h0M174.1 292.5h0M173.7 292.8h0M174.9 293.1h0" stroke="#0a5c2c" stroke-width="2.1" stroke-linecap="round" fill="none"/>
<path d="M184.6 283.5h0M184.9 283.8h0M184.7 284.1h0M184.8 284.4h0M185 284.7h0M185.1 285h0M185 285.4h0M184.5 285.7h0M185.3 286h0M185.2 286.3h0M185.3 286.6h0M185.1 286.9h0M185.1 287.2h0M185.5 287.5h0M185.2 287.8h0M185.2 288.1h0M184.5 288.5h0M184.4 288.8h0M185.2 289.1h0M185.6 289.4h0M184.9 289.7h0M184.7 290h0M184.9 290.3h0M185.7 290.6h0M185.4 290.9h0M184.5 291.2h0M184.6 291.6h0M184.6 291.9h0M185.5 292.2h0M184.6 292.5h0M185.8 292.8h0M185 293.1h0" stroke="#0a5c2c" stroke-width="2.1" stroke-linecap="round" fill="none"/>
<path d="M198.2 283h0M198.3 283.3h0M198.1 283.6h0M198.8 283.9h0M198 284.2h0M198.4 284.5h0M198.3 284.9h0M198 285.2h0M198.2 285.5h0M199 285.8h0M198.8 286.1h0M198.4 286.4h0M198.8 286.7h0M199 287h0M198.8 287.3h0M198.8 287.6h0M198.5 288h0M198.6 288.3h0M198.7 288.6h0M198.7 288.9h0M199 289.2h0M198.1 289.5h0M199 289.8h0M199 290.1h0M198.4 290.4h0M199.2 290.7h0M198.2 291.1h0M198.4 291.4h0M198.7 291.7h0M199.6 292h0M198.1 292.3h0M199.4 292.6h0M198.8 292.9h0M199.7 293.2h0" stroke="#0a5c2c" stroke-width="2.1" stroke-linecap="round" fill="none"/>
<path d="M49.5 266.1 L50 266.3 L50.5 266.4 L51 266.4 L51.5 266.3 L52 266.3 L52.5 266.3 L53 266.2 L53.5 266.1 L54 266.2 L54.5 266.4 L55 266.4 L55.5 266 L56 266.1 L56.5 266.1 L57 266.3 L57.5 266.1 L58 266.3 L58.5 266.1 L59 266.1 L59.5 266.4 L60 266.1 L60.5 266.2 L61 266.1 L61.5 266.3 L62 266 L62.5 266.3 L63 266.1 L63.5 266.4 L64 266.1 L64.5 266.3 L65 266 L65.5 266.4 L66 266.3 L66.5 266.4 L67 266.3 L67.5 266 L68 266.3 L68.5 266.2 L69 266.1 L69.5 266.4 L70 266.3 L70.5 266.1 L71 266 L71.5 266.3 L72 266 L72.5 266.1 L73 266 L73.5 266.1 L74 266.3 L74.5 266.1 L75 266.4 L75.5 266.1 L76 266.3 L76.5 266.3 L77 266.3 L77.5 266.2 L78 266.1 L78.5 266.3 L79 266.4 L79.5 266.2 L80 266.1 L80.5 266 L81 266.1 L81.5 266.4 L82 266.1 L82.5 266.1 L83 266.2 L83.5 266 L84 266.3 L84.5 266.3 L85 266.1 L85.5 266 L86 266.4 L86.5 266.3 L87 266.3 L87.5 266.1 L88 266.4 L88.5 266.3 L89 266 L89.5 266.4 L90 266.3 L90.5 266.1 L91 266.4 L91.5 266.2 L92 266.3 L92.5 266 L93 266.1 L93.5 266.3 L94 266 L94.5 266.1 L95 266 L95.5 266.2 L96 266.1 L96.5 266.3 L97 266.2 L97.5 266.3 L98 266.4 L98.5 266.4 L99 266.1 L99.5 266.1 L100 266.3 L100.5 266.1 L101 266.4 L101.5 266.1 L102 266.3 L102.5 266.1 L103 266.3 L103.5 266.1 L104 266.2 L104.5 266.3 L105 266.3 L105.5 266.1 L106 266.1 L106.5 266.1 L107 266.3 L107.5 266.3 L108 266.3 L108.5 266.3 L109 266.1 L109.5 266.2 L110 266 L110.5 266.1 L111 266.2 L111.5 266.1 L112 266.3 L112.5 266.1 L113 266.2 L113.5 266.3 L114 266.1 L114.5 266.3 L115 266.2 L115.5 266 L116 266 L116.5 266.3 L117 266.3 L117.5 266.3 L118 266.3 L118.5 266.3 L119 266.3 L119.5 266.3 L120 266.2 L120.5 266.2 L121 266.1 L121.5 266.1 L122 266 L122.5 266 L123 266.2 L123.5 266.1 L124 266.2 L124.5 266.3 L125 266.1 L125.5 266.4" stroke="#ff0000" stroke-width="2.3" stroke-linecap="round" stroke-linejoin="round" fill="none"/>
<path d="M125.7 266.1 L126.1 265.9 L126.5 265.7 L127 265.4 L127.4 265.3 L128.1 265.1 L128.4 264.6 L129.1 264.4 L129.5 264.2 L130 263.9 L130.4 263.6 L131.1 263.5 L131.4 263.1 L132 262.9 L132.5 262.7 L132.9 262.4 L133.5 262.3 L133.9 262 L134.6 261.9 L135 261.9 L135.7 261.8 L136.1 261.6 L136.6 261.6 L137.2 261.4 L137.7 261.4 L138.2 261.2 L138.7 261.3 L139.1 261.5 L139.8 261.4 L140.3 261.4 L140.7 261.5 L141.3 261.4 L141.9 261.5 L142.5 261.4 L142.8 261.5 L143.4 261.4 L143.9 261.4 L144.4 261.5" stroke="#ff0000" stroke-width="2.3" stroke-linecap="round" stroke-linejoin="round" fill="none"/>
<path d="M154 262.5 L154.5 263.1 L155 262.6 L155.5 263 L156 262.6 L156.5 262.4 L157 263.1 L157.5 263.1 L158 263.1 L158.5 263 L159 262.5 L159.5 262.9 L160 263.2 L160.5 263.2 L161 263 L161.5 263 L162 262.5 L162.5 262.4 L163 263.3 L163.5 262.4 L164 262.7 L164.5 262.8 L165 263.2 L165.5 263.2 L166 263.4 L166.5 263.4 L167 262.7 L167.5 262.7 L168 262.6 L168.5 262.8 L169 262.6 L169.5 263.5 L170 263.1 L170.5 263 L171 262.5 L171.5 263.5 L172 262.8 L172.5 263.3 L173 262.7 L173.5 262.8 L174 262.7 L174.5 263.1 L175 262.8 L175.5 263.2 L176 263.3 L176.5 262.8 L177 262.7 L177.5 263.1 L178 263 L178.5 263.1 L179 263 L179.5 262.8 L180 262.7 L180.5 263.4 L181 263.3 L181.5 263.4 L182 263.3 L182.5 263.2 L183 262.8 L183.5 263.6 L184 263.2 L184.5 263.1 L185 262.9 L185.5 263.1 L186 263.7 L186.5 263.1 L187 263.6 L187.5 262.8 L188 263.3 L188.5 263 L189 263 L189.5 263 L190 263.1 L190.5 263.4 L191 263.2 L191.5 263.7 L192 262.9 L192.5 263.7 L193 263.2 L193.5 263.6 L194 263.2 L194.5 263.1 L195 263.8 L195.5 263.5 L196 263.6 L196.5 263.4 L197 263.6 L197.5 263.9 L198 263.6 L198.5 263.9 L199 263.2 L199.5 263.2 L200 263.8 L200.5 263.8 L201 263.8 L201.5 263.3 L202 263.3 L202.5 263.9 L203 263.1 L203.5 263.1 L204 263.1 L204.5 263.2 L205 263.4 L205.5 263.3 L206 263.4 L206.5 263 L207 263.3 L207.5 263.5 L208 263 L208.5 263.5 L209 263.9 L209.5 263.7 L210 264 L210.5 263.9 L211 263.5 L211.5 263 L212 263.1 L212.5 263.6 L213 263.9 L213.5 263.4 L214 263.2 L214.5 263.9 L215 263.6 L215.5 263.6 L216 263.2 L216.5 263.7" stroke="#ff0000" stroke-width="2.3" stroke-linecap="round" stroke-linejoin="round" fill="none"/>
<path d="M155.5 265.8h0M158.5 265.1h0M159.5 264.2h0M161 264.5h0M165 264.7h0M178 264.4h0M178.5 265.6h0M179 265.1h0M182.5 264.7h0M184.5 265.6h0M189 265.5h0M190.5 265h0M199.5 264.4h0" stroke="#ff0000" stroke-width="1.6" stroke-linecap="round" fill="none"/>
<path d="M49 443H216.6M49 425H216.6M49 407.1H216.6M49 389.2H216.6M49 371.3H216.6M49 353.3H216.6M91 335.4V460.9M132.9 335.4V460.9M174.9 335.4V460.9" stroke="#e6e6e6" stroke-width="0.7" stroke-dasharray="4.1 4.3" fill="none"/>
<path d="M49 335.4H216.6V460.9H49ZM49 460.9h-7M49 451.9h-3.5M49 443h-7M49 434h-3.5M49 425h-7M49 416.1h-3.5M49 407.1h-7M49 398.1h-3.5M49 389.2h-7M49 380.2h-3.5M49 371.3h-7M49 362.3h-3.5M49 353.3h-7M49 344.4h-3.5M49 335.4h-7M216.6 460.9h7M216.6 448.3h3.5M216.6 435.8h7M216.6 423.2h3.5M216.6 410.7h7M216.6 398.1h3.5M216.6 385.6h7M216.6 373h3.5M216.6 360.5h7M216.6 347.9h3.5M216.6 335.4h7M49 460.9v7M91 460.9v7M132.9 460.9v7M174.9 460.9v7M216.8 460.9v7M70 460.9v3.5M111.9 460.9v3.5M153.9 460.9v3.5M195.8 460.9v3.5" stroke="#4d4d4d" stroke-width="1.25" fill="none"/>
<text x="38.2" y="464.3" font-size="8.5" text-anchor="end" textLength="4.7" lengthAdjust="spacingAndGlyphs" stroke="#1e1e1e" stroke-width="0.22" fill="#1e1e1e">0</text>
<text x="38.2" y="446.4" font-size="8.5" text-anchor="end" textLength="14.1" lengthAdjust="spacingAndGlyphs" stroke="#1e1e1e" stroke-width="0.22" fill="#1e1e1e">600</text>
<text x="38.2" y="428.5" font-size="8.5" text-anchor="end" textLength="21" lengthAdjust="spacingAndGlyphs" stroke="#1e1e1e" stroke-width="0.22" fill="#1e1e1e">1,200</text>
<text x="38.2" y="410.6" font-size="8.5" text-anchor="end" textLength="21" lengthAdjust="spacingAndGlyphs" stroke="#1e1e1e" stroke-width="0.22" fill="#1e1e1e">1,800</text>
<text x="38.2" y="392.6" font-size="8.5" text-anchor="end" textLength="21" lengthAdjust="spacingAndGlyphs" stroke="#1e1e1e" stroke-width="0.22" fill="#1e1e1e">2,400</text>
<text x="38.2" y="374.7" font-size="8.5" text-anchor="end" textLength="21" lengthAdjust="spacingAndGlyphs" stroke="#1e1e1e" stroke-width="0.22" fill="#1e1e1e">3,000</text>
<text x="38.2" y="356.8" font-size="8.5" text-anchor="end" textLength="21" lengthAdjust="spacingAndGlyphs" stroke="#1e1e1e" stroke-width="0.22" fill="#1e1e1e">3,600</text>
<text x="38.2" y="338.8" font-size="8.5" text-anchor="end" textLength="21" lengthAdjust="spacingAndGlyphs" stroke="#1e1e1e" stroke-width="0.22" fill="#1e1e1e">4,200</text>
<text x="227" y="464.3" font-size="8.5" textLength="4.7" lengthAdjust="spacingAndGlyphs" stroke="#1e1e1e" stroke-width="0.22" fill="#1e1e1e">0</text>
<text x="227" y="439.2" font-size="8.5" textLength="9.4" lengthAdjust="spacingAndGlyphs" stroke="#1e1e1e" stroke-width="0.22" fill="#1e1e1e">20</text>
<text x="227" y="414.1" font-size="8.5" textLength="9.4" lengthAdjust="spacingAndGlyphs" stroke="#1e1e1e" stroke-width="0.22" fill="#1e1e1e">40</text>
<text x="227" y="389" font-size="8.5" textLength="9.4" lengthAdjust="spacingAndGlyphs" stroke="#1e1e1e" stroke-width="0.22" fill="#1e1e1e">60</text>
<text x="227" y="363.9" font-size="8.5" textLength="9.4" lengthAdjust="spacingAndGlyphs" stroke="#1e1e1e" stroke-width="0.22" fill="#1e1e1e">80</text>
<text x="227" y="338.8" font-size="8.5" textLength="14.1" lengthAdjust="spacingAndGlyphs" stroke="#1e1e1e" stroke-width="0.22" fill="#1e1e1e">100</text>
<text transform="translate(9 397.9) rotate(-90)" font-size="8.6" text-anchor="middle" textLength="70.5" lengthAdjust="spacingAndGlyphs" stroke="#1e1e1e" stroke-width="0.22" fill="#1e1e1e">Vent Rate [m<tspan dy="-3" font-size="5.4">3</tspan><tspan dy="3">/d]</tspan></text>
<text transform="translate(253.4 398.5) rotate(-90)" font-size="8.6" text-anchor="middle" textLength="102.7" lengthAdjust="spacingAndGlyphs" stroke="#1e1e1e" stroke-width="0.22" fill="#1e1e1e">CH<tspan dy="1.6" font-size="5.6">4</tspan><tspan dy="-1.6"> Volume Fraction [%]</tspan></text>
<text x="51.8" y="347.9" font-size="8.9" textLength="124.6" lengthAdjust="spacingAndGlyphs" stroke="#1e1e1e" stroke-width="0.3" fill="#1e1e1e">Released Whole Gas: 11.7 m<tspan dy="-3.2" font-size="5.6">3</tspan></text>
<text x="0.6" y="490.2" font-size="9.3" textLength="10.1" lengthAdjust="spacingAndGlyphs" stroke="#1e1e1e" stroke-width="0.22" fill="#1e1e1e">(e)</text>
<text x="35.2" y="478.6" font-size="8" textLength="21.2" lengthAdjust="spacingAndGlyphs" stroke="#1e1e1e" stroke-width="0.22" fill="#1e1e1e">14:45</text>
<text x="35" y="490.3" font-size="8" textLength="27.4" lengthAdjust="spacingAndGlyphs" stroke="#1e1e1e" stroke-width="0.22" fill="#1e1e1e">08-Nov</text>
<text x="77.2" y="478.6" font-size="8" textLength="21.2" lengthAdjust="spacingAndGlyphs" stroke="#1e1e1e" stroke-width="0.22" fill="#1e1e1e">14:50</text>
<text x="77" y="490.3" font-size="8" textLength="27.4" lengthAdjust="spacingAndGlyphs" stroke="#1e1e1e" stroke-width="0.22" fill="#1e1e1e">08-Nov</text>
<text x="119.1" y="478.6" font-size="8" textLength="21.2" lengthAdjust="spacingAndGlyphs" stroke="#1e1e1e" stroke-width="0.22" fill="#1e1e1e">14:55</text>
<text x="118.9" y="490.3" font-size="8" textLength="27.4" lengthAdjust="spacingAndGlyphs" stroke="#1e1e1e" stroke-width="0.22" fill="#1e1e1e">08-Nov</text>
<text x="161.1" y="478.6" font-size="8" textLength="21.2" lengthAdjust="spacingAndGlyphs" stroke="#1e1e1e" stroke-width="0.22" fill="#1e1e1e">15:00</text>
<text x="160.9" y="490.3" font-size="8" textLength="27.4" lengthAdjust="spacingAndGlyphs" stroke="#1e1e1e" stroke-width="0.22" fill="#1e1e1e">08-Nov</text>
<text x="203" y="478.6" font-size="8" textLength="21.2" lengthAdjust="spacingAndGlyphs" stroke="#1e1e1e" stroke-width="0.22" fill="#1e1e1e">15:05</text>
<text x="202.8" y="490.3" font-size="8" textLength="27.4" lengthAdjust="spacingAndGlyphs" stroke="#1e1e1e" stroke-width="0.22" fill="#1e1e1e">08-Nov</text>
<path d="M49.3 460.6L49.3 449L49.8 449.6L50.2 451.8L50.7 451.8L51.1 452.9L51.6 453L52 454.9L52.5 455.2L52.9 456.2L53.4 456.6L53.8 456.7L54.3 457.7L54.7 457.5L55.2 457.5L55.6 456.9L56.1 456.6L56.5 457.2L57 457.6L57.4 456.9L57.9 456.8L58.3 457.1L58.8 457.3L59.2 457.2L59.7 457.4L60.1 456.6L60.6 457.2L61 456.7L61.5 456.9L61.9 457.4L62.4 457.3L62.8 456.8L63.3 456.5L63.7 452L64.2 454.4L64.6 454.8L65.1 455.6L65.5 455.8L66 455.9L66.4 455.6L66.9 455.5L67.3 456.2L67.8 457L68.2 456.7L68.7 457.2L69.1 457L69.6 456.7L70 456.8L70.5 457.3L70.9 452.6L71.4 452.3L71.8 453.6L72.3 454.3L72.7 455.3L73.2 455.7L73.6 455.3L74.1 456.7L74.5 456L75 455.7L75.4 456.3L75.9 457.2L76.3 457.3L76.8 456.3L77.2 457.2L77.7 456.9L78.1 452L78.6 452.9L79 454.4L79.5 454.3L79.9 454.4L80.4 455.5L80.8 456L81.3 455.8L81.7 455.7L82.2 456.1L82.6 455.9L83.1 456.2L83.5 456.1L84 457.1L84.4 456.6L84.9 457.2L85.3 453.4L85.8 453.8L86.2 453.3L86.7 455.1L87.1 455.5L87.6 454.9L88 455.1L88.5 455.7L88.9 456.5L89.4 456L89.8 457.1L90.3 457.3L90.7 457.3L91.2 457L91.6 457.2L92.1 456.4L92.5 457L93 451.9L93.4 453.6L93.9 454.5L94.3 455.1L94.8 456L95.2 455.7L95.7 455.2L96.1 455.4L96.6 455.7L97 457L97.5 456.6L97.9 456.2L98.4 457.2L98.8 457.4L99.3 457.2L99.7 457.4L100.2 456.6L100.6 456.6L101.1 456.3L101.5 453.4L102 452.9L102.4 453.5L102.9 455.2L103.3 455.8L103.8 454.7L104.2 455.4L104.7 456.7L105.1 456.7L105.6 456.2L106 457L106.5 456.7L106.9 457.2L107.4 457.3L107.8 456.8L108.3 456.8L108.7 456.4L109.2 457.6L109.6 457.1L110.1 457.5L110.5 456.9L111 457.4L111.4 457.2L111.9 456.4L112.3 456.8L112.8 456.8L113.2 456.8L113.7 453L114.1 452.9L114.6 453.1L115 455.4L115.5 454.5L115.9 455.7L116.4 456.3L116.8 455.8L117.3 455.7L117.7 456.9L118.2 456.9L118.6 456.6L119.1 457.1L119.5 456.7L120 456.1L120.4 457.5L120.9 457L121.3 457.3L121.8 457.4L122.2 456.8L122.7 456.4L123.1 457L123.6 456.9L124 456.7L124.5 456.5L124.9 456.4L125.4 457.2L125.8 457.4L126.3 456.4L126.7 456.9L127.2 456.5L127.6 457.5L128.1 456.6L128.5 457.5L129 457.5L129.4 457.5L129.9 457.2L130.3 453.1L130.8 453.4L131.2 453.6L131.7 455L132.1 455.2L132.6 455.8L133 456.1L133.5 456.5L133.9 457L134.4 456.8L134.8 456.3L135.3 451.6L135.7 452.8L136.2 454.1L136.6 454.7L137.1 455.6L137.5 455.9L138 455L138.4 455.9L138.9 456.4L139.3 456.3L139.8 456.5L140.2 456.9L140.7 456.8L141.1 451.9L141.6 451.9L142 452.9L142.5 454.7L142.9 454.9L143.4 455.8L143.8 454.9L144.3 456.5L144.7 456.2L145.2 457L145.6 456.5L146.1 456.6L146.5 457.3L147 457.2L147.4 456.8L147.8 456.9L148.3 457.1L148.7 457.5L149.2 457.1L149.6 457.1L150.1 457.5L150.5 456.8L151 457.3L151.4 456.9L151.9 456.7L152.3 457.6L152.8 457L153.2 456.8L153.7 456.5L154.1 456.7L154.6 456.5L155 456.8L155.5 457.4L155.9 456.6L156.4 448.2L156.8 449.8L157.3 449.4L157.7 452.3L158.2 450.8L158.6 452.6L159.1 452.7L159.5 452.6L160 454.3L160.4 454L160.9 455.2L161.3 455.4L161.8 454.1L162.2 455.6L162.7 455.5L163.1 456.2L163.6 455.1L164 455.9L164.5 455.6L164.9 456.6L165.4 456.4L165.8 456.9L166.3 456.5L166.7 456.5L167.2 456.8L167.6 456.8L168.1 457.3L168.5 456.6L169 457.8L169.4 457.7L169.9 457.2L170.3 456.9L170.8 457.1L171.2 457.9L171.7 457.1L172.1 457.8L172.6 457.7L173 457.7L173.5 457.7L173.9 457.5L174.4 457.5L174.8 458.2L175.3 457.6L175.7 458.3L176.2 458L176.6 458.6L177.1 458.1L177.5 458.5L178 457.8L178.4 458.2L178.9 458.5L179.3 458L179.8 458.9L180.2 458.2L180.7 458.4L181.1 459L181.6 458.6L182 459L182.5 458.1L182.9 459.1L183.4 458.6L183.8 458.7L184.3 459.1L184.7 458.3L185.2 458.7L185.6 458.7L186.1 459.1L186.5 459.2L187 459L187.4 459.3L187.9 459.2L188.3 458.9L188.8 459.1L189.2 458.7L189.7 459.3L190.1 459.3L190.6 459L191 458.9L191.5 459.2L191.9 459.3L192.4 459.4L192.8 459.2L193.3 459.2L193.7 458.9L194.2 459.4L194.6 459.3L195.1 458.9L195.5 459.4L196 459.6L196.4 458.8L196.9 458.8L197.3 459.4L197.8 459.4L198.2 459.3L198.7 459.5L199.1 459L199.6 458.9L200 459.1L200.5 459.4L200.9 459L201.4 458.9L201.8 459.6L202.3 459.2L202.7 459.6L203.2 458.9L203.6 459.1L204.1 459.4L204.5 459.2L205 459.5L205.4 459.7L205.9 459.4L206.3 459.7L206.8 459.4L207.2 459.1L207.7 459.3L208.1 459.6L208.6 459.7L209 459.4L209.5 459.4L209.9 459.1L210.4 459.7L210.8 459.5L211.3 459.5L211.7 459.5L212.2 459.7L212.6 459.6L213.1 459.4L213.5 459.7L214 459.6L214.4 459.4L214.9 459.1L215.3 459.5L215.8 459.6L216.2 459.9L216.2 460.6Z" fill="#1e8fff" stroke="#1e8fff" stroke-width="1.4" stroke-linejoin="round"/>
<path d="M62.9 401.6h0M62.5 402.1h0M63 402.8h0M63.2 403.3h0M62.4 404h0M63 404.4h0M63 405.1h0M62.8 405.5h0M62.8 406.3h0M62.6 406.9h0M62.9 407.6h0M63.3 408h0M63.6 408.8h0M63.2 409.6h0M62.7 410.2h0M62.9 411h0M62.5 411.5h0M63.3 412.2h0M62.6 412.9h0M63.2 413.4h0M63.5 413.8h0M63.2 414.7h0M63.1 415.2h0M62.8 416h0M63.2 416.7h0M63.4 417.5h0M63.1 418.2h0M63.2 419.1h0M62.8 419.8h0M63.2 420.2h0M63.8 420.7h0M63.7 421.2h0M62.6 421.7h0M62.8 422.4h0M63.3 423.3h0M62.8 423.7h0M63.1 424.1h0M62.8 424.7h0M63 425.4h0M63.4 426.2h0M63.7 426.7h0M62.7 427.1h0M63.9 427.5h0M63.8 428.1h0M62.4 429h0M62.3 429.8h0M63.7 430.6h0M63.9 431.1h0M63.2 431.9h0M62.5 432.4h0M63.3 432.8h0M62.6 433.4h0M62.3 434.1h0M63.6 434.6h0M63.3 435h0M64 435.5h0M64.1 435.9h0M64.2 436.8h0M63.6 437.3h0M64.3 437.7h0M62.2 438.4h0M62.4 438.8h0M64.3 439.4h0M62.9 440.2h0M62.1 440.9h0M63 441.6h0M64.3 442h0M64.5 442.7h0M63.6 443.4h0M63.2 443.8h0M63.5 444.7h0M63.2 445.4h0M62 445.9h0M62.5 446.4h0M62.1 446.8h0M64.7 447.6h0M64.2 448.3h0M64.3 448.7h0M64.3 449.3h0M62.8 449.8h0M62.6 450.4h0M64 450.9h0M64.8 451.7h0M62.9 452.4h0M63.6 453h0M64.7 453.7h0M64.8 454.4h0M60.2 451.3h0M60.6 441.8h0M61.7 442.7h0M61.3 446.3h0M66.2 440h0M64.6 444.3h0M70.4 403.3h0M70.2 403.7h0M70.3 404.3h0M69.9 405h0M70.5 405.7h0M70.5 406.1h0M70.9 407h0M70.5 407.7h0M70.4 408.4h0M70.3 409.2h0M70.7 409.8h0M70.6 410.5h0M70.3 411.1h0M70.4 411.8h0M70.3 412.4h0M70.7 412.9h0M70.1 413.7h0M70.5 414.4h0M70.7 415.1h0M69.9 415.7h0M70.6 416.2h0M71.1 416.9h0M70.8 417.7h0M71 418.2h0M71.1 418.6h0M70.5 419.2h0M70.6 420h0M70 420.9h0M70.7 421.2h0M70.2 421.7h0M70.6 422.6h0M70.4 423.1h0M70.2 423.6h0M71.4 424h0M70.4 424.8h0M71.4 425.2h0M69.9 426h0M70.7 426.9h0M70.5 427.8h0M69.8 428.3h0M70.2 429h0M70.1 429.8h0M70.4 430.7h0M71.1 431.5h0M70.8 432.3h0M70.2 432.9h0M69.9 433.4h0M70.3 433.9h0M69.7 434.7h0M70.7 435.3h0M71.1 435.7h0M71.2 436.2h0M71.5 436.7h0M69.9 437.2h0M70.1 437.6h0M70.3 438h0M70.5 438.9h0M71.3 439.5h0M69.8 439.9h0M70.4 440.7h0M70 441.1h0M71.9 441.9h0M71.3 442.5h0M70.1 443.1h0M70.4 443.6h0M71.5 444.1h0M70.5 444.5h0M69.6 445.2h0M71.1 446.1h0M70 446.8h0M71.7 447.3h0M69.5 448.2h0M70 449h0M71.1 449.4h0M71.8 449.8h0M70.2 450.6h0M70.9 451h0M69.5 451.8h0M69.8 452.5h0M69.9 453.1h0M71 453.5h0M72.1 454h0M71.6 454.8h0M67.1 444.9h0M67.7 440.4h0M67.8 442.6h0M66.4 431.1h0M73.4 440.7h0M72.5 450.9h0M77.2 403.2h0M77.8 403.8h0M78 404.6h0M77.3 405.4h0M77.5 405.7h0M77.9 406.3h0M77.6 407.1h0M77.8 407.9h0M77.5 408.5h0M77.9 409.4h0M78.1 410.1h0M77.9 410.5h0M77.4 411.2h0M77.7 411.6h0M77.2 412.4h0M78.2 413.2h0M77.7 413.7h0M77.4 414.3h0M77.3 414.7h0M78.1 415.6h0M77.6 416.5h0M77 417.1h0M77.8 417.7h0M77 418.6h0M77 419.3h0M77.2 420.2h0M77.9 420.9h0M77.6 421.4h0M77.2 422h0M77 422.5h0M78.4 423.3h0M77.5 423.9h0M77.1 424.5h0M78 425.3h0M77.5 425.7h0M78.1 426.1h0M78.4 426.5h0M78.3 426.9h0M77.8 427.3h0M78.5 428.1h0M77.1 428.9h0M77.6 429.6h0M77.7 430.1h0M76.9 430.9h0M77.9 431.7h0M77.7 432.5h0M78.5 433h0M78.2 433.4h0M76.9 433.9h0M78.5 434.4h0M78.7 434.8h0M78.7 435.2h0M78.1 435.6h0M78 436.3h0M77.2 437.1h0M78 438h0M77.3 438.8h0M78.4 439.7h0M77.2 440.3h0M78 441.1h0M78.8 442h0M78.4 442.8h0M78.7 443.2h0M76.9 444h0M76.9 444.4h0M78.6 444.8h0M78.4 445.6h0M79.1 446.2h0M77.2 446.6h0M77.3 447.2h0M78.8 448h0M77.5 448.7h0M77.4 449.4h0M78 450h0M78.9 450.5h0M78.8 451.3h0M77.2 451.7h0M78.9 452.4h0M79.3 453.1h0M77.2 453.7h0M77.4 454.3h0M78.9 454.9h0M73.9 439.4h0M76.2 441.2h0M73.4 438.3h0M73.5 438.5h0M81 451.4h0M79.9 449.3h0M84.9 407.8h0M84.8 408.3h0M84.1 409h0M84.4 409.7h0M84.8 410.2h0M84.3 410.9h0M84.2 411.6h0M85.1 412h0M85.2 412.9h0M85 413.8h0M84.7 414.4h0M85.2 415.1h0M84.6 416h0M84.7 416.4h0M85.1 417h0M84.9 417.9h0M84.8 418.3h0M84.8 418.7h0M85 419.5h0M84.3 420.1h0M85.3 421h0M84.1 421.6h0M84.6 422.3h0M84.6 422.9h0M84.2 423.4h0M84.8 424.1h0M85.2 424.7h0M84.3 425.3h0M84.9 425.8h0M85 426.5h0M84.6 427.3h0M85 428h0M84.2 428.5h0M85.4 429.2h0M85.4 430.1h0M85 430.9h0M84.5 431.4h0M84.4 432.2h0M85 432.8h0M84.1 433.2h0M85.4 433.6h0M84.1 434.4h0M85.8 434.9h0M85.5 435.3h0M85.7 436h0M84.1 436.7h0M85.4 437.5h0M85.9 437.9h0M84.8 438.4h0M85.1 439h0M84 439.7h0M85 440.5h0M85 440.9h0M84.8 441.4h0M85.6 442.1h0M84.5 442.5h0M85.3 443.4h0M85.3 443.9h0M83.9 444.4h0M84 445.1h0M85.5 445.5h0M83.9 446.4h0M84.1 447.1h0M83.7 447.5h0M85.6 447.9h0M83.7 448.7h0M83.8 449.2h0M84.6 449.7h0M85.9 450.2h0M85.4 450.6h0M85.5 451h0M84.2 451.5h0M84.4 452.4h0M85.6 453h0M85.2 453.9h0M85.6 454.3h0M81.5 443.8h0M80.7 450.6h0M81.6 440.5h0M80.4 435.5h0M86.6 446.9h0M87.3 447h0M91.7 409.5h0M92.2 410.4h0M91.8 410.8h0M92.7 411.2h0M92.3 411.6h0M92.5 412.5h0M92 413.2h0M92.6 413.9h0M91.9 414.3h0M92.4 414.9h0M92.4 415.8h0M92.5 416.2h0M91.8 416.7h0M92.4 417h0M92.2 417.7h0M91.9 418.4h0M92.4 418.8h0M92.3 419.4h0M92.3 420.3h0M91.7 421h0M91.7 421.6h0M91.9 422.1h0M91.9 422.7h0M92.1 423.5h0M91.7 424h0M92.8 424.6h0M93 425.2h0M92.6 425.9h0M92.9 426.5h0M91.8 427.1h0M92.9 427.6h0M91.9 428h0M92.7 428.7h0M92.7 429.3h0M92.6 429.8h0M92.3 430.2h0M92.6 431.1h0M92.7 431.6h0M92.4 432.5h0M93.1 433.1h0M92 433.9h0M92.1 434.6h0M93.1 435.2h0M93.3 435.7h0M93.2 436.4h0M92.3 436.8h0M93.2 437.1h0M92.5 438h0M93.5 438.6h0M92.1 439.1h0M93.4 439.6h0M92.6 440.4h0M93.3 441.1h0M91.7 441.8h0M93.4 442.5h0M92.4 443.2h0M91.8 443.9h0M93 444.3h0M91.6 445.2h0M92.6 445.9h0M91.7 446.3h0M93.1 446.8h0M92.3 447.3h0M93.3 447.9h0M93.6 448.8h0M92.8 449.3h0M92.8 450h0M92.3 450.7h0M93.1 451.1h0M93.2 452h0M94 452.7h0M92.9 453.2h0M93.2 454h0M92.7 454.3h0M90.3 443.6h0M87.8 442.4h0M89.2 439.4h0M88.2 442.3h0M95.5 442.7h0M94.5 443.9h0M100.7 411.6h0M100.9 412h0M100.7 412.4h0M101.4 413.2h0M100.5 413.6h0M100.9 414.2h0M101.3 414.6h0M101 415h0M101.1 415.5h0M100.9 415.9h0M100.4 416.8h0M100.5 417.2h0M101.2 418h0M101.5 418.5h0M101 419h0M101.1 419.7h0M100.4 420.1h0M101.6 420.5h0M100.8 421.4h0M101.2 421.8h0M101.5 422.2h0M101.4 423.1h0M101.4 423.9h0M100.9 424.7h0M100.3 425.4h0M101 426.1h0M101.5 427h0M101.4 427.6h0M101.3 428.3h0M100.7 428.7h0M101.4 429.2h0M101.3 430h0M101.4 430.8h0M100.7 431.2h0M101.6 431.9h0M101.5 432.5h0M100.8 433h0M101 433.4h0M100.4 434.1h0M100.2 435h0M100.9 435.7h0M100.8 436.6h0M101.6 436.9h0M101.8 437.5h0M101.1 438.2h0M101.6 438.9h0M100.6 439.5h0M101.4 440.2h0M100.5 440.6h0M100.3 441.1h0M101 441.8h0M101.8 442.3h0M100.3 443h0M102.4 443.7h0M102.5 444.4h0M100.6 444.9h0M100.6 445.4h0M100.7 445.9h0M102.1 446.5h0M100.1 447.3h0M101.7 448h0M100 448.5h0M100.3 449.3h0M100.8 449.8h0M102.6 450.6h0M102.4 451.5h0M101.3 452.3h0M100.6 452.7h0M100.2 453.1h0M100.8 453.5h0M100.8 453.9h0M100.6 454.7h0M96.9 451.6h0M97.3 440.5h0M99.6 433.2h0M97.1 449.8h0M104.3 444.4h0M103.7 449.1h0M112.6 415.4h0M113.3 416.1h0M112.6 416.6h0M112.9 417.3h0M113.5 417.8h0M112.7 418.5h0M113.4 419.2h0M113.7 419.9h0M113.3 420.5h0M112.9 420.8h0M113.1 421.4h0M112.7 422h0M112.6 422.7h0M113.3 423.2h0M113 423.6h0M113.5 424.4h0M112.8 424.9h0M113.7 425.7h0M113.1 426.1h0M113.5 426.7h0M113.7 427.2h0M113.7 427.9h0M113.5 428.7h0M113 429.5h0M113.1 430h0M113.4 430.8h0M113.9 431.3h0M114.1 431.9h0M113.7 432.6h0M114.2 433.2h0M113.6 433.8h0M113.4 434.3h0M113.1 434.8h0M113.8 435.4h0M112.8 435.8h0M113.3 436.5h0M112.5 437.3h0M114 437.9h0M113.1 438.7h0M113.2 439.3h0M112.5 439.7h0M114.2 440.2h0M113 440.6h0M113.9 441.3h0M113 442h0M112.4 442.5h0M113.2 443.3h0M112.8 443.8h0M112.6 444.4h0M112.5 445h0M113.5 445.4h0M112.5 445.9h0M112.4 446.8h0M113 447.4h0M113 447.7h0M114 448.3h0M113.2 448.8h0M113.9 449.7h0M112.7 450.3h0M114.8 451h0M114.6 451.5h0M113.5 452.1h0M112.8 452.4h0M112.7 452.9h0M114.9 453.7h0M114.5 454.3h0M113.8 454.8h0M108.9 441.1h0M110 435.2h0M110.2 441.6h0M109.6 441.9h0M115.8 448h0M114.9 449h0M130 414.6h0M129 415.3h0M129.6 415.7h0M130.1 416.4h0M129 417.2h0M130.1 418h0M130.1 418.8h0M129.7 419.3h0M129.9 420h0M130 420.8h0M129.9 421.3h0M130.2 422h0M129.8 422.5h0M129.9 423.4h0M129.1 424.1h0M129.4 424.5h0M129 425.2h0M129.1 425.9h0M129.3 426.4h0M130 427.1h0M129.3 427.9h0M130.2 428.3h0M130.3 429h0M129.1 429.7h0M129.2 430.3h0M129.4 430.9h0M130.4 431.7h0M130.6 432.2h0M129.5 433h0M130.5 433.9h0M129.5 434.6h0M130.2 435.3h0M129.7 435.9h0M129.1 436.3h0M129.4 437h0M129.6 437.8h0M129.4 438.5h0M130.1 438.9h0M129.2 439.4h0M129.8 440h0M130.2 440.9h0M129.7 441.4h0M129 442.1h0M130.1 442.6h0M130.1 443.5h0M131 444h0M129.2 444.8h0M128.7 445.3h0M129.2 446.1h0M130.5 446.9h0M130.1 447.7h0M128.7 448.1h0M128.6 448.8h0M130.7 449.5h0M129.8 449.9h0M129 450.5h0M130.3 451h0M129 451.4h0M131.2 451.9h0M128.8 452.8h0M129.7 453.4h0M129.2 453.8h0M128.5 454.5h0M127.4 444.6h0M125.2 449h0M127.9 442h0M127.3 445.2h0M132.2 439.5h0M131.8 451.3h0M134.5 402.3h0M134.5 403.1h0M134.3 403.5h0M134.4 404h0M134.8 404.5h0M134.1 405.2h0M135 405.7h0M135 406.5h0M134.9 407h0M134.9 407.3h0M135 407.8h0M134.6 408.6h0M135.2 409.4h0M134.9 410.2h0M134.5 410.9h0M134.2 411.6h0M134.2 412.2h0M134.9 412.6h0M134.3 413.2h0M134.4 414.1h0M134.7 414.7h0M135.4 415.2h0M135.3 416h0M135.3 416.5h0M135.4 417.3h0M134.3 417.8h0M134.2 418.2h0M134.1 418.9h0M134.5 419.5h0M134.1 420.3h0M135.5 421h0M134.6 421.5h0M134.5 422.3h0M135.6 423.1h0M134.8 423.6h0M134.9 424h0M135.6 424.6h0M135.6 425.3h0M135.4 426.1h0M135.1 426.7h0M134.6 427.1h0M135.7 427.9h0M134.8 428.4h0M135.1 429h0M134.4 429.6h0M134.8 430.5h0M135.3 431.2h0M134.9 432.1h0M135.4 432.8h0M134 433.3h0M135.3 434.1h0M135.5 434.8h0M135.7 435.3h0M135.9 436h0M135.7 436.7h0M134.2 437h0M135.3 437.7h0M134 438.3h0M134 439.1h0M134.3 439.9h0M135.2 440.7h0M134.6 441.2h0M135.1 441.6h0M135.1 442.1h0M134.1 442.6h0M134.4 443.4h0M134.8 444.3h0M135.6 444.7h0M134.7 445.6h0M134.6 446.3h0M134.5 447.2h0M133.7 447.6h0M135.4 448.3h0M134.8 448.8h0M134.7 449.3h0M135.2 449.8h0M133.7 450.5h0M134.4 451.3h0M134.2 452h0M134.8 452.7h0M134.8 453.3h0M133.8 454h0M134.9 454.9h0M130.6 445.7h0M130.8 443h0M133 439.8h0M132.5 447.7h0M138.1 439.7h0M137 441.4h0M140.9 408.9h0M140.3 409.4h0M140.4 410.1h0M140.8 410.9h0M141 411.3h0M140.7 412.2h0M140.7 413.1h0M140.7 413.4h0M141.2 414h0M141.3 414.6h0M140.6 415.1h0M140.2 415.4h0M140.2 416.2h0M140.7 416.6h0M140.5 417.5h0M141.1 417.8h0M140.3 418.6h0M141.3 419.4h0M141.3 420.3h0M141.1 421h0M141 421.4h0M140.6 421.9h0M140.3 422.4h0M141.2 423.2h0M140.9 423.6h0M140.9 424h0M141.6 424.4h0M140.9 424.9h0M141.5 425.4h0M140.6 425.8h0M141.3 426.2h0M141.5 426.8h0M140.3 427.3h0M140.2 427.9h0M140.9 428.4h0M140.4 429h0M141 429.5h0M140.9 430.1h0M140.3 430.8h0M140.2 431.2h0M141.3 431.9h0M140.6 432.4h0M141.7 432.9h0M141.4 433.5h0M140.1 433.9h0M141.2 434.3h0M141.7 434.9h0M141.3 435.7h0M141.9 436.6h0M140.2 437.5h0M140.3 438h0M141 438.7h0M140.1 439.1h0M141.3 439.7h0M141 440.3h0M141.5 441h0M140.9 441.7h0M141.9 442.2h0M140.4 442.6h0M141.3 443h0M140.1 443.7h0M141.3 444.3h0M140 445.1h0M140.5 445.8h0M140.1 446.4h0M141.4 447.2h0M141.2 448h0M140.9 448.4h0M140 448.8h0M139.8 449.6h0M139.9 450.2h0M142.6 450.9h0M140.8 451.3h0M140.4 452.2h0M142.6 452.7h0M140.8 453.6h0M142.1 454.3h0M139.7 454.8h0M137.2 431.6h0M138 443.3h0M138.2 439.2h0M139.4 432.7h0M144.1 451.5h0M142.2 447.8h0M50.2 456.8h0M52.4 454.7h0M52.6 451.7h0M50.4 453.1h0M51.2 451.4h0M52.6 456.6h0M50.7 451.7h0M50.7 453.3h0M51.8 456.9h0M52.6 450.3h0M50.4 453.1h0M52.7 453.8h0M52 457.4h0M51.2 453.1h0M52.1 455.6h0M52.8 452.1h0M52.7 454.1h0M52.4 455.6h0M51.5 457.6h0M50 452.2h0M51.3 457.3h0M50.4 456.9h0M50.1 452.8h0M51.2 456.3h0M51.4 457.6h0M56.2 449h0M56.6 462.5h0M61 442.3h0M144.7 431h0M144.8 428h0M144.9 425h0M145.3 419.9h0M145.1 419.2h0M145.2 418.7h0M145.4 417.8h0M145.4 417.3h0M145.6 416.4h0M145.7 415.6h0M145.7 415h0M145.8 414.2h0M145.7 413.8h0M145.8 413h0M145.6 412.1h0M145.9 411.7h0M145.7 410.8h0M145.9 410h0M145.8 409.6h0M145.8 408.8h0M146 408h0M146.2 407.4h0M146.2 406.4h0M146.3 406h0M146 405h0M146.4 404.6h0M146.3 403.9h0M146.2 402.9h0M146.6 402.4h0M146.4 401.6h0M146.5 401h0M146.5 400.1h0M146.7 399.5h0M146.6 398.8h0M146.7 398h0M146.7 397.2h0M146.8 396.4h0M146.8 395.8h0M146.9 395.1h0M147.2 394.6h0M147 393.6h0M147 393.2h0M147.3 392.4h0M147.4 391.5h0M147.2 390.7h0M147.3 390.3h0M147.2 389.4h0M147.3 388.6h0M147.5 388.1h0M147.7 387.2h0M147.5 386.4h0M147.5 385.7h0M147.5 385h0M147.8 384.4h0M148 383.7h0M147.7 382.9h0M148 382.5h0M148 381.5h0M147.9 380.9h0M148 380.1h0M147.9 379.3h0M148.3 379h0M148.4 378h0M148.3 377.2h0M148.1 376.4h0M148.3 376.1h0M148.4 375.1h0M148.4 374.5h0M148.3 373.8h0M148.7 373.1h0M148.8 372.5h0M148.5 371.8h0M148.7 370.9h0M148.6 370.3h0M148.6 369.5h0M148.7 368.8h0M149 368.2h0M148.9 367.5h0M149 366.8h0M148.9 365.9h0M149.1 365.5h0M149.3 364.6h0M149.1 363.9h0M149.1 363.1h0M149.4 362.6h0M149.2 361.6h0M149.4 361h0M149.7 360.1h0M149.4 359.5h0M149.7 358.6h0M149.6 358.2h0M149.7 357.2h0M149.6 356.7h0M149.9 355.9h0M150 355.3h0M150 354.4h0M150.2 353.6h0M150.2 353h0M150.2 352.2h0M151.6 352.1h0M151.9 352.6h0M152.6 353.4h0M153.1 357.1h0M153 359.4h0M153.1 361.9h0M153.3 364.6h0M153.5 367h0M153.6 369.4h0M153.5 371.9h0M153.7 374.5h0M153.7 377h0M154 379.6h0M154 382.1h0M154 384.5h0M154.2 386.9h0M154.2 389.5h0M154.2 392h0M154.3 394.8h0M154.3 397.5h0M154.4 400.3h0M154.5 403.1h0M154.5 405.8h0M154.7 408.6h0M154.8 411.1h0M155 413.9h0M155 416.6h0M154.9 419.2h0M154.9 421.7h0M154.9 424.3h0M155 426.9h0M155.1 429.6h0M155.2 432.2h0M155.3 434.8h0M155.3 437.5h0M155.3 440h0M144.8 427.9h0M144.7 427h0M145.3 425.4h0M145.3 424.3h0M145.4 423.2h0M145.1 421.6h0M145.2 420.8h0M145.2 419.2h0M145.3 418h0M168.6 453.2h0M168.7 455h0M168.5 456.5h0M193.2 438.2h0M193.1 452.2h0M193.3 454.6h0M193.2 457h0M193.2 462.4h0" stroke="#1e8fff" stroke-width="2.4" stroke-linecap="round" fill="none"/>
<path d="M49.3 460.3L49.9 460.5L50.5 460.9L51.1 460.6L51.7 460.8L52.3 460.8L52.9 460.9L53.5 460.7L54.1 460.6L54.7 460.5L55.3 460.9L55.9 460.8L56.5 460.7L57.1 460.3L57.7 460.7L58.3 460.7L58.9 460.4L59.5 460.5L60.1 460.6L60.7 460.5L61.3 460.4L61.9 460.4L62.5 460.6L63.1 460.3L63.7 460.8L64.3 460.6L64.9 460.5L65.5 460.5L66.1 460.5L66.7 460.7L67.3 460.7L67.9 460.6L68.5 460.7L69.1 460.6L69.7 460.8L70.3 460.7L70.9 460.8L71.5 460.3L72.1 460.5L72.7 460.4L73.3 460.8L73.9 460.4L74.5 460.9L75.1 460.5L75.7 460.4L76.3 460.7L76.9 460.4L77.5 460.5L78.1 460.6L78.7 460.7L79.3 460.6L79.9 460.7L80.5 460.8L81.1 460.9L81.7 460.7L82.3 460.6L82.9 460.6L83.5 460.5L84.1 460.8L84.7 460.6L85.3 460.7L85.9 460.8L86.5 460.7L87.1 460.8L87.7 460.6L88.3 460.7L88.9 460.8L89.5 460.6L90.1 460.8L90.7 460.5L91.3 460.4L91.9 460.8L92.5 460.6L93.1 460.9L93.7 460.7L94.3 460.5L94.9 460.4L95.5 460.8L96.1 460.5L96.7 460.4L97.3 460.6L97.9 460.7L98.5 460.6L99.1 460.3L99.7 460.8L100.3 460.7L100.9 460.5L101.5 460.9L102.1 460.6L102.7 460.8L103.3 460.4L103.9 460.5L104.5 460.8L105.1 460.7L105.7 460.7L106.3 460.7L106.9 460.3L107.5 460.8L108.1 460.3L108.7 460.4L109.3 460.5L109.9 460.6L110.5 460.4L111.1 460.6L111.7 460.4L112.3 460.5L112.9 460.5L113.5 460.4L114.1 460.8L114.7 460.3L115.3 460.4L115.9 460.8L116.5 460.5L117.1 460.9L117.7 460.5L118.3 460.6L118.9 460.6L119.5 460.5L120.1 460.9L120.7 460.5L121.3 460.8L121.9 460.6L122.5 460.5L123.1 460.8L123.7 460.9L124.3 460.3L124.9 460.7L125.5 460.8L126.1 460.6L126.7 460.5L127.3 460.7L127.9 460.4L128.5 460.6L129.1 460.4L129.7 460.8L130.3 460.8L130.9 460.5L131.5 460.8L132.1 460.6L132.7 460.7L133.3 460.4L133.9 460.8L134.5 460.7L135.1 460.9L135.7 460.5L136.3 460.5L136.9 460.8L137.5 460.5L138.1 460.8L138.7 460.8L139.3 460.4L139.9 460.7L140.5 460.5L141.1 460.5L141.7 460.5L142.3 460.8L142.9 460.7L143.5 460.5L144.1 460.7L144.7 460.8L145.3 460.4L145.9 460.8L146.5 460.6L147.1 460.7L147.7 460.8L148.3 460.4L148.9 460.6L149.5 460.7L150.1 460.3L150.7 460.5L151.3 460.6L151.9 460.6L152.5 460.6L153.1 460.8L153.7 460.4L154.3 460.7L154.9 460.5L155.5 460.4L156.1 460.6L156.7 460.4L157.3 460.6L157.9 460.4L158.5 460.6L159.1 460.4L159.7 460.9L160.3 460.4L160.9 460.6L161.5 460.7L162.1 460.7L162.7 460.4L163.3 460.8L163.9 460.5L164.5 460.3L165.1 460.6L165.7 460.7L166.3 460.5L166.9 460.7L167.5 460.5L168.1 460.8L168.7 460.9L169.3 460.8L169.9 460.3L170.5 460.6L171.1 460.6L171.7 460.5L172.3 460.4L172.9 460.7L173.5 460.4L174.1 460.4L174.7 460.6L175.3 460.9L175.9 460.5L176.5 460.9L177.1 460.7L177.7 460.7L178.3 460.8L178.9 460.6L179.5 460.7L180.1 460.6L180.7 460.8L181.3 460.8L181.9 460.3L182.5 460.9L183.1 460.3L183.7 460.7L184.3 460.3L184.9 460.8L185.5 460.6L186.1 460.4L186.7 460.8L187.3 460.4L187.9 460.8L188.5 460.5L189.1 460.6L189.7 460.6L190.3 460.8L190.9 460.5L191.5 460.6L192.1 460.4L192.7 460.5L193.3 460.4L193.9 460.5L194.5 460.5L195.1 460.7L195.7 460.4L196.3 460.4L196.9 460.9L197.5 460.7L198.1 460.4L198.7 460.8L199.3 460.8L199.9 460.7L200.5 460.9L201.1 460.6L201.7 460.4L202.3 460.3L202.9 460.4L203.5 460.6L204.1 460.6L204.7 460.8L205.3 460.3L205.9 460.3L206.5 460.4L207.1 460.5L207.7 460.9L208.3 460.8L208.9 460.3L209.5 460.7L210.1 460.4L210.7 460.4L211.3 460.5L211.9 460.4L212.5 460.5L213.1 460.4L213.7 460.5L214.3 460.7L214.9 460.6L215.5 460.7L216.1 460.5" stroke="#0a5c2c" stroke-width="2.9" fill="none" stroke-linejoin="round"/>
<path d="M61.1 459.5 L61.2 458.9 L61.3 458.6 L61.5 458.1 L61.4 457.5 L61.7 457.1 L61.8 456.4 L62 455.9 L62 455.5 L62.1 455.1 L62.2 454.3 L62.2 453.7 L62.3 453.2 L62.3 452.6 L62.5 452 L62.5 451.7 L63.1 451.4 L63.6 451.8 L63.9 452.3 L63.8 452.7 L64.1 453.4 L64 454 L64.1 454.3 L64.4 454.8 L64.5 455.4 L64.6 455.9 L64.6 456.5 L64.7 457.1 L64.6 457.6 L64.9 458 L64.8 458.6 L65 458.9 L65.1 459.5" stroke="#0a5c2c" stroke-width="2.3" stroke-linecap="round" stroke-linejoin="round" fill="none"/>
<path d="M68.8 459.6 L68.9 459 L68.7 458.4 L69 457.9 L69.1 457.4 L69.2 456.9 L69.3 456.4 L69.5 456 L69.4 455.6 L69.4 455.1 L69.5 454.2 L69.6 453.8 L69.8 453.1 L70 452.8 L70.1 452.3 L70 451.7 L70.8 451.3 L71 451.7 L71.4 452.2 L71.5 452.7 L71.5 453.4 L71.6 453.8 L71.6 454.4 L71.8 454.9 L71.8 455.4 L71.9 456 L72 456.4 L72.1 457.1 L72.3 457.4 L72.4 458.1 L72.4 458.6 L72.6 459 L72.6 459.5" stroke="#0a5c2c" stroke-width="2.3" stroke-linecap="round" stroke-linejoin="round" fill="none"/>
<path d="M75.9 459.6 L75.9 459.1 L76 458.4 L75.9 458.1 L76.1 457.6 L76.4 456.9 L76.2 456.5 L76.3 455.9 L76.4 455.4 L76.6 454.9 L76.8 454.5 L76.9 453.8 L77 453.4 L77.1 452.7 L77.1 452.3 L77.1 451.6 L77.7 451.4 L78 451.8 L78.3 452.1 L78.6 452.7 L78.7 453.4 L78.7 453.8 L78.8 454.5 L78.8 455 L78.9 455.4 L79 456.1 L79.3 456.5 L79.2 456.9 L79.3 457.5 L79.6 458 L79.5 458.5 L79.5 459 L79.7 459.5" stroke="#0a5c2c" stroke-width="2.3" stroke-linecap="round" stroke-linejoin="round" fill="none"/>
<path d="M82.9 459.4 L82.9 459 L83.1 458.4 L83 458 L83.1 457.4 L83.5 457.1 L83.6 456.4 L83.6 456.1 L83.6 455.4 L83.6 454.9 L83.8 454.4 L83.8 453.7 L83.9 453.2 L84 452.6 L84.1 452.3 L84.2 451.6 L84.9 451.3 L85.2 451.9 L85.4 452.2 L85.7 452.8 L85.7 453.3 L85.9 453.8 L86 454.5 L86.1 454.9 L86 455.4 L86.1 456 L86.1 456.4 L86.3 457 L86.4 457.6 L86.4 458 L86.7 458.6 L86.7 459.1 L86.8 459.5" stroke="#0a5c2c" stroke-width="2.3" stroke-linecap="round" stroke-linejoin="round" fill="none"/>
<path d="M90.6 459.5 L90.5 458.9 L90.7 458.4 L90.8 457.9 L90.8 457.5 L90.9 456.9 L90.9 456.6 L91.1 456.1 L91.2 455.4 L91.3 455 L91.3 454.3 L91.6 453.8 L91.6 453.3 L91.8 452.6 L91.7 452.2 L92 451.7 L92.4 451.3 L92.8 451.7 L93 452.1 L93.1 452.7 L93.2 453.2 L93.3 453.9 L93.5 454.4 L93.7 454.8 L93.7 455.6 L93.7 455.9 L93.9 456.5 L93.8 457.1 L94.1 457.5 L94.1 458 L94.2 458.5 L94.3 459.1 L94.4 459.5" stroke="#0a5c2c" stroke-width="2.3" stroke-linecap="round" stroke-linejoin="round" fill="none"/>
<path d="M99.2 459.4 L99.3 459.1 L99.4 458.4 L99.5 458.1 L99.5 457.6 L99.6 457 L99.7 456.6 L99.7 455.9 L99.9 455.4 L100 454.8 L100 454.3 L100.3 453.9 L100.2 453.3 L100.4 452.6 L100.5 452.2 L100.7 451.7 L101.1 451.4 L101.5 451.8 L101.9 452.2 L101.9 452.8 L102.1 453.3 L102.1 453.7 L102.2 454.3 L102.4 455 L102.3 455.5 L102.6 456.1 L102.5 456.5 L102.7 457 L102.9 457.6 L103 458.1 L102.8 458.6 L103 458.9 L103.1 459.5" stroke="#0a5c2c" stroke-width="2.3" stroke-linecap="round" stroke-linejoin="round" fill="none"/>
<path d="M111.4 459.5 L111.4 459.1 L111.5 458.4 L111.6 458.1 L111.8 457.5 L111.8 456.9 L112 456.6 L111.9 456.1 L112.2 455.5 L112.1 455 L112.3 454.4 L112.3 453.8 L112.6 453.2 L112.6 452.8 L112.7 452 L112.9 451.7 L113.4 451.5 L113.7 451.8 L114 452.3 L114 452.7 L114.2 453.4 L114.4 453.8 L114.5 454.5 L114.5 455 L114.7 455.5 L114.6 455.9 L114.9 456.4 L115 457.1 L115.1 457.6 L115.1 458.1 L115.3 458.6 L115.3 458.9 L115.3 459.5" stroke="#0a5c2c" stroke-width="2.3" stroke-linecap="round" stroke-linejoin="round" fill="none"/>
<path d="M127.9 459.4 L127.8 459.1 L128 458.6 L128 457.9 L128 457.6 L128.3 457 L128.4 456.4 L128.5 455.9 L128.4 455.5 L128.6 454.9 L128.8 454.3 L128.9 453.8 L128.9 453.4 L129.1 452.8 L129.2 452.1 L129.2 451.6 L129.9 451.3 L130.2 451.8 L130.5 452.3 L130.6 452.7 L130.6 453.2 L130.6 453.8 L130.7 454.4 L130.9 455 L131.1 455.6 L131.1 456 L131.2 456.5 L131.2 456.9 L131.3 457.5 L131.4 458 L131.6 458.6 L131.6 459.1 L131.7 459.5" stroke="#0a5c2c" stroke-width="2.3" stroke-linecap="round" stroke-linejoin="round" fill="none"/>
<path d="M132.8 459.5 L133 459 L133.1 458.4 L133.3 457.9 L133.3 457.5 L133.3 456.9 L133.6 456.5 L133.5 456 L133.6 455.5 L133.7 454.8 L133.7 454.4 L133.8 453.8 L133.9 453.3 L134 452.6 L134.1 452.1 L134.3 451.7 L135 451.5 L135.2 451.7 L135.5 452.2 L135.6 452.7 L135.7 453.2 L135.9 454 L135.9 454.4 L136 455 L136.1 455.4 L136.2 455.9 L136.3 456.5 L136.4 457.1 L136.4 457.4 L136.5 458.1 L136.7 458.4 L136.6 458.9 L136.8 459.5" stroke="#0a5c2c" stroke-width="2.3" stroke-linecap="round" stroke-linejoin="round" fill="none"/>
<path d="M139.1 459.6 L139 459.1 L139.3 458.6 L139.2 458.1 L139.3 457.6 L139.3 457 L139.5 456.6 L139.7 456 L139.7 455.4 L139.9 454.9 L140 454.6 L140.1 454 L140.3 453.5 L140.5 452.9 L141 452.9 L141.4 453.1 L141.5 453.7 L141.7 454.3 L141.9 455 L142.3 455.5 L142.4 456.1 L142.4 456.4 L142.3 456.9 L142.4 457.6 L142.7 458.1 L142.7 458.5 L142.9 459.1 L142.9 459.5" stroke="#0a5c2c" stroke-width="2.3" stroke-linecap="round" stroke-linejoin="round" fill="none"/>
<path d="M143.4 459.4 L143.5 459 L143.6 458.4 L143.7 458.1 L143.9 457.5 L143.9 457.1 L144 456.6 L144.2 456 L144.3 455.6 L144.6 454.9 L144.7 454.5 L144.8 453.9 L144.8 453.4 L144.9 452.9 L145 452.5 L145.2 451.9 L145.5 451.5 L145.5 450.9 L145.6 450.6 L145.7 450 L146 449.5 L146.1 448.9 L146.2 448.4 L146.3 447.9 L146.6 447.5 L146.8 446.9 L146.8 446.4 L147.2 445.9 L147.1 445.5 L147.5 444.8 L147.5 444.4 L148 443.7 L148.3 443.3 L148.5 443 L149.1 442.7 L149.5 442.4 L150 442.3 L150.4 442.1 L151.1 441.9 L151.9 441.9 L152.2 442.4 L152.7 443.1 L152.8 443.5 L153 444 L153 444.5 L153.1 444.9 L153.4 445.4 L153.5 445.9 L153.4 446.4 L153.7 447.1 L153.6 447.5 L153.7 448 L153.7 448.5 L153.9 448.9 L153.8 449.5 L154 449.9 L154 450.6 L154.1 451 L154.2 451.4 L154.1 451.9 L154.3 452.5 L154.4 453 L154.3 453.6 L154.3 454 L154.5 454.6 L154.4 455.1 L154.6 455.5 L154.6 456 L154.7 456.6 L154.9 457 L154.9 457.6 L155 458.2 L155.2 458.6 L155.2 459 L155.3 459.6" stroke="#0a5c2c" stroke-width="2.8" stroke-linecap="round" stroke-linejoin="round" fill="none"/>
<path d="M192.8 459.5 L193.2 457.2 L193.6 459.5" stroke="#0a5c2c" stroke-width="2" stroke-linecap="round" stroke-linejoin="round" fill="none"/>
<path d="M168.4 459.8 L168.7 458.5 L169 459.8" stroke="#0a5c2c" stroke-width="2" stroke-linecap="round" stroke-linejoin="round" fill="none"/>
<path d="M49.5 440.7 L50 440.9 L50.6 440.8 L51 441 L51.5 440.9 L52.1 440.8 L52.5 440.6 L53 440.6 L53.4 440.5 L54 440.4 L54.4 440.4 L55 440.4 L55.4 440.2 L56.1 440.1 L56.5 440.1 L57 440 L57.6 440 L58 439.9 L58.6 440 L59 439.8 L59.5 439.7 L60 439.8" stroke="#ff0000" stroke-width="2.4" stroke-linecap="round" stroke-linejoin="round" fill="none"/>
<path d="M60.2 439.8 L60.7 439.7 L61.2 439.8 L61.7 439.8 L62.2 439.7 L62.7 439.7 L63.2 439.7 L63.7 439.7 L64.2 439.9 L64.7 439.8 L65.2 439.8 L65.7 439.7 L66.2 439.9 L66.7 439.8 L67.2 439.7 L67.7 439.8 L68.2 439.6 L68.7 439.9 L69.2 439.8 L69.7 439.7 L70.2 439.7 L70.7 439.9 L71.2 439.8 L71.7 439.8 L72.2 439.8 L72.7 439.7 L73.2 439.8 L73.7 439.8 L74.2 439.7 L74.7 439.6 L75.2 439.7 L75.7 439.8 L76.2 439.7 L76.7 439.8 L77.2 439.6 L77.7 439.8 L78.2 439.8 L78.7 439.7 L79.2 439.8 L79.7 439.8 L80.2 439.7 L80.7 439.8 L81.2 439.6 L81.7 439.7 L82.2 439.6 L82.7 439.8 L83.2 439.8 L83.7 439.6 L84.2 439.7 L84.7 439.7 L85.2 439.7 L85.7 439.7 L86.2 439.7 L86.7 439.7 L87.2 439.7 L87.7 439.7 L88.2 439.6 L88.7 439.7 L89.2 439.8 L89.7 439.6 L90.2 439.7 L90.7 439.7 L91.2 439.6 L91.7 439.6 L92.2 439.6 L92.7 439.7 L93.2 439.6 L93.7 439.6 L94.2 439.7 L94.7 439.6 L95.2 439.7 L95.7 439.7 L96.2 439.6 L96.7 439.7 L97.2 439.7 L97.7 439.8 L98.2 439.6 L98.7 439.7 L99.2 439.7 L99.7 439.7 L100.2 439.5 L100.7 439.6 L101.2 439.6 L101.7 439.5 L102.2 439.5 L102.7 439.7 L103.2 439.5 L103.7 439.6 L104.2 439.6 L104.7 439.6 L105.2 439.6 L105.7 439.6 L106.2 439.6 L106.7 439.6 L107.2 439.7 L107.7 439.6 L108.2 439.5 L108.7 439.7 L109.2 439.5 L109.7 439.7 L110.2 439.7 L110.7 439.7 L111.2 439.6 L111.7 439.7 L112.2 439.7 L112.7 439.7 L113.2 439.6 L113.7 439.7 L114.2 439.7 L114.7 439.6 L115.2 439.6 L115.7 439.7 L116.2 439.7 L116.7 439.6 L117.2 439.7 L117.7 439.6 L118.2 439.6 L118.7 439.5 L119.2 439.5 L119.7 439.5 L120.2 439.6 L120.7 439.6 L121.2 439.5 L121.7 439.5 L122.2 439.6 L122.7 439.5 L123.2 439.5 L123.7 439.6 L124.2 439.4 L124.7 439.5 L125.2 439.5 L125.7 439.6 L126.2 439.6 L126.7 439.5 L127.2 439.5 L127.7 439.4 L128.2 439.6 L128.7 439.6 L129.2 439.4 L129.7 439.5 L130.2 439.6 L130.7 439.6 L131.2 439.6 L131.7 439.6 L132.2 439.6 L132.7 439.4 L133.2 439.6 L133.7 439.6 L134.2 439.6 L134.7 439.6 L135.2 439.5 L135.7 439.5 L136.2 439.4 L136.7 439.5 L137.2 439.6 L137.7 439.6 L138.2 439.5 L138.7 439.5 L139.2 439.4 L139.7 439.5 L140.2 439.4 L140.7 439.5 L141.2 439.5 L141.7 439.5 L142.2 439.5 L142.7 439.5 L143.2 439.5 L143.7 439.5 L144.2 439.6 L144.7 439.6 L145.2 439.5 L145.7 439.5 L146.2 439.4 L146.7 439.4 L147.2 439.4 L147.7 439.4 L148.2 439.5 L148.7 439.6 L149.2 439.5 L149.7 439.4 L150.2 439.4 L150.7 439.5 L151.2 439.5 L151.7 439.4 L152.2 439.6 L152.7 439.5 L153.2 439.6 L153.7 439.6 L154.2 439.5 L154.7 439.5 L155.2 439.5 L155.7 439.4 L156.2 439.4 L156.7 439.4 L157.2 439.5 L157.7 439.3 L158.2 439.4 L158.7 439.5 L159.2 439.5 L159.7 439.4 L160.2 439.5 L160.7 439.5 L161.2 439.5 L161.7 439.3 L162.2 439.4 L162.7 439.4 L163.2 439.5 L163.7 439.5 L164.2 439.3 L164.7 439.4 L165.2 439.3 L165.7 439.3 L166.2 439.3 L166.7 439.4 L167.2 439.3 L167.7 439.4 L168.2 439.4 L168.7 439.5 L169.2 439.3 L169.7 439.5 L170.2 439.3 L170.7 439.3 L171.2 439.4 L171.7 439.4 L172.2 439.5 L172.7 439.3 L173.2 439.3 L173.7 439.3 L174.2 439.3 L174.7 439.4 L175.2 439.4 L175.7 439.3 L176.2 439.3 L176.7 439.4 L177.2 439.4 L177.7 439.3 L178.2 439.3 L178.7 439.2 L179.2 439.3 L179.7 439.3 L180.2 439.3 L180.7 439.3 L181.2 439.4 L181.7 439.2 L182.2 439.2 L182.7 439.2 L183.2 439.3 L183.7 439.3 L184.2 439.4 L184.7 439.4 L185.2 439.3 L185.7 439.2 L186.2 439.3 L186.7 439.4 L187.2 439.2 L187.7 439.4 L188.2 439.3 L188.7 439.4 L189.2 439.4 L189.7 439.2 L190.2 439.4 L190.7 439.3 L191.2 439.3 L191.7 439.3 L192.2 439.4 L192.7 439.3 L193.2 439.3 L193.7 439.3 L194.2 439.2 L194.7 439.3 L195.2 439.2 L195.7 439.4 L196.2 439.2 L196.7 439.3 L197.2 439.2 L197.7 439.3 L198.2 439.3 L198.7 439.3 L199.2 439.3 L199.7 439.4 L200.2 439.2 L200.7 439.2 L201.2 439.3 L201.7 439.4 L202.2 439.2 L202.7 439.2 L203.2 439.3 L203.7 439.2 L204.2 439.1 L204.7 439.3 L205.2 439.2 L205.7 439.3 L206.2 439.1 L206.7 439.2 L207.2 439.1 L207.7 439.3 L208.2 439.2 L208.7 439.3 L209.2 439.1 L209.7 439.2 L210.2 439.2 L210.7 439.3 L211.2 439.2 L211.7 439.3 L212.2 439.2 L212.7 439.2 L213.2 439.2 L213.7 439.2 L214.2 439.1 L214.7 439.1 L215.2 439.3 L215.7 439.3 L216.2 439.2" stroke="#ff0000" stroke-width="2.3" stroke-linecap="round" stroke-linejoin="round" fill="none"/>
<path d="M192.6 442.3h0M192.9 441.4h0M193.3 437.4h0M193.5 438h0" stroke="#ff0000" stroke-width="1.8" stroke-linecap="round" fill="none"/>
<rect x="336.8" y="346.8" width="115" height="45" rx="8.5" ry="8.5" fill="#fff" stroke="#bdbdbd" stroke-width="1"/>
<circle cx="344.3" cy="356.3" r="3.3" fill="#ff0000"/>
<circle cx="344.3" cy="369.6" r="3.3" fill="#0a5c2c"/>
<circle cx="344.3" cy="383" r="3.3" fill="#1e8fff"/>
<text x="356.8" y="359.3" font-size="8.8" textLength="69" lengthAdjust="spacingAndGlyphs" stroke="#1e1e1e" stroke-width="0.32" fill="#1e1e1e">Volume Fraction</text>
<text x="356.8" y="372.5" font-size="8.8" textLength="58.3" lengthAdjust="spacingAndGlyphs" stroke="#1e1e1e" stroke-width="0.32" fill="#1e1e1e">CH<tspan dy="1.6" font-size="5.6">4</tspan><tspan dy="-1.6"> Vent Rate</tspan></text>
<text x="356.8" y="386.2" font-size="8.8" textLength="89.5" lengthAdjust="spacingAndGlyphs" stroke="#1e1e1e" stroke-width="0.32" fill="#1e1e1e">Whole Gas Vent Rate</text>
</svg></body></html>
